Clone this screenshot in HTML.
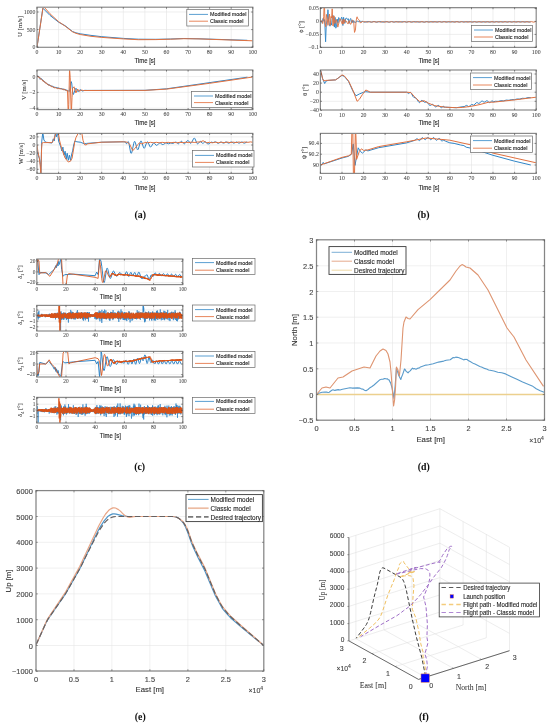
<!DOCTYPE html><html><head><meta charset="utf-8"><style>html,body{margin:0;padding:0;background:#fff;}svg{display:block;}</style></head><body><svg width="550" height="726" viewBox="0 0 550 726"><defs><clipPath id="c1"><rect x="37" y="7.2" width="215.8" height="40.1"/></clipPath><clipPath id="c2"><rect x="37" y="70" width="215.8" height="39.6"/></clipPath><clipPath id="c3"><rect x="37" y="133.4" width="215.8" height="40"/></clipPath><clipPath id="c4"><rect x="320.4" y="7.6" width="215.8" height="39.8"/></clipPath><clipPath id="c5"><rect x="320.4" y="70" width="215.8" height="40"/></clipPath><clipPath id="c6"><rect x="320.4" y="133.4" width="215.8" height="40"/></clipPath><clipPath id="c7"><rect x="36.8" y="259" width="146" height="25.6"/></clipPath><clipPath id="c8"><rect x="36.8" y="305.4" width="146" height="25.6"/></clipPath><clipPath id="c9"><rect x="36.8" y="351.4" width="146" height="25.6"/></clipPath><clipPath id="c10"><rect x="36.8" y="397.4" width="146" height="25.6"/></clipPath><clipPath id="c11"><rect x="316.5" y="239.8" width="228" height="180.4"/></clipPath><clipPath id="c12"><rect x="36" y="490.6" width="227.8" height="180.4"/></clipPath></defs><rect width="550" height="726" fill="#fff"/><line x1="58.6" y1="7.2" x2="58.6" y2="47.3" stroke="#e3e3e3" stroke-width="0.6"/>
<line x1="80.2" y1="7.2" x2="80.2" y2="47.3" stroke="#e3e3e3" stroke-width="0.6"/>
<line x1="101.7" y1="7.2" x2="101.7" y2="47.3" stroke="#e3e3e3" stroke-width="0.6"/>
<line x1="123.3" y1="7.2" x2="123.3" y2="47.3" stroke="#e3e3e3" stroke-width="0.6"/>
<line x1="144.9" y1="7.2" x2="144.9" y2="47.3" stroke="#e3e3e3" stroke-width="0.6"/>
<line x1="166.5" y1="7.2" x2="166.5" y2="47.3" stroke="#e3e3e3" stroke-width="0.6"/>
<line x1="188.1" y1="7.2" x2="188.1" y2="47.3" stroke="#e3e3e3" stroke-width="0.6"/>
<line x1="209.6" y1="7.2" x2="209.6" y2="47.3" stroke="#e3e3e3" stroke-width="0.6"/>
<line x1="231.2" y1="7.2" x2="231.2" y2="47.3" stroke="#e3e3e3" stroke-width="0.6"/>
<line x1="37" y1="29.6" x2="252.8" y2="29.6" stroke="#e3e3e3" stroke-width="0.6"/>
<line x1="37" y1="12" x2="252.8" y2="12" stroke="#e3e3e3" stroke-width="0.6"/>
<polyline points="37,47.2 42.8,8.6 43,8.3 50,15.4 58.6,22.2 65.1,25.7 72.5,31.5 75.9,32.8 80.2,33.8 91,35.4 101.8,36.7 123.4,38.4 138.3,39.2 155.8,39.3 170.7,39 183.9,38.5 199,38.8 247.3,40.3" fill="none" stroke="#2f84c6" stroke-width="1.0" stroke-linejoin="round" clip-path="url(#c1)"/>
<polyline points="37,47.2 43.2,6.5 44.2,7.2 50,13.8 58.6,21.7 65.1,26.1 72.5,31.8 75.9,33.3 80.2,34.5 91,36.3 101.8,37.4 123.4,38.9 138.3,39.7 155.8,39.6 170.7,39.2 183.9,38.7 199,38.9 252.8,40.8" fill="none" stroke="#e0703f" stroke-width="1.0" stroke-linejoin="round" clip-path="url(#c1)"/>
<rect x="37" y="7.2" width="215.8" height="40.1" fill="none" stroke="#8a8a8a" stroke-width="1.2"/>
<line x1="37" y1="47.3" x2="37" y2="45.7" stroke="#404040" stroke-width="0.6"/>
<line x1="37" y1="7.2" x2="37" y2="8.8" stroke="#404040" stroke-width="0.6"/>
<line x1="58.6" y1="47.3" x2="58.6" y2="45.7" stroke="#404040" stroke-width="0.6"/>
<line x1="58.6" y1="7.2" x2="58.6" y2="8.8" stroke="#404040" stroke-width="0.6"/>
<line x1="80.2" y1="47.3" x2="80.2" y2="45.7" stroke="#404040" stroke-width="0.6"/>
<line x1="80.2" y1="7.2" x2="80.2" y2="8.8" stroke="#404040" stroke-width="0.6"/>
<line x1="101.7" y1="47.3" x2="101.7" y2="45.7" stroke="#404040" stroke-width="0.6"/>
<line x1="101.7" y1="7.2" x2="101.7" y2="8.8" stroke="#404040" stroke-width="0.6"/>
<line x1="123.3" y1="47.3" x2="123.3" y2="45.7" stroke="#404040" stroke-width="0.6"/>
<line x1="123.3" y1="7.2" x2="123.3" y2="8.8" stroke="#404040" stroke-width="0.6"/>
<line x1="144.9" y1="47.3" x2="144.9" y2="45.7" stroke="#404040" stroke-width="0.6"/>
<line x1="144.9" y1="7.2" x2="144.9" y2="8.8" stroke="#404040" stroke-width="0.6"/>
<line x1="166.5" y1="47.3" x2="166.5" y2="45.7" stroke="#404040" stroke-width="0.6"/>
<line x1="166.5" y1="7.2" x2="166.5" y2="8.8" stroke="#404040" stroke-width="0.6"/>
<line x1="188.1" y1="47.3" x2="188.1" y2="45.7" stroke="#404040" stroke-width="0.6"/>
<line x1="188.1" y1="7.2" x2="188.1" y2="8.8" stroke="#404040" stroke-width="0.6"/>
<line x1="209.6" y1="47.3" x2="209.6" y2="45.7" stroke="#404040" stroke-width="0.6"/>
<line x1="209.6" y1="7.2" x2="209.6" y2="8.8" stroke="#404040" stroke-width="0.6"/>
<line x1="231.2" y1="47.3" x2="231.2" y2="45.7" stroke="#404040" stroke-width="0.6"/>
<line x1="231.2" y1="7.2" x2="231.2" y2="8.8" stroke="#404040" stroke-width="0.6"/>
<line x1="252.8" y1="47.3" x2="252.8" y2="45.7" stroke="#404040" stroke-width="0.6"/>
<line x1="252.8" y1="7.2" x2="252.8" y2="8.8" stroke="#404040" stroke-width="0.6"/>
<line x1="37" y1="47.2" x2="38.6" y2="47.2" stroke="#404040" stroke-width="0.6"/>
<line x1="252.8" y1="47.2" x2="251.2" y2="47.2" stroke="#404040" stroke-width="0.6"/>
<line x1="37" y1="29.6" x2="38.6" y2="29.6" stroke="#404040" stroke-width="0.6"/>
<line x1="252.8" y1="29.6" x2="251.2" y2="29.6" stroke="#404040" stroke-width="0.6"/>
<line x1="37" y1="12" x2="38.6" y2="12" stroke="#404040" stroke-width="0.6"/>
<line x1="252.8" y1="12" x2="251.2" y2="12" stroke="#404040" stroke-width="0.6"/>
<text x="37" y="54" font-family='"Liberation Serif", serif' font-size="5.8" text-anchor="middle" fill="#404040" stroke="#404040" stroke-width="0.04">0</text>
<text x="58.6" y="54" font-family='"Liberation Serif", serif' font-size="5.8" text-anchor="middle" fill="#404040" stroke="#404040" stroke-width="0.04">10</text>
<text x="80.2" y="54" font-family='"Liberation Serif", serif' font-size="5.8" text-anchor="middle" fill="#404040" stroke="#404040" stroke-width="0.04">20</text>
<text x="101.7" y="54" font-family='"Liberation Serif", serif' font-size="5.8" text-anchor="middle" fill="#404040" stroke="#404040" stroke-width="0.04">30</text>
<text x="123.3" y="54" font-family='"Liberation Serif", serif' font-size="5.8" text-anchor="middle" fill="#404040" stroke="#404040" stroke-width="0.04">40</text>
<text x="144.9" y="54" font-family='"Liberation Serif", serif' font-size="5.8" text-anchor="middle" fill="#404040" stroke="#404040" stroke-width="0.04">50</text>
<text x="166.5" y="54" font-family='"Liberation Serif", serif' font-size="5.8" text-anchor="middle" fill="#404040" stroke="#404040" stroke-width="0.04">60</text>
<text x="188.1" y="54" font-family='"Liberation Serif", serif' font-size="5.8" text-anchor="middle" fill="#404040" stroke="#404040" stroke-width="0.04">70</text>
<text x="209.6" y="54" font-family='"Liberation Serif", serif' font-size="5.8" text-anchor="middle" fill="#404040" stroke="#404040" stroke-width="0.04">80</text>
<text x="231.2" y="54" font-family='"Liberation Serif", serif' font-size="5.8" text-anchor="middle" fill="#404040" stroke="#404040" stroke-width="0.04">90</text>
<text x="252.8" y="54" font-family='"Liberation Serif", serif' font-size="5.8" text-anchor="middle" fill="#404040" stroke="#404040" stroke-width="0.04">100</text>
<text x="35.4" y="49.1" font-family='"Liberation Serif", serif' font-size="5.8" text-anchor="end" fill="#404040" stroke="#404040" stroke-width="0.04">0</text>
<text x="35.4" y="31.5" font-family='"Liberation Serif", serif' font-size="5.8" text-anchor="end" fill="#404040" stroke="#404040" stroke-width="0.04">500</text>
<text x="35.4" y="13.9" font-family='"Liberation Serif", serif' font-size="5.8" text-anchor="end" fill="#404040" stroke="#404040" stroke-width="0.04">1000</text>
<rect x="186.8" y="9.6" width="61.6" height="16.4" fill="#fff" stroke="#6a6a6a" stroke-width="0.7"/>
<line x1="189" y1="14.4" x2="208" y2="14.4" stroke="#5b9fd2" stroke-width="1.0"/>
<text x="210" y="16.3" font-family='"Liberation Sans", sans-serif' font-size="5.4" text-anchor="start" fill="#262626" stroke="#262626" stroke-width="0.12">Modified model</text>
<line x1="189" y1="21.2" x2="208" y2="21.2" stroke="#e8875d" stroke-width="1.0"/>
<text x="210" y="23.1" font-family='"Liberation Sans", sans-serif' font-size="5.4" text-anchor="start" fill="#262626" stroke="#262626" stroke-width="0.12">Classic model</text>
<text x="145" y="63.2" font-family='"Liberation Sans", sans-serif' font-size="6.3" text-anchor="middle" fill="#262626" stroke="#262626" stroke-width="0.12" textLength="21" lengthAdjust="spacingAndGlyphs">Time [s]</text>
<text x="0" y="0" font-family='"Liberation Serif", serif' font-size="7.0" text-anchor="middle" fill="#262626" stroke="#262626" stroke-width="0.04" textLength="21" lengthAdjust="spacingAndGlyphs" transform="translate(22.2,26.5) rotate(-90)">U [m/s]</text>
<line x1="58.6" y1="70" x2="58.6" y2="109.6" stroke="#e3e3e3" stroke-width="0.6"/>
<line x1="80.2" y1="70" x2="80.2" y2="109.6" stroke="#e3e3e3" stroke-width="0.6"/>
<line x1="101.7" y1="70" x2="101.7" y2="109.6" stroke="#e3e3e3" stroke-width="0.6"/>
<line x1="123.3" y1="70" x2="123.3" y2="109.6" stroke="#e3e3e3" stroke-width="0.6"/>
<line x1="144.9" y1="70" x2="144.9" y2="109.6" stroke="#e3e3e3" stroke-width="0.6"/>
<line x1="166.5" y1="70" x2="166.5" y2="109.6" stroke="#e3e3e3" stroke-width="0.6"/>
<line x1="188.1" y1="70" x2="188.1" y2="109.6" stroke="#e3e3e3" stroke-width="0.6"/>
<line x1="209.6" y1="70" x2="209.6" y2="109.6" stroke="#e3e3e3" stroke-width="0.6"/>
<line x1="231.2" y1="70" x2="231.2" y2="109.6" stroke="#e3e3e3" stroke-width="0.6"/>
<line x1="37" y1="108.2" x2="252.8" y2="108.2" stroke="#e3e3e3" stroke-width="0.6"/>
<line x1="37" y1="92.4" x2="252.8" y2="92.4" stroke="#e3e3e3" stroke-width="0.6"/>
<line x1="37" y1="76.6" x2="252.8" y2="76.6" stroke="#e3e3e3" stroke-width="0.6"/>
<polyline points="37,75.4 37.2,75.4 37.8,76.7 38.2,76.1 38.4,76.1 38.9,77.2 39,77.4 39.5,77.2 40.2,79.4 40.7,78.2 40.9,78.1 41,78.2 41.5,78.9 41.9,78.9 42.1,79.1 42.7,80.9 43.2,80.4 43.3,80.4 43.9,81.9 44.4,81.4 44.6,81.4 45.2,82.9 45.6,82.4 45.8,82.4 46.3,83.7 46.4,83.8 46.9,83.3 47,83.4 47.6,84.8 48.1,84.2 48.3,84.2 48.9,85.4 49.3,84.7 49.5,84.8 50.1,85.9 50.6,85.3 50.7,85.3 51.3,86.5 51.8,85.8 52,85.8 52.4,86.9 52.6,87 53,86.3 53.2,86.4 53.7,87.4 53.8,87.5 54.4,86.8 55,87.9 55.5,87.1 55.7,87.1 56.3,88.1 56.7,87.4 56.9,87.4 57.5,88.4 58,87.6 58.7,88.7 59.2,87.9 60,88.9 60.4,88.1 61.2,89.2 61.7,88.4 62.5,89.4 62.9,88.7 63.1,88.7 63.5,89.7 63.7,89.8 64.1,89.1 64.3,89.1 64.8,90.1 64.9,90.2 65.4,89.4 65.5,89.5 66,90.5 66.2,90.6 66.6,89.8 66.8,89.9 67.1,90.6 67.2,90.5 68.3,90.8 69.2,91.5 69.4,91.5 69.7,90.1 70.9,82.2 71.2,81.6 71.7,83.1 72.8,92.8 73.1,94.1 73.4,94.5 75.4,88.9 75.7,88.4 76,88.2 76.5,88.7 77.4,91.1 78,91.8 78.3,91.6 79.7,89.9 80.3,89.6 81.9,90.8 82.5,91 84.8,90.3 87.3,90.4 145,90.3 166.6,88.8 247.4,77.2" fill="none" stroke="#2f84c6" stroke-width="1.0" stroke-linejoin="round" clip-path="url(#c2)"/>
<polyline points="37,75.8 37.3,75.7 37.5,75.8 38.2,77.1 38.9,76.8 39.6,78.2 40.4,78.1 41.2,79.6 41.9,79.5 42.7,80.9 43.2,80.6 43.5,80.7 44.1,82 44.2,82.1 44.9,81.8 45.6,83.2 46.4,83 47.2,84.4 48,84.2 48.7,85.3 49.3,84.9 49.5,85 50.3,86.1 50.9,85.6 51.7,86.8 52.4,86.4 53.2,87.5 54,87.1 54.7,88.1 55.5,87.5 56.3,88.4 56.9,87.8 57.7,88.7 58.4,88 59.2,89 60,88.3 60.8,89.2 61.5,88.6 62.3,89.5 62.9,88.9 63.7,89.9 64.5,89.3 65.2,90.3 66,89.8 66.8,90.8 67.2,90.5 67.5,90.6 68.3,115.6 68.8,104.3 69.5,70.4 69.7,70.5 70.2,77.8 71.2,112.4 71.4,112.3 72,97.7 72.6,88.3 74,86.8 75.9,92.9 77.6,89 79.3,91.3 81.3,90.1 83.4,90.5 145,90.4 166.6,89.1 209.6,83.3 252.8,77" fill="none" stroke="#e0703f" stroke-width="1.0" stroke-linejoin="round" clip-path="url(#c2)"/>
<rect x="37" y="70" width="215.8" height="39.6" fill="none" stroke="#8a8a8a" stroke-width="1.2"/>
<line x1="37" y1="109.6" x2="37" y2="108" stroke="#404040" stroke-width="0.6"/>
<line x1="37" y1="70" x2="37" y2="71.6" stroke="#404040" stroke-width="0.6"/>
<line x1="58.6" y1="109.6" x2="58.6" y2="108" stroke="#404040" stroke-width="0.6"/>
<line x1="58.6" y1="70" x2="58.6" y2="71.6" stroke="#404040" stroke-width="0.6"/>
<line x1="80.2" y1="109.6" x2="80.2" y2="108" stroke="#404040" stroke-width="0.6"/>
<line x1="80.2" y1="70" x2="80.2" y2="71.6" stroke="#404040" stroke-width="0.6"/>
<line x1="101.7" y1="109.6" x2="101.7" y2="108" stroke="#404040" stroke-width="0.6"/>
<line x1="101.7" y1="70" x2="101.7" y2="71.6" stroke="#404040" stroke-width="0.6"/>
<line x1="123.3" y1="109.6" x2="123.3" y2="108" stroke="#404040" stroke-width="0.6"/>
<line x1="123.3" y1="70" x2="123.3" y2="71.6" stroke="#404040" stroke-width="0.6"/>
<line x1="144.9" y1="109.6" x2="144.9" y2="108" stroke="#404040" stroke-width="0.6"/>
<line x1="144.9" y1="70" x2="144.9" y2="71.6" stroke="#404040" stroke-width="0.6"/>
<line x1="166.5" y1="109.6" x2="166.5" y2="108" stroke="#404040" stroke-width="0.6"/>
<line x1="166.5" y1="70" x2="166.5" y2="71.6" stroke="#404040" stroke-width="0.6"/>
<line x1="188.1" y1="109.6" x2="188.1" y2="108" stroke="#404040" stroke-width="0.6"/>
<line x1="188.1" y1="70" x2="188.1" y2="71.6" stroke="#404040" stroke-width="0.6"/>
<line x1="209.6" y1="109.6" x2="209.6" y2="108" stroke="#404040" stroke-width="0.6"/>
<line x1="209.6" y1="70" x2="209.6" y2="71.6" stroke="#404040" stroke-width="0.6"/>
<line x1="231.2" y1="109.6" x2="231.2" y2="108" stroke="#404040" stroke-width="0.6"/>
<line x1="231.2" y1="70" x2="231.2" y2="71.6" stroke="#404040" stroke-width="0.6"/>
<line x1="252.8" y1="109.6" x2="252.8" y2="108" stroke="#404040" stroke-width="0.6"/>
<line x1="252.8" y1="70" x2="252.8" y2="71.6" stroke="#404040" stroke-width="0.6"/>
<line x1="37" y1="108.2" x2="38.6" y2="108.2" stroke="#404040" stroke-width="0.6"/>
<line x1="252.8" y1="108.2" x2="251.2" y2="108.2" stroke="#404040" stroke-width="0.6"/>
<line x1="37" y1="92.4" x2="38.6" y2="92.4" stroke="#404040" stroke-width="0.6"/>
<line x1="252.8" y1="92.4" x2="251.2" y2="92.4" stroke="#404040" stroke-width="0.6"/>
<line x1="37" y1="76.6" x2="38.6" y2="76.6" stroke="#404040" stroke-width="0.6"/>
<line x1="252.8" y1="76.6" x2="251.2" y2="76.6" stroke="#404040" stroke-width="0.6"/>
<text x="37" y="116.3" font-family='"Liberation Serif", serif' font-size="5.8" text-anchor="middle" fill="#404040" stroke="#404040" stroke-width="0.04">0</text>
<text x="58.6" y="116.3" font-family='"Liberation Serif", serif' font-size="5.8" text-anchor="middle" fill="#404040" stroke="#404040" stroke-width="0.04">10</text>
<text x="80.2" y="116.3" font-family='"Liberation Serif", serif' font-size="5.8" text-anchor="middle" fill="#404040" stroke="#404040" stroke-width="0.04">20</text>
<text x="101.7" y="116.3" font-family='"Liberation Serif", serif' font-size="5.8" text-anchor="middle" fill="#404040" stroke="#404040" stroke-width="0.04">30</text>
<text x="123.3" y="116.3" font-family='"Liberation Serif", serif' font-size="5.8" text-anchor="middle" fill="#404040" stroke="#404040" stroke-width="0.04">40</text>
<text x="144.9" y="116.3" font-family='"Liberation Serif", serif' font-size="5.8" text-anchor="middle" fill="#404040" stroke="#404040" stroke-width="0.04">50</text>
<text x="166.5" y="116.3" font-family='"Liberation Serif", serif' font-size="5.8" text-anchor="middle" fill="#404040" stroke="#404040" stroke-width="0.04">60</text>
<text x="188.1" y="116.3" font-family='"Liberation Serif", serif' font-size="5.8" text-anchor="middle" fill="#404040" stroke="#404040" stroke-width="0.04">70</text>
<text x="209.6" y="116.3" font-family='"Liberation Serif", serif' font-size="5.8" text-anchor="middle" fill="#404040" stroke="#404040" stroke-width="0.04">80</text>
<text x="231.2" y="116.3" font-family='"Liberation Serif", serif' font-size="5.8" text-anchor="middle" fill="#404040" stroke="#404040" stroke-width="0.04">90</text>
<text x="252.8" y="116.3" font-family='"Liberation Serif", serif' font-size="5.8" text-anchor="middle" fill="#404040" stroke="#404040" stroke-width="0.04">100</text>
<text x="35.4" y="110.1" font-family='"Liberation Serif", serif' font-size="5.8" text-anchor="end" fill="#404040" stroke="#404040" stroke-width="0.04">−4</text>
<text x="35.4" y="94.3" font-family='"Liberation Serif", serif' font-size="5.8" text-anchor="end" fill="#404040" stroke="#404040" stroke-width="0.04">−2</text>
<text x="35.4" y="78.5" font-family='"Liberation Serif", serif' font-size="5.8" text-anchor="end" fill="#404040" stroke="#404040" stroke-width="0.04">0</text>
<rect x="191.4" y="91.4" width="61.2" height="16" fill="#fff" stroke="#6a6a6a" stroke-width="0.7"/>
<line x1="194" y1="96" x2="213" y2="96" stroke="#5b9fd2" stroke-width="1.0"/>
<text x="215" y="97.9" font-family='"Liberation Sans", sans-serif' font-size="5.4" text-anchor="start" fill="#262626" stroke="#262626" stroke-width="0.12">Modified model</text>
<line x1="194" y1="102.6" x2="213" y2="102.6" stroke="#e8875d" stroke-width="1.0"/>
<text x="215" y="104.5" font-family='"Liberation Sans", sans-serif' font-size="5.4" text-anchor="start" fill="#262626" stroke="#262626" stroke-width="0.12">Classic model</text>
<text x="145" y="125.4" font-family='"Liberation Sans", sans-serif' font-size="6.3" text-anchor="middle" fill="#262626" stroke="#262626" stroke-width="0.12" textLength="21" lengthAdjust="spacingAndGlyphs">Time [s]</text>
<text x="0" y="0" font-family='"Liberation Serif", serif' font-size="7.0" text-anchor="middle" fill="#262626" stroke="#262626" stroke-width="0.04" textLength="20.4" lengthAdjust="spacingAndGlyphs" transform="translate(25.6,89.8) rotate(-90)">V [m/s]</text>
<line x1="58.6" y1="133.4" x2="58.6" y2="173.4" stroke="#e3e3e3" stroke-width="0.6"/>
<line x1="80.2" y1="133.4" x2="80.2" y2="173.4" stroke="#e3e3e3" stroke-width="0.6"/>
<line x1="101.7" y1="133.4" x2="101.7" y2="173.4" stroke="#e3e3e3" stroke-width="0.6"/>
<line x1="123.3" y1="133.4" x2="123.3" y2="173.4" stroke="#e3e3e3" stroke-width="0.6"/>
<line x1="144.9" y1="133.4" x2="144.9" y2="173.4" stroke="#e3e3e3" stroke-width="0.6"/>
<line x1="166.5" y1="133.4" x2="166.5" y2="173.4" stroke="#e3e3e3" stroke-width="0.6"/>
<line x1="188.1" y1="133.4" x2="188.1" y2="173.4" stroke="#e3e3e3" stroke-width="0.6"/>
<line x1="209.6" y1="133.4" x2="209.6" y2="173.4" stroke="#e3e3e3" stroke-width="0.6"/>
<line x1="231.2" y1="133.4" x2="231.2" y2="173.4" stroke="#e3e3e3" stroke-width="0.6"/>
<line x1="37" y1="169.3" x2="252.8" y2="169.3" stroke="#e3e3e3" stroke-width="0.6"/>
<line x1="37" y1="161.2" x2="252.8" y2="161.2" stroke="#e3e3e3" stroke-width="0.6"/>
<line x1="37" y1="153.1" x2="252.8" y2="153.1" stroke="#e3e3e3" stroke-width="0.6"/>
<line x1="37" y1="145" x2="252.8" y2="145" stroke="#e3e3e3" stroke-width="0.6"/>
<line x1="37" y1="136.9" x2="252.8" y2="136.9" stroke="#e3e3e3" stroke-width="0.6"/>
<polyline points="37,149.1 38.1,155.1 39.6,159.1 39.7,159.9 40.4,164.7 40.9,174.2 41.7,141.9 42.8,132.2 43.9,140 45.5,142 45.6,142.2 52,143 52.1,142.9 53.2,138.9 54.3,140.9 55.4,132.1 56.4,136.8 57.5,132.1 58.6,141 60.8,147.1 61.8,151 62.9,147.1 64,155.1 65.1,151.2 66.2,159.1 67.2,153.2 68.3,160.3 69.4,155.2 70.5,160.3 71.5,155 72.6,150.9 73.7,144.9 74.8,141 76.9,141.8 80.2,142.2 84.5,143.8 86.7,143.4 101.8,142.2 123.2,141.8 125.5,141.9 126.2,143.5 126.6,143.8 127.8,141.8 128.2,141.5 128.5,141.8 128.9,143.1 130.5,152 130.9,153.2 131.2,153.4 131.5,153.1 131.9,152.1 133.8,143.2 134.2,141.9 134.6,141.3 134.8,141.5 135.3,142.3 136.9,148.4 137.3,149.5 137.7,149.9 137.9,149.7 138.4,149 140.2,142.2 140.6,141.3 141.1,140.9 141.7,141.8 143.3,147 143.8,147.9 144.2,148.3 144.8,147.6 146.6,142.7 147,142 147.4,141.7 147.8,142 148.2,142.6 149.8,146.4 150.2,147 150.6,147.1 151.4,146.3 153.1,143.4 153.7,142.9 154.4,143.2 155.9,145 156.7,145.4 157.4,145.1 159,143.3 159.7,143 160.4,143.1 162,144.3 162.8,144.6 163.5,144.4 165.6,143 166.3,143 168.6,143.8 170.7,143 173,143.4 175.1,142.3 175.7,142.1 176.4,142.3 177.8,143.5 178.4,143.8 179.1,143.4 180.7,141.7 181.4,141.3 182.1,141.6 183.7,143.5 184.4,143.8 185.2,143.3 187.1,140.9 187.9,140.5 188.6,140.9 190.2,143.1 190.9,143.4 191.7,142.5 193.6,138.6 194.2,138 194.6,138.2 195,138.8 196.8,143 197.2,143.6 197.6,143.9 198.3,143.5 199.8,141.6 200.3,141.3 200.8,141.6 202.2,143.1 202.7,143.4 203.4,143.1 204.8,141.9 205.4,141.8 206,142.1 207.3,143.7 208.1,144 209.1,143.7 210.7,142.6 211,142 213.1,142.6 214.9,141.9 215.6,141.9 216.2,142.1 217.6,143.2 218.3,143.4 218.8,143.2 220.1,142.3 220.8,142.1 221.5,142.2 222.7,142.9 223.4,143.1 224.1,143 225.5,142 226.2,141.9 228.1,143 228.6,143.2 229.3,143 230.7,142.1 231.3,142 232,142.2 233.2,143 233.9,143.2 236.3,142 237,142.1 238.4,143 239,143.2 239.7,143 241.6,142 242.3,142.1 243.6,143 244.3,143.2 245,143 246.5,142.1 247.4,142.1" fill="none" stroke="#2f84c6" stroke-width="1.0" stroke-linejoin="round" clip-path="url(#c3)"/>
<polyline points="37,145 38.1,153.1 39.2,157.2 40.2,165.3 40.9,174.2 41.6,148.3 42,143 43.5,142.6 52.1,142.6 53.2,140.9 56.4,132 58.1,132 58.2,132.3 59.7,141 61.8,149.1 65.1,158 68.3,162 70.5,161.2 72.1,158.1 74.8,141.7 75.9,137.7 78.4,132.9 81.8,132.9 83,140.3 84.5,144.6 86,145 87.7,143.8 101.8,142.2 123.2,141.8 127.6,142.2 129.9,144.7 132.7,150.6 135.1,148.3 137.4,144.9 139.4,143 141.7,143.8 144.8,142.6 145,142.3 147.5,142.8 150.5,142.3 153.5,142.8 156.3,142.3 159.3,142.8 162.2,142.3 165.2,142.8 168.2,142.3 171,142.8 174,142.3 176.8,142.8 179.9,142.3 183,142.7 185.9,142.2 188.8,142.6 191.8,142.1 194.8,142.5 197.3,142 200.3,142 203.1,140.7 206.5,142.8 209.5,142.3 212.3,142.8 215.3,142.2 218.3,142.7 221.2,142.2 224.2,142.7 227.2,142.1 230,142.6 233,142.1 235.9,142.6 238.9,142 241.7,142.5 244.8,142 247.5,142.4 250.6,141.9 252.8,142.3" fill="none" stroke="#e0703f" stroke-width="1.0" stroke-linejoin="round" clip-path="url(#c3)"/>
<rect x="37" y="133.4" width="215.8" height="40" fill="none" stroke="#8a8a8a" stroke-width="1.2"/>
<line x1="37" y1="173.4" x2="37" y2="171.8" stroke="#404040" stroke-width="0.6"/>
<line x1="37" y1="133.4" x2="37" y2="135" stroke="#404040" stroke-width="0.6"/>
<line x1="58.6" y1="173.4" x2="58.6" y2="171.8" stroke="#404040" stroke-width="0.6"/>
<line x1="58.6" y1="133.4" x2="58.6" y2="135" stroke="#404040" stroke-width="0.6"/>
<line x1="80.2" y1="173.4" x2="80.2" y2="171.8" stroke="#404040" stroke-width="0.6"/>
<line x1="80.2" y1="133.4" x2="80.2" y2="135" stroke="#404040" stroke-width="0.6"/>
<line x1="101.7" y1="173.4" x2="101.7" y2="171.8" stroke="#404040" stroke-width="0.6"/>
<line x1="101.7" y1="133.4" x2="101.7" y2="135" stroke="#404040" stroke-width="0.6"/>
<line x1="123.3" y1="173.4" x2="123.3" y2="171.8" stroke="#404040" stroke-width="0.6"/>
<line x1="123.3" y1="133.4" x2="123.3" y2="135" stroke="#404040" stroke-width="0.6"/>
<line x1="144.9" y1="173.4" x2="144.9" y2="171.8" stroke="#404040" stroke-width="0.6"/>
<line x1="144.9" y1="133.4" x2="144.9" y2="135" stroke="#404040" stroke-width="0.6"/>
<line x1="166.5" y1="173.4" x2="166.5" y2="171.8" stroke="#404040" stroke-width="0.6"/>
<line x1="166.5" y1="133.4" x2="166.5" y2="135" stroke="#404040" stroke-width="0.6"/>
<line x1="188.1" y1="173.4" x2="188.1" y2="171.8" stroke="#404040" stroke-width="0.6"/>
<line x1="188.1" y1="133.4" x2="188.1" y2="135" stroke="#404040" stroke-width="0.6"/>
<line x1="209.6" y1="173.4" x2="209.6" y2="171.8" stroke="#404040" stroke-width="0.6"/>
<line x1="209.6" y1="133.4" x2="209.6" y2="135" stroke="#404040" stroke-width="0.6"/>
<line x1="231.2" y1="173.4" x2="231.2" y2="171.8" stroke="#404040" stroke-width="0.6"/>
<line x1="231.2" y1="133.4" x2="231.2" y2="135" stroke="#404040" stroke-width="0.6"/>
<line x1="252.8" y1="173.4" x2="252.8" y2="171.8" stroke="#404040" stroke-width="0.6"/>
<line x1="252.8" y1="133.4" x2="252.8" y2="135" stroke="#404040" stroke-width="0.6"/>
<line x1="37" y1="169.3" x2="38.6" y2="169.3" stroke="#404040" stroke-width="0.6"/>
<line x1="252.8" y1="169.3" x2="251.2" y2="169.3" stroke="#404040" stroke-width="0.6"/>
<line x1="37" y1="161.2" x2="38.6" y2="161.2" stroke="#404040" stroke-width="0.6"/>
<line x1="252.8" y1="161.2" x2="251.2" y2="161.2" stroke="#404040" stroke-width="0.6"/>
<line x1="37" y1="153.1" x2="38.6" y2="153.1" stroke="#404040" stroke-width="0.6"/>
<line x1="252.8" y1="153.1" x2="251.2" y2="153.1" stroke="#404040" stroke-width="0.6"/>
<line x1="37" y1="145" x2="38.6" y2="145" stroke="#404040" stroke-width="0.6"/>
<line x1="252.8" y1="145" x2="251.2" y2="145" stroke="#404040" stroke-width="0.6"/>
<line x1="37" y1="136.9" x2="38.6" y2="136.9" stroke="#404040" stroke-width="0.6"/>
<line x1="252.8" y1="136.9" x2="251.2" y2="136.9" stroke="#404040" stroke-width="0.6"/>
<text x="37" y="180.1" font-family='"Liberation Serif", serif' font-size="5.8" text-anchor="middle" fill="#404040" stroke="#404040" stroke-width="0.04">0</text>
<text x="58.6" y="180.1" font-family='"Liberation Serif", serif' font-size="5.8" text-anchor="middle" fill="#404040" stroke="#404040" stroke-width="0.04">10</text>
<text x="80.2" y="180.1" font-family='"Liberation Serif", serif' font-size="5.8" text-anchor="middle" fill="#404040" stroke="#404040" stroke-width="0.04">20</text>
<text x="101.7" y="180.1" font-family='"Liberation Serif", serif' font-size="5.8" text-anchor="middle" fill="#404040" stroke="#404040" stroke-width="0.04">30</text>
<text x="123.3" y="180.1" font-family='"Liberation Serif", serif' font-size="5.8" text-anchor="middle" fill="#404040" stroke="#404040" stroke-width="0.04">40</text>
<text x="144.9" y="180.1" font-family='"Liberation Serif", serif' font-size="5.8" text-anchor="middle" fill="#404040" stroke="#404040" stroke-width="0.04">50</text>
<text x="166.5" y="180.1" font-family='"Liberation Serif", serif' font-size="5.8" text-anchor="middle" fill="#404040" stroke="#404040" stroke-width="0.04">60</text>
<text x="188.1" y="180.1" font-family='"Liberation Serif", serif' font-size="5.8" text-anchor="middle" fill="#404040" stroke="#404040" stroke-width="0.04">70</text>
<text x="209.6" y="180.1" font-family='"Liberation Serif", serif' font-size="5.8" text-anchor="middle" fill="#404040" stroke="#404040" stroke-width="0.04">80</text>
<text x="231.2" y="180.1" font-family='"Liberation Serif", serif' font-size="5.8" text-anchor="middle" fill="#404040" stroke="#404040" stroke-width="0.04">90</text>
<text x="252.8" y="180.1" font-family='"Liberation Serif", serif' font-size="5.8" text-anchor="middle" fill="#404040" stroke="#404040" stroke-width="0.04">100</text>
<text x="35.4" y="171.2" font-family='"Liberation Serif", serif' font-size="5.8" text-anchor="end" fill="#404040" stroke="#404040" stroke-width="0.04">−60</text>
<text x="35.4" y="163.1" font-family='"Liberation Serif", serif' font-size="5.8" text-anchor="end" fill="#404040" stroke="#404040" stroke-width="0.04">−40</text>
<text x="35.4" y="155" font-family='"Liberation Serif", serif' font-size="5.8" text-anchor="end" fill="#404040" stroke="#404040" stroke-width="0.04">−20</text>
<text x="35.4" y="146.9" font-family='"Liberation Serif", serif' font-size="5.8" text-anchor="end" fill="#404040" stroke="#404040" stroke-width="0.04">0</text>
<text x="35.4" y="138.8" font-family='"Liberation Serif", serif' font-size="5.8" text-anchor="end" fill="#404040" stroke="#404040" stroke-width="0.04">20</text>
<rect x="192.4" y="150.6" width="61.6" height="16.4" fill="#fff" stroke="#6a6a6a" stroke-width="0.7"/>
<line x1="195" y1="155.4" x2="214" y2="155.4" stroke="#5b9fd2" stroke-width="1.0"/>
<text x="216" y="157.3" font-family='"Liberation Sans", sans-serif' font-size="5.4" text-anchor="start" fill="#262626" stroke="#262626" stroke-width="0.12">Modified model</text>
<line x1="195" y1="162.4" x2="214" y2="162.4" stroke="#e8875d" stroke-width="1.0"/>
<text x="216" y="164.3" font-family='"Liberation Sans", sans-serif' font-size="5.4" text-anchor="start" fill="#262626" stroke="#262626" stroke-width="0.12">Classic model</text>
<text x="145" y="190" font-family='"Liberation Sans", sans-serif' font-size="6.3" text-anchor="middle" fill="#262626" stroke="#262626" stroke-width="0.12" textLength="21" lengthAdjust="spacingAndGlyphs">Time [s]</text>
<text x="0" y="0" font-family='"Liberation Serif", serif' font-size="7.0" text-anchor="middle" fill="#262626" stroke="#262626" stroke-width="0.04" textLength="21" lengthAdjust="spacingAndGlyphs" transform="translate(23.2,153.5) rotate(-90)">W [m/s]</text>
<text x="140.2" y="218.1" font-family='"Liberation Serif", serif' font-size="9.8" text-anchor="middle" fill="#111" stroke="#111" stroke-width="0.04" font-weight="bold">(a)</text>
<line x1="342" y1="7.6" x2="342" y2="47.4" stroke="#e3e3e3" stroke-width="0.6"/>
<line x1="363.6" y1="7.6" x2="363.6" y2="47.4" stroke="#e3e3e3" stroke-width="0.6"/>
<line x1="385.1" y1="7.6" x2="385.1" y2="47.4" stroke="#e3e3e3" stroke-width="0.6"/>
<line x1="406.7" y1="7.6" x2="406.7" y2="47.4" stroke="#e3e3e3" stroke-width="0.6"/>
<line x1="428.3" y1="7.6" x2="428.3" y2="47.4" stroke="#e3e3e3" stroke-width="0.6"/>
<line x1="449.9" y1="7.6" x2="449.9" y2="47.4" stroke="#e3e3e3" stroke-width="0.6"/>
<line x1="471.5" y1="7.6" x2="471.5" y2="47.4" stroke="#e3e3e3" stroke-width="0.6"/>
<line x1="493" y1="7.6" x2="493" y2="47.4" stroke="#e3e3e3" stroke-width="0.6"/>
<line x1="514.6" y1="7.6" x2="514.6" y2="47.4" stroke="#e3e3e3" stroke-width="0.6"/>
<line x1="320.4" y1="34.4" x2="536.2" y2="34.4" stroke="#e3e3e3" stroke-width="0.6"/>
<line x1="320.4" y1="21.4" x2="536.2" y2="21.4" stroke="#e3e3e3" stroke-width="0.6"/>
<line x1="320.4" y1="8.4" x2="536.2" y2="8.4" stroke="#e3e3e3" stroke-width="0.6"/>
<polyline points="320.4,22.4 320.8,22.4 321.6,22.9 322.3,22.2 323,18.5 323.7,20.7 324.3,19.5 324.4,19.7 324.9,25.1 325.6,41.8 326.3,24.1 327.3,19.3 327.9,9.7 328,9.9 328.6,20.1 329.5,24.9 330,26.2 330.8,22.8 331.5,25.1 332.2,17.6 332.9,15.3 333.6,16.7 334.4,27.1 335.1,17.4 335.8,28.2 336.5,26.1 337.2,19 338,23.3 338.7,17.5 339.4,19.2 340.7,20.2 341.6,17.1 342.1,17.9 342.9,25.5 343.6,17.3 344.3,21.8 345,23.2 345.7,18.4 346.5,18 347.2,19.2 347.8,19.6 347.9,19 348.3,18.7 348.5,18.9 348.6,21 349,23.3 349.2,23.3 350.1,19.3 350.6,18.5 350.8,18.6 351.5,22.4 352.2,20.4 352.9,22.8 353.7,20.6 354.4,22 355.1,22.9 355.7,22.5 356.4,21.3 357.1,21.5 357.8,20.9 358.6,21.8 359.3,21.2 360,21.7 360.7,20.9 361.4,22.2 362.1,21.3 362.9,21.3 363.4,21.8 365.2,22.2 368.1,21.5 371.1,22.2 374,21.5 377,22.2 379.9,21.5 382.9,22.2 385.8,21.6 388.8,22.2 391.7,21.6 394.5,22.1 397.6,21.6 400.4,22.1 403.5,21.6 406.3,22.1 409.4,21.6 412.2,22.1 415.3,21.6 418.2,22.1 421.2,21.7 424.1,22.1 427.1,21.7 430,22 433,21.7 435.9,22 438.9,21.7 441.8,22 444.8,21.7 447.7,22 450.5,21.7 453.6,22 456.4,21.7 459.5,22 462.3,21.7 465.4,22 468.2,21.7 471.3,22 474.2,21.8 477.2,22 480.1,21.8 483.1,22 486,21.8 489,22 491.9,21.8 494.7,21.9 497.8,21.8 500.6,21.9 503.7,21.8 506.5,21.9 509.6,21.8 512.4,21.9 515.5,21.8 530.7,21.9" fill="none" stroke="#2f84c6" stroke-width="0.9" stroke-linejoin="round" clip-path="url(#c4)"/>
<polyline points="320.4,21.1 321.1,21.1 321.8,20.6 322.7,23.6 323.4,20.2 323.7,16.3 324.3,-0.6 324.9,20.1 325,23.1 325.6,26.7 325.7,26.7 326.4,14.4 327.2,18.5 327.9,25.4 328,25.3 328.7,18.5 329.5,14.1 330.2,25.3 330.9,17 331.1,16.4 331.6,18 332.2,8.8 332.9,25.8 333.2,26 333.9,15.9 334.1,15.9 334.8,23.5 335.5,22.1 336.2,19.5 337,21.9 337.8,27.1 340,18.9 340.1,18.8 340.8,20.4 342.3,24.2 343,19.3 343.9,23.8 344.6,19.6 345.3,21.4 346,21 346.2,21.1 347.6,23.6 348.3,23.7 349,20.7 349.2,20.7 349.9,23 350.6,24.4 351.4,23 352.2,19.8 352.9,20.8 353.5,21.1 353.7,21.5 354.5,32.4 355.1,30.8 355.4,30.5 356.1,21.3 356.7,17.9 357.1,16.8 357.4,18.1 358.4,19.4 359,19.8 360.4,23.1 361.1,22.1 362,22.1 362.7,21.2 363.6,22.1 365.3,21.6 367.5,22.2 369.6,21.6 371.8,22.2 374,21.6 376.1,22.2 378.4,21.6 380.6,22.2 382.7,21.6 384.9,22.2 387.1,21.6 389.2,22.2 391.7,21.6 393.7,22.2 395.8,21.6 398,22.2 400.2,21.6 402.5,22.2 404.6,21.6 406.8,22.2 408.9,21.6 411.1,22.2 413.4,21.6 415.6,22.2 417.7,21.6 419.9,22.2 422,21.6 424.3,22.2 426.5,21.6 428.7,22.2 430.8,21.6 433,22.2 435.1,21.6 437.4,22.2 439.6,21.6 441.8,22.2 443.9,21.6 446.1,22.2 448.4,21.6 450.5,22.2 452.7,21.6 454.9,22.2 457,21.6 459.3,22.2 461.5,21.6 463.6,22.2 465.8,21.6 468,22.2 470.3,21.6 472.4,22.2 474.6,21.6 476.7,22.2 478.9,21.6 481.2,22.2 483.4,21.6 485.5,22.2 487.7,21.6 489.8,22.2 492,21.6 494.3,22.2 496.5,21.6 498.6,22.2 500.8,21.6 502.9,22.2 505.1,21.6 507.4,22.2 509.6,21.6 511.7,22.2 513.9,21.6 516.2,22.2 518.2,21.6 520.5,22.2 522.7,21.6 524.8,22.2 527,21.6 529.3,22.2 531.3,21.6 533.6,22.2 535.5,21.6 536.2,21.6" fill="none" stroke="#e0703f" stroke-width="0.9" stroke-linejoin="round" clip-path="url(#c4)"/>
<rect x="320.4" y="7.6" width="215.8" height="39.8" fill="none" stroke="#8a8a8a" stroke-width="1.2"/>
<line x1="320.4" y1="47.4" x2="320.4" y2="45.8" stroke="#404040" stroke-width="0.6"/>
<line x1="320.4" y1="7.6" x2="320.4" y2="9.2" stroke="#404040" stroke-width="0.6"/>
<line x1="342" y1="47.4" x2="342" y2="45.8" stroke="#404040" stroke-width="0.6"/>
<line x1="342" y1="7.6" x2="342" y2="9.2" stroke="#404040" stroke-width="0.6"/>
<line x1="363.6" y1="47.4" x2="363.6" y2="45.8" stroke="#404040" stroke-width="0.6"/>
<line x1="363.6" y1="7.6" x2="363.6" y2="9.2" stroke="#404040" stroke-width="0.6"/>
<line x1="385.1" y1="47.4" x2="385.1" y2="45.8" stroke="#404040" stroke-width="0.6"/>
<line x1="385.1" y1="7.6" x2="385.1" y2="9.2" stroke="#404040" stroke-width="0.6"/>
<line x1="406.7" y1="47.4" x2="406.7" y2="45.8" stroke="#404040" stroke-width="0.6"/>
<line x1="406.7" y1="7.6" x2="406.7" y2="9.2" stroke="#404040" stroke-width="0.6"/>
<line x1="428.3" y1="47.4" x2="428.3" y2="45.8" stroke="#404040" stroke-width="0.6"/>
<line x1="428.3" y1="7.6" x2="428.3" y2="9.2" stroke="#404040" stroke-width="0.6"/>
<line x1="449.9" y1="47.4" x2="449.9" y2="45.8" stroke="#404040" stroke-width="0.6"/>
<line x1="449.9" y1="7.6" x2="449.9" y2="9.2" stroke="#404040" stroke-width="0.6"/>
<line x1="471.5" y1="47.4" x2="471.5" y2="45.8" stroke="#404040" stroke-width="0.6"/>
<line x1="471.5" y1="7.6" x2="471.5" y2="9.2" stroke="#404040" stroke-width="0.6"/>
<line x1="493" y1="47.4" x2="493" y2="45.8" stroke="#404040" stroke-width="0.6"/>
<line x1="493" y1="7.6" x2="493" y2="9.2" stroke="#404040" stroke-width="0.6"/>
<line x1="514.6" y1="47.4" x2="514.6" y2="45.8" stroke="#404040" stroke-width="0.6"/>
<line x1="514.6" y1="7.6" x2="514.6" y2="9.2" stroke="#404040" stroke-width="0.6"/>
<line x1="536.2" y1="47.4" x2="536.2" y2="45.8" stroke="#404040" stroke-width="0.6"/>
<line x1="536.2" y1="7.6" x2="536.2" y2="9.2" stroke="#404040" stroke-width="0.6"/>
<line x1="320.4" y1="47.4" x2="322" y2="47.4" stroke="#404040" stroke-width="0.6"/>
<line x1="536.2" y1="47.4" x2="534.6" y2="47.4" stroke="#404040" stroke-width="0.6"/>
<line x1="320.4" y1="34.4" x2="322" y2="34.4" stroke="#404040" stroke-width="0.6"/>
<line x1="536.2" y1="34.4" x2="534.6" y2="34.4" stroke="#404040" stroke-width="0.6"/>
<line x1="320.4" y1="21.4" x2="322" y2="21.4" stroke="#404040" stroke-width="0.6"/>
<line x1="536.2" y1="21.4" x2="534.6" y2="21.4" stroke="#404040" stroke-width="0.6"/>
<line x1="320.4" y1="8.4" x2="322" y2="8.4" stroke="#404040" stroke-width="0.6"/>
<line x1="536.2" y1="8.4" x2="534.6" y2="8.4" stroke="#404040" stroke-width="0.6"/>
<text x="320.4" y="54.1" font-family='"Liberation Serif", serif' font-size="5.8" text-anchor="middle" fill="#404040" stroke="#404040" stroke-width="0.04">0</text>
<text x="342" y="54.1" font-family='"Liberation Serif", serif' font-size="5.8" text-anchor="middle" fill="#404040" stroke="#404040" stroke-width="0.04">10</text>
<text x="363.6" y="54.1" font-family='"Liberation Serif", serif' font-size="5.8" text-anchor="middle" fill="#404040" stroke="#404040" stroke-width="0.04">20</text>
<text x="385.1" y="54.1" font-family='"Liberation Serif", serif' font-size="5.8" text-anchor="middle" fill="#404040" stroke="#404040" stroke-width="0.04">30</text>
<text x="406.7" y="54.1" font-family='"Liberation Serif", serif' font-size="5.8" text-anchor="middle" fill="#404040" stroke="#404040" stroke-width="0.04">40</text>
<text x="428.3" y="54.1" font-family='"Liberation Serif", serif' font-size="5.8" text-anchor="middle" fill="#404040" stroke="#404040" stroke-width="0.04">50</text>
<text x="449.9" y="54.1" font-family='"Liberation Serif", serif' font-size="5.8" text-anchor="middle" fill="#404040" stroke="#404040" stroke-width="0.04">60</text>
<text x="471.5" y="54.1" font-family='"Liberation Serif", serif' font-size="5.8" text-anchor="middle" fill="#404040" stroke="#404040" stroke-width="0.04">70</text>
<text x="493" y="54.1" font-family='"Liberation Serif", serif' font-size="5.8" text-anchor="middle" fill="#404040" stroke="#404040" stroke-width="0.04">80</text>
<text x="514.6" y="54.1" font-family='"Liberation Serif", serif' font-size="5.8" text-anchor="middle" fill="#404040" stroke="#404040" stroke-width="0.04">90</text>
<text x="536.2" y="54.1" font-family='"Liberation Serif", serif' font-size="5.8" text-anchor="middle" fill="#404040" stroke="#404040" stroke-width="0.04">100</text>
<text x="318.8" y="49.3" font-family='"Liberation Serif", serif' font-size="5.8" text-anchor="end" fill="#404040" stroke="#404040" stroke-width="0.04">−0.1</text>
<text x="318.8" y="36.3" font-family='"Liberation Serif", serif' font-size="5.8" text-anchor="end" fill="#404040" stroke="#404040" stroke-width="0.04">−0.05</text>
<text x="318.8" y="23.3" font-family='"Liberation Serif", serif' font-size="5.8" text-anchor="end" fill="#404040" stroke="#404040" stroke-width="0.04">0</text>
<text x="318.8" y="10.3" font-family='"Liberation Serif", serif' font-size="5.8" text-anchor="end" fill="#404040" stroke="#404040" stroke-width="0.04">0.05</text>
<rect x="471.4" y="25.4" width="61.2" height="16" fill="#fff" stroke="#6a6a6a" stroke-width="0.7"/>
<line x1="474" y1="30" x2="493" y2="30" stroke="#5b9fd2" stroke-width="1.0"/>
<text x="495" y="31.9" font-family='"Liberation Sans", sans-serif' font-size="5.4" text-anchor="start" fill="#262626" stroke="#262626" stroke-width="0.12">Modified model</text>
<line x1="474" y1="37" x2="493" y2="37" stroke="#e8875d" stroke-width="1.0"/>
<text x="495" y="38.9" font-family='"Liberation Sans", sans-serif' font-size="5.4" text-anchor="start" fill="#262626" stroke="#262626" stroke-width="0.12">Classic model</text>
<text x="429" y="63.2" font-family='"Liberation Sans", sans-serif' font-size="6.3" text-anchor="middle" fill="#262626" stroke="#262626" stroke-width="0.12" textLength="21" lengthAdjust="spacingAndGlyphs">Time [s]</text>
<text x="0" y="0" font-family='"Liberation Serif", serif' font-size="6.3" text-anchor="middle" fill="#262626" stroke="#262626" stroke-width="0.04" transform="translate(302.6,27) rotate(-90)">ϕ [°]</text>
<line x1="342" y1="70" x2="342" y2="110" stroke="#e3e3e3" stroke-width="0.6"/>
<line x1="363.6" y1="70" x2="363.6" y2="110" stroke="#e3e3e3" stroke-width="0.6"/>
<line x1="385.1" y1="70" x2="385.1" y2="110" stroke="#e3e3e3" stroke-width="0.6"/>
<line x1="406.7" y1="70" x2="406.7" y2="110" stroke="#e3e3e3" stroke-width="0.6"/>
<line x1="428.3" y1="70" x2="428.3" y2="110" stroke="#e3e3e3" stroke-width="0.6"/>
<line x1="449.9" y1="70" x2="449.9" y2="110" stroke="#e3e3e3" stroke-width="0.6"/>
<line x1="471.5" y1="70" x2="471.5" y2="110" stroke="#e3e3e3" stroke-width="0.6"/>
<line x1="493" y1="70" x2="493" y2="110" stroke="#e3e3e3" stroke-width="0.6"/>
<line x1="514.6" y1="70" x2="514.6" y2="110" stroke="#e3e3e3" stroke-width="0.6"/>
<line x1="320.4" y1="101.3" x2="536.2" y2="101.3" stroke="#e3e3e3" stroke-width="0.6"/>
<line x1="320.4" y1="92.2" x2="536.2" y2="92.2" stroke="#e3e3e3" stroke-width="0.6"/>
<line x1="320.4" y1="83.1" x2="536.2" y2="83.1" stroke="#e3e3e3" stroke-width="0.6"/>
<line x1="320.4" y1="74" x2="536.2" y2="74" stroke="#e3e3e3" stroke-width="0.6"/>
<polyline points="320.4,69.4 322.6,78.6 324.7,83.5 325.8,81.3 328,80.4 335.5,79.9 342,75.4 344.2,76.3 348.5,81.3 352.8,90.9 356,95.8 359.3,94 363.4,92.3 365.8,91.7 370.1,92.2 406.6,92.2 408.8,93.5 409.8,92.6 410.5,92.4 411.1,92.9 413.1,96.7 413.7,97.3 416.1,98.1 417,99.2 418.3,101.6 419.1,102.5 419.6,102.7 419.8,102.5 421.1,100.7 421.9,100.4 424.7,102.3 426.5,101.9 427.1,102.2 429.1,104.8 429.9,105.5 430.6,105.4 432.1,104.3 432.9,104.4 434.9,106.6 435.5,106.9 436.2,106.8 437.5,105.6 438.1,105.3 439,105.6 440.5,107.3 441.2,107.7 441.8,107.5 443.3,106.2 443.5,107 445.5,107.2 456.3,107.7 464.9,106.4 465.8,105.6 466.4,105.4 467.1,105.6 468.2,106.4 468.8,106.6 469.5,106.3 470.7,105 471.4,104.6 472,104.5 473.6,105.2 474.2,105 475.9,103 476.6,102.6 477.2,102.6 478.5,103.4 479.2,103.4 479.8,102.9 481.3,101.3 482,101 482.6,101.2 483.9,102.1 484.6,102.1 485.2,101.8 486.5,100.8 487.2,100.8 488.9,102.3 489.5,102.6 490.2,102.4 491.5,101.2 492.1,100.9 493,101.3 493.2,101.9 495.4,101.3 498.2,101.4 500.8,100.7 503.6,100.9 506.2,100.1 509,100.3 511.6,99.6 514.4,99.7 517,99 519.8,99.1 522.2,98.3 525.2,98.4 528,97.6 530.8,97.7" fill="none" stroke="#2f84c6" stroke-width="1.0" stroke-linejoin="round" clip-path="url(#c5)"/>
<polyline points="320.4,69.4 322.6,78.6 323.6,80.8 325.8,80.4 335.5,79.9 337.7,78.5 342,74.9 344.2,75.8 348.5,80.9 352.8,90 357.1,101.3 359.3,99.4 362.5,94.4 365.8,90 367.9,90.9 370.1,92.2 406.6,92.2 410.9,92.6 415.4,97.8 419.8,101.7 424.1,100.7 428.4,103.2 434.9,105.7 445.5,107.2 456.3,107.7 462.8,107.4 471.4,106.3 480,104.5 488.7,102.2 493.2,102.2 514.6,99.9 536.2,97.2" fill="none" stroke="#e0703f" stroke-width="1.0" stroke-linejoin="round" clip-path="url(#c5)"/>
<rect x="320.4" y="70" width="215.8" height="40" fill="none" stroke="#8a8a8a" stroke-width="1.2"/>
<line x1="320.4" y1="110" x2="320.4" y2="108.4" stroke="#404040" stroke-width="0.6"/>
<line x1="320.4" y1="70" x2="320.4" y2="71.6" stroke="#404040" stroke-width="0.6"/>
<line x1="342" y1="110" x2="342" y2="108.4" stroke="#404040" stroke-width="0.6"/>
<line x1="342" y1="70" x2="342" y2="71.6" stroke="#404040" stroke-width="0.6"/>
<line x1="363.6" y1="110" x2="363.6" y2="108.4" stroke="#404040" stroke-width="0.6"/>
<line x1="363.6" y1="70" x2="363.6" y2="71.6" stroke="#404040" stroke-width="0.6"/>
<line x1="385.1" y1="110" x2="385.1" y2="108.4" stroke="#404040" stroke-width="0.6"/>
<line x1="385.1" y1="70" x2="385.1" y2="71.6" stroke="#404040" stroke-width="0.6"/>
<line x1="406.7" y1="110" x2="406.7" y2="108.4" stroke="#404040" stroke-width="0.6"/>
<line x1="406.7" y1="70" x2="406.7" y2="71.6" stroke="#404040" stroke-width="0.6"/>
<line x1="428.3" y1="110" x2="428.3" y2="108.4" stroke="#404040" stroke-width="0.6"/>
<line x1="428.3" y1="70" x2="428.3" y2="71.6" stroke="#404040" stroke-width="0.6"/>
<line x1="449.9" y1="110" x2="449.9" y2="108.4" stroke="#404040" stroke-width="0.6"/>
<line x1="449.9" y1="70" x2="449.9" y2="71.6" stroke="#404040" stroke-width="0.6"/>
<line x1="471.5" y1="110" x2="471.5" y2="108.4" stroke="#404040" stroke-width="0.6"/>
<line x1="471.5" y1="70" x2="471.5" y2="71.6" stroke="#404040" stroke-width="0.6"/>
<line x1="493" y1="110" x2="493" y2="108.4" stroke="#404040" stroke-width="0.6"/>
<line x1="493" y1="70" x2="493" y2="71.6" stroke="#404040" stroke-width="0.6"/>
<line x1="514.6" y1="110" x2="514.6" y2="108.4" stroke="#404040" stroke-width="0.6"/>
<line x1="514.6" y1="70" x2="514.6" y2="71.6" stroke="#404040" stroke-width="0.6"/>
<line x1="536.2" y1="110" x2="536.2" y2="108.4" stroke="#404040" stroke-width="0.6"/>
<line x1="536.2" y1="70" x2="536.2" y2="71.6" stroke="#404040" stroke-width="0.6"/>
<line x1="320.4" y1="110.4" x2="322" y2="110.4" stroke="#404040" stroke-width="0.6"/>
<line x1="536.2" y1="110.4" x2="534.6" y2="110.4" stroke="#404040" stroke-width="0.6"/>
<line x1="320.4" y1="101.3" x2="322" y2="101.3" stroke="#404040" stroke-width="0.6"/>
<line x1="536.2" y1="101.3" x2="534.6" y2="101.3" stroke="#404040" stroke-width="0.6"/>
<line x1="320.4" y1="92.2" x2="322" y2="92.2" stroke="#404040" stroke-width="0.6"/>
<line x1="536.2" y1="92.2" x2="534.6" y2="92.2" stroke="#404040" stroke-width="0.6"/>
<line x1="320.4" y1="83.1" x2="322" y2="83.1" stroke="#404040" stroke-width="0.6"/>
<line x1="536.2" y1="83.1" x2="534.6" y2="83.1" stroke="#404040" stroke-width="0.6"/>
<line x1="320.4" y1="74" x2="322" y2="74" stroke="#404040" stroke-width="0.6"/>
<line x1="536.2" y1="74" x2="534.6" y2="74" stroke="#404040" stroke-width="0.6"/>
<text x="320.4" y="116.7" font-family='"Liberation Serif", serif' font-size="5.8" text-anchor="middle" fill="#404040" stroke="#404040" stroke-width="0.04">0</text>
<text x="342" y="116.7" font-family='"Liberation Serif", serif' font-size="5.8" text-anchor="middle" fill="#404040" stroke="#404040" stroke-width="0.04">10</text>
<text x="363.6" y="116.7" font-family='"Liberation Serif", serif' font-size="5.8" text-anchor="middle" fill="#404040" stroke="#404040" stroke-width="0.04">20</text>
<text x="385.1" y="116.7" font-family='"Liberation Serif", serif' font-size="5.8" text-anchor="middle" fill="#404040" stroke="#404040" stroke-width="0.04">30</text>
<text x="406.7" y="116.7" font-family='"Liberation Serif", serif' font-size="5.8" text-anchor="middle" fill="#404040" stroke="#404040" stroke-width="0.04">40</text>
<text x="428.3" y="116.7" font-family='"Liberation Serif", serif' font-size="5.8" text-anchor="middle" fill="#404040" stroke="#404040" stroke-width="0.04">50</text>
<text x="449.9" y="116.7" font-family='"Liberation Serif", serif' font-size="5.8" text-anchor="middle" fill="#404040" stroke="#404040" stroke-width="0.04">60</text>
<text x="471.5" y="116.7" font-family='"Liberation Serif", serif' font-size="5.8" text-anchor="middle" fill="#404040" stroke="#404040" stroke-width="0.04">70</text>
<text x="493" y="116.7" font-family='"Liberation Serif", serif' font-size="5.8" text-anchor="middle" fill="#404040" stroke="#404040" stroke-width="0.04">80</text>
<text x="514.6" y="116.7" font-family='"Liberation Serif", serif' font-size="5.8" text-anchor="middle" fill="#404040" stroke="#404040" stroke-width="0.04">90</text>
<text x="536.2" y="116.7" font-family='"Liberation Serif", serif' font-size="5.8" text-anchor="middle" fill="#404040" stroke="#404040" stroke-width="0.04">100</text>
<text x="318.8" y="112.3" font-family='"Liberation Serif", serif' font-size="5.8" text-anchor="end" fill="#404040" stroke="#404040" stroke-width="0.04">−40</text>
<text x="318.8" y="103.2" font-family='"Liberation Serif", serif' font-size="5.8" text-anchor="end" fill="#404040" stroke="#404040" stroke-width="0.04">−20</text>
<text x="318.8" y="94.1" font-family='"Liberation Serif", serif' font-size="5.8" text-anchor="end" fill="#404040" stroke="#404040" stroke-width="0.04">0</text>
<text x="318.8" y="85" font-family='"Liberation Serif", serif' font-size="5.8" text-anchor="end" fill="#404040" stroke="#404040" stroke-width="0.04">20</text>
<text x="318.8" y="75.9" font-family='"Liberation Serif", serif' font-size="5.8" text-anchor="end" fill="#404040" stroke="#404040" stroke-width="0.04">40</text>
<rect x="470.4" y="73" width="61" height="16.4" fill="#fff" stroke="#6a6a6a" stroke-width="0.7"/>
<line x1="473" y1="77.6" x2="492" y2="77.6" stroke="#5b9fd2" stroke-width="1.0"/>
<text x="494" y="79.5" font-family='"Liberation Sans", sans-serif' font-size="5.4" text-anchor="start" fill="#262626" stroke="#262626" stroke-width="0.12">Modified model</text>
<line x1="473" y1="85" x2="492" y2="85" stroke="#e8875d" stroke-width="1.0"/>
<text x="494" y="86.9" font-family='"Liberation Sans", sans-serif' font-size="5.4" text-anchor="start" fill="#262626" stroke="#262626" stroke-width="0.12">Classic model</text>
<text x="429" y="125.4" font-family='"Liberation Sans", sans-serif' font-size="6.3" text-anchor="middle" fill="#262626" stroke="#262626" stroke-width="0.12" textLength="21" lengthAdjust="spacingAndGlyphs">Time [s]</text>
<text x="0" y="0" font-family='"Liberation Serif", serif' font-size="6.3" text-anchor="middle" fill="#262626" stroke="#262626" stroke-width="0.04" transform="translate(306.8,90) rotate(-90)">θ [°]</text>
<line x1="342" y1="133.4" x2="342" y2="173.4" stroke="#e3e3e3" stroke-width="0.6"/>
<line x1="363.6" y1="133.4" x2="363.6" y2="173.4" stroke="#e3e3e3" stroke-width="0.6"/>
<line x1="385.1" y1="133.4" x2="385.1" y2="173.4" stroke="#e3e3e3" stroke-width="0.6"/>
<line x1="406.7" y1="133.4" x2="406.7" y2="173.4" stroke="#e3e3e3" stroke-width="0.6"/>
<line x1="428.3" y1="133.4" x2="428.3" y2="173.4" stroke="#e3e3e3" stroke-width="0.6"/>
<line x1="449.9" y1="133.4" x2="449.9" y2="173.4" stroke="#e3e3e3" stroke-width="0.6"/>
<line x1="471.5" y1="133.4" x2="471.5" y2="173.4" stroke="#e3e3e3" stroke-width="0.6"/>
<line x1="493" y1="133.4" x2="493" y2="173.4" stroke="#e3e3e3" stroke-width="0.6"/>
<line x1="514.6" y1="133.4" x2="514.6" y2="173.4" stroke="#e3e3e3" stroke-width="0.6"/>
<line x1="320.4" y1="165" x2="536.2" y2="165" stroke="#e3e3e3" stroke-width="0.6"/>
<line x1="320.4" y1="154.2" x2="536.2" y2="154.2" stroke="#e3e3e3" stroke-width="0.6"/>
<line x1="320.4" y1="143.4" x2="536.2" y2="143.4" stroke="#e3e3e3" stroke-width="0.6"/>
<polyline points="320.4,165 322.6,163.9 323.2,162.4 324.1,163.9 342,158 348.5,156.3 351.7,154 353.1,144.1 353.3,144.1 355,165.4 358.2,147.8 360.4,151.5 362.5,153.1 365.8,149.9 367.9,150.9 378.7,147.7 406.6,142.9 415.3,140.2 416.2,139 416.8,138.7 417.4,138.9 419,140.4 419.6,140.6 420.4,140 421.7,138 422.4,137.7 423,137.8 424.5,139.4 425.3,139.7 425.9,139.3 427.3,137.7 427.9,137.4 428.5,137.6 430.1,139.4 430.7,139.7 431.5,139.4 433,137.7 433.8,137.6 434.4,138.1 435.8,139.9 436.4,140.3 437.2,140 438.6,138.5 439.3,138.4 439.9,138.8 441.3,140.7 442,141.1 442.6,141 443.8,139.8 444,140.4 445.5,141.2 449.8,142.8 454.1,143.4 460.6,145 463.9,145.6 466.2,147.2 471.6,148.3 493,155.3 514.6,161.2 530.8,165" fill="none" stroke="#2f84c6" stroke-width="1.0" stroke-linejoin="round" clip-path="url(#c6)"/>
<polyline points="320.4,165 342,157.4 348.5,155.8 351.3,154.2 352,127.2 352.6,127.2 352.8,128.9 353.4,175.3 353.6,175.8 354.5,175.8 355.3,132.6 355.7,132.6 355.9,135.3 356.6,159.4 359.3,151.5 361.4,148.8 363.6,150.4 367.9,149.9 378.7,146.6 406.6,141.8 426.2,138 449.8,140.2 471.4,145 493,153.1 536.2,162.8" fill="none" stroke="#e0703f" stroke-width="1.0" stroke-linejoin="round" clip-path="url(#c6)"/>
<rect x="320.4" y="133.4" width="215.8" height="40" fill="none" stroke="#8a8a8a" stroke-width="1.2"/>
<line x1="320.4" y1="173.4" x2="320.4" y2="171.8" stroke="#404040" stroke-width="0.6"/>
<line x1="320.4" y1="133.4" x2="320.4" y2="135" stroke="#404040" stroke-width="0.6"/>
<line x1="342" y1="173.4" x2="342" y2="171.8" stroke="#404040" stroke-width="0.6"/>
<line x1="342" y1="133.4" x2="342" y2="135" stroke="#404040" stroke-width="0.6"/>
<line x1="363.6" y1="173.4" x2="363.6" y2="171.8" stroke="#404040" stroke-width="0.6"/>
<line x1="363.6" y1="133.4" x2="363.6" y2="135" stroke="#404040" stroke-width="0.6"/>
<line x1="385.1" y1="173.4" x2="385.1" y2="171.8" stroke="#404040" stroke-width="0.6"/>
<line x1="385.1" y1="133.4" x2="385.1" y2="135" stroke="#404040" stroke-width="0.6"/>
<line x1="406.7" y1="173.4" x2="406.7" y2="171.8" stroke="#404040" stroke-width="0.6"/>
<line x1="406.7" y1="133.4" x2="406.7" y2="135" stroke="#404040" stroke-width="0.6"/>
<line x1="428.3" y1="173.4" x2="428.3" y2="171.8" stroke="#404040" stroke-width="0.6"/>
<line x1="428.3" y1="133.4" x2="428.3" y2="135" stroke="#404040" stroke-width="0.6"/>
<line x1="449.9" y1="173.4" x2="449.9" y2="171.8" stroke="#404040" stroke-width="0.6"/>
<line x1="449.9" y1="133.4" x2="449.9" y2="135" stroke="#404040" stroke-width="0.6"/>
<line x1="471.5" y1="173.4" x2="471.5" y2="171.8" stroke="#404040" stroke-width="0.6"/>
<line x1="471.5" y1="133.4" x2="471.5" y2="135" stroke="#404040" stroke-width="0.6"/>
<line x1="493" y1="173.4" x2="493" y2="171.8" stroke="#404040" stroke-width="0.6"/>
<line x1="493" y1="133.4" x2="493" y2="135" stroke="#404040" stroke-width="0.6"/>
<line x1="514.6" y1="173.4" x2="514.6" y2="171.8" stroke="#404040" stroke-width="0.6"/>
<line x1="514.6" y1="133.4" x2="514.6" y2="135" stroke="#404040" stroke-width="0.6"/>
<line x1="536.2" y1="173.4" x2="536.2" y2="171.8" stroke="#404040" stroke-width="0.6"/>
<line x1="536.2" y1="133.4" x2="536.2" y2="135" stroke="#404040" stroke-width="0.6"/>
<line x1="320.4" y1="165" x2="322" y2="165" stroke="#404040" stroke-width="0.6"/>
<line x1="536.2" y1="165" x2="534.6" y2="165" stroke="#404040" stroke-width="0.6"/>
<line x1="320.4" y1="154.2" x2="322" y2="154.2" stroke="#404040" stroke-width="0.6"/>
<line x1="536.2" y1="154.2" x2="534.6" y2="154.2" stroke="#404040" stroke-width="0.6"/>
<line x1="320.4" y1="143.4" x2="322" y2="143.4" stroke="#404040" stroke-width="0.6"/>
<line x1="536.2" y1="143.4" x2="534.6" y2="143.4" stroke="#404040" stroke-width="0.6"/>
<text x="320.4" y="180.1" font-family='"Liberation Serif", serif' font-size="5.8" text-anchor="middle" fill="#404040" stroke="#404040" stroke-width="0.04">0</text>
<text x="342" y="180.1" font-family='"Liberation Serif", serif' font-size="5.8" text-anchor="middle" fill="#404040" stroke="#404040" stroke-width="0.04">10</text>
<text x="363.6" y="180.1" font-family='"Liberation Serif", serif' font-size="5.8" text-anchor="middle" fill="#404040" stroke="#404040" stroke-width="0.04">20</text>
<text x="385.1" y="180.1" font-family='"Liberation Serif", serif' font-size="5.8" text-anchor="middle" fill="#404040" stroke="#404040" stroke-width="0.04">30</text>
<text x="406.7" y="180.1" font-family='"Liberation Serif", serif' font-size="5.8" text-anchor="middle" fill="#404040" stroke="#404040" stroke-width="0.04">40</text>
<text x="428.3" y="180.1" font-family='"Liberation Serif", serif' font-size="5.8" text-anchor="middle" fill="#404040" stroke="#404040" stroke-width="0.04">50</text>
<text x="449.9" y="180.1" font-family='"Liberation Serif", serif' font-size="5.8" text-anchor="middle" fill="#404040" stroke="#404040" stroke-width="0.04">60</text>
<text x="471.5" y="180.1" font-family='"Liberation Serif", serif' font-size="5.8" text-anchor="middle" fill="#404040" stroke="#404040" stroke-width="0.04">70</text>
<text x="493" y="180.1" font-family='"Liberation Serif", serif' font-size="5.8" text-anchor="middle" fill="#404040" stroke="#404040" stroke-width="0.04">80</text>
<text x="514.6" y="180.1" font-family='"Liberation Serif", serif' font-size="5.8" text-anchor="middle" fill="#404040" stroke="#404040" stroke-width="0.04">90</text>
<text x="536.2" y="180.1" font-family='"Liberation Serif", serif' font-size="5.8" text-anchor="middle" fill="#404040" stroke="#404040" stroke-width="0.04">100</text>
<text x="318.8" y="166.9" font-family='"Liberation Serif", serif' font-size="5.8" text-anchor="end" fill="#404040" stroke="#404040" stroke-width="0.04">90</text>
<text x="318.8" y="156.1" font-family='"Liberation Serif", serif' font-size="5.8" text-anchor="end" fill="#404040" stroke="#404040" stroke-width="0.04">90.2</text>
<text x="318.8" y="145.3" font-family='"Liberation Serif", serif' font-size="5.8" text-anchor="end" fill="#404040" stroke="#404040" stroke-width="0.04">90.4</text>
<rect x="470.4" y="136" width="62" height="16.4" fill="#fff" stroke="#6a6a6a" stroke-width="0.7"/>
<line x1="473" y1="140.6" x2="492" y2="140.6" stroke="#5b9fd2" stroke-width="1.0"/>
<text x="494" y="142.5" font-family='"Liberation Sans", sans-serif' font-size="5.4" text-anchor="start" fill="#262626" stroke="#262626" stroke-width="0.12">Modified model</text>
<line x1="473" y1="148.2" x2="492" y2="148.2" stroke="#e8875d" stroke-width="1.0"/>
<text x="494" y="150.1" font-family='"Liberation Sans", sans-serif' font-size="5.4" text-anchor="start" fill="#262626" stroke="#262626" stroke-width="0.12">Classic model</text>
<text x="429" y="189.6" font-family='"Liberation Sans", sans-serif' font-size="6.3" text-anchor="middle" fill="#262626" stroke="#262626" stroke-width="0.12" textLength="21" lengthAdjust="spacingAndGlyphs">Time [s]</text>
<text x="0" y="0" font-family='"Liberation Serif", serif' font-size="6.3" text-anchor="middle" fill="#262626" stroke="#262626" stroke-width="0.04" transform="translate(305.6,153) rotate(-90)">ψ [°]</text>
<text x="423.6" y="217.5" font-family='"Liberation Serif", serif' font-size="9.8" text-anchor="middle" fill="#111" stroke="#111" stroke-width="0.04" font-weight="bold">(b)</text>
<line x1="66" y1="259" x2="66" y2="284.6" stroke="#e3e3e3" stroke-width="0.6"/>
<line x1="95.2" y1="259" x2="95.2" y2="284.6" stroke="#e3e3e3" stroke-width="0.6"/>
<line x1="124.4" y1="259" x2="124.4" y2="284.6" stroke="#e3e3e3" stroke-width="0.6"/>
<line x1="153.6" y1="259" x2="153.6" y2="284.6" stroke="#e3e3e3" stroke-width="0.6"/>
<line x1="36.8" y1="282.7" x2="182.8" y2="282.7" stroke="#e3e3e3" stroke-width="0.6"/>
<line x1="36.8" y1="272" x2="182.8" y2="272" stroke="#e3e3e3" stroke-width="0.6"/>
<line x1="36.8" y1="261.3" x2="182.8" y2="261.3" stroke="#e3e3e3" stroke-width="0.6"/>
<polyline points="36.8,258.1 37.5,258.1 39,274.7 40.5,272.5 47,273.1 48.5,274.7 54.3,269.3 55.8,265.6 56.5,267.6 57.3,263.5 58,266 58.7,261.4 59.4,264.4 60.9,258.3 61.6,269.4 63.1,276.3 64.6,274.7 73.3,274.1 95.1,275.7 96.7,272.1 98.1,274.6 98.2,274.2 99.6,258.2 101,261.2 101.8,266.4 103.3,279.9 103.7,282.1 104.1,282.6 104.5,282 104.8,280.5 106.5,269.8 106.8,268.5 107.2,268 107.6,268.4 107.9,269.5 109.6,277.2 109.9,278.1 110.3,278.5 110.7,278.3 111,277.6 112.8,271.8 113.1,271.2 113.5,271 113.9,271.2 114.2,271.8 115.9,275.7 116.6,276.4 117.2,276 118.9,273.2 119.7,272.5 120.4,272.9 121.5,274.2 122.7,274.5 124,275.5 124.5,275.5 125,274.8 126.1,272.1 126.6,271.7 127,272.2 128.1,275.7 128.7,276.5 129.1,276.1 130.2,273.1 130.8,272.3 131.2,272.7 132.2,275 132.8,275.6 133.2,275.2 134.3,272.8 134.6,272.5 134.9,272.5 135.3,273.2 136.3,275.7 136.8,276.1 137.3,275.4 138.4,272.4 138.9,272.1 139.5,273 141.2,278.1 141.5,278.5 142.3,278.6 142.6,278.9 143.4,276.9 144.4,276.5 144.8,275.9 145.2,276.2 145.5,276.1 146.7,274.6 147.3,275.1 148.6,278.7 148.9,279.2 149.2,279.2 149.7,278.5 151.1,274.9 151.6,274.9 152.6,276.4 153,276.6 153.4,276.1 154.6,273.3 155.1,272.8 155.6,273.2 156.7,275 157.2,275.4 157.7,275.2 158.8,273.7 159.2,273.4 159.7,273.6 160.8,275.3 161.3,275.7 161.8,275.4 162.8,274 163.4,273.6 163.8,273.8 164.9,275.5 165.4,275.9 165.9,275.6 166.9,274.2 167.5,273.8 167.9,274.1 169,275.8 169.5,276.1 169.9,275.9 171,274.4 171.6,274.1 172,274.3 173,275.9 173.5,276.3 174,276.1 175.1,274.6 175.7,274.3 176.1,274.6 177.1,276.1 177.6,276.5 178.1,276.3 179.1,274.9 179.7,274.5 180.2,274.8 181.3,276.5" fill="none" stroke="#2f84c6" stroke-width="1.0" stroke-linejoin="round" clip-path="url(#c7)"/>
<polyline points="36.8,272 37.5,258.1 39,261.3 39.7,273.1 45.6,272.5 49.9,276.3 54.3,269.3 57.2,264.1 58.7,258.1 61.5,258.1 63.1,285.9 65.9,285.9 66,285.8 67.5,274.7 68.9,273.6 95.1,277.3 98.1,278.4 99.6,260.3 100.3,264.5 101.7,278.7 102.3,281.7 102.7,282.5 103.1,282 103.5,280.8 105.2,272.1 105.6,270.9 106.1,270.6 106.5,270.8 106.8,271.5 108.7,276.2 109.2,276.8 109.8,276.8 110,277.2 110.1,276.1 110.4,276.5 110.5,275.5 110.6,275.9 110.7,275.3 110.9,275.7 110.9,274.9 111,275.3 111.1,274.9 111.2,275 111.5,273.9 111.7,274.5 111.9,273.5 112,274.1 112.1,273.3 112.2,274.3 112.6,273 112.8,273.9 112.9,273.5 113,274.2 113.1,273 113.2,273.2 113.3,273 113.5,274.1 113.7,274 113.8,274.6 114,274.5 114.1,274.8 114.3,274.1 114.5,275.2 114.6,274.3 114.8,275.3 115,274.2 115.1,275.2 115.2,275.3 115.3,274.7 115.4,275.5 115.6,274.7 115.8,274.8 116.1,275.9 116.2,274.8 116.5,275.2 116.7,275 116.8,275.6 116.9,274.9 117,275.7 117.1,275.4 117.2,275.6 117.3,274.7 117.4,275 117.5,274.8 117.6,274.9 117.7,275.4 117.8,274.6 117.9,275.1 118.1,274.1 118.2,275.1 118.3,274.1 118.5,275 118.7,273.8 118.8,274.8 119,274 119.1,274.8 119.2,273.9 119.3,274.9 119.4,273.8 119.6,274.8 119.8,274 120.1,275 120.3,273.9 120.6,274.5 120.7,275.2 120.8,274 121,275.2 121.3,274.1 121.6,275 121.8,274.2 122.1,275.1 122.2,274.3 122.4,275.3 122.4,274.3 122.6,275.1 122.8,274.6 123.1,275.2 123.2,274.2 123.3,274.5 123.4,274.2 123.5,275.2 123.5,274.3 123.8,275.3 124.2,274.3 124.5,275.3 124.7,274.1 125,274.4 125.2,275.3 125.3,274.9 125.4,275.3 125.5,274.6 125.6,274.9 125.8,274.5 126.1,275.4 126.3,274.5 126.6,275.1 126.8,274.3 127.1,275.3 127.2,274.8 127.4,275.5 127.5,274.8 127.6,275.6 127.7,274.6 127.9,274.6 128,275.7 128.2,274.8 128.3,275.7 128.4,274.7 128.5,275.1 128.7,274.8 128.9,275.7 129.1,275 129.2,275.9 129.4,276 129.5,275.1 129.6,275.8 129.7,274.9 129.9,275.8 130,275 130.1,275.3 130.3,275.2 130.6,274.8 130.7,275.8 130.8,275.2 130.9,275.9 131,275.1 131.3,276 131.4,275.4 131.5,275.9 131.6,274.9 131.8,276 131.9,275.1 132,276.1 132.1,274.8 132.2,275.8 132.3,275.6 132.4,275.9 132.7,275 132.8,275.9 132.9,275.7 133,276.1 133.2,274.9 133.3,275.9 133.5,275.5 133.6,276 133.8,275.3 133.9,275.6 134,275.4 134.1,276.2 134.2,275.5 134.4,275.6 134.5,275.1 134.6,275.4 134.7,275.2 134.8,275.5 134.9,275.4 135,276.5 135.3,275.5 135.5,275.8 135.6,275.5 135.7,276.6 135.8,275.5 135.9,276.5 136.1,275.3 136.3,276.5 136.4,275.8 136.6,276.4 136.7,275.6 136.8,275.9 137,275.8 137.1,276.5 137.3,275.8 137.4,276.7 137.8,275.6 138,275.8 138.1,275.7 138.2,276.8 138.3,275.7 138.5,275.7 138.6,276.8 138.9,275.6 139,276.7 139.1,275.8 139.2,277 139.7,275.9 140.1,277.2 140.2,276.2 140.3,277.3 140.3,276.2 140.4,276.8 140.6,276.1 140.7,277.3 140.9,277.4 141,276.6 141.2,277.3 141.3,276.5 141.6,277.7 141.7,276.5 141.9,277.8 142.1,276.5 142.2,277.5 142.5,277.4 142.6,276.9 142.7,277.5 143,276.8 143.2,278 143.4,277 143.5,278.2 143.8,277.2 143.9,278.4 144.3,277.2 144.4,278.6 144.5,277.6 144.5,278.3 144.7,278 144.8,278.6 144.9,277.9 145,278.4 145.1,277.6 145.2,278.5 145.3,277.7 145.4,278.7 145.5,278.3 145.5,278.8 145.6,278 145.9,279.1 146,278.5 146.2,278.2 146.3,278.5 146.5,277.9 146.6,279.1 146.7,278.6 146.9,278.9 147.1,278.5 147.2,278.9 147.5,278.6 147.6,279.1 147.6,278.3 147.7,279.2 147.8,279 147.9,279.3 148,278.9 148.1,279.8 148.4,278.8 148.5,280 148.7,279 148.7,279.3 148.8,279.1 148.9,280.2 149,279.1 149.2,279.5 149.3,279.3 149.6,280.5 149.9,279.8 150.1,280.4 150.6,278.3 150.7,278.4 150.8,278.2 150.8,278.3 150.9,278.9 151.1,278.5 151.2,277.1 151.4,277 151.5,277.5 151.8,276.7 151.9,275.7 152.1,276.6 152.5,275.1 152.6,275.9 152.9,274 153,274.6 153.1,274.3 153.4,274.9 153.6,274.2 153.7,275.3 153.8,274.5 153.9,275.3 153.9,274.2 154,274.9 154.2,274.2 154.3,274.7 154.6,274.5 154.7,275.1 154.8,274.5 154.9,274.8 155.1,275 155.2,274.6 155.3,274.9 155.4,274.4 155.5,275.3 155.7,274.3 155.8,274.8 156,274.2 156.2,275.4 156.4,274.3 156.7,275.3 156.9,274.9 157,275.5 157.2,274.4 157.4,275.5 157.7,274.3 157.8,275.3 157.9,274.9 158,275.6 158.1,274.5 158.2,275.5 158.3,275.1 158.4,275.7 158.6,274.9 158.7,275.3 158.8,274.4 158.9,275.5 159.2,274.5 159.3,275.7 159.5,274.5 159.8,275.6 160,274.8 160.1,275.7 160.2,275.1 160.3,275 160.5,275.3 160.6,274.9 160.7,275.4 160.9,275.5 161,275.2 161.1,275.7 161.3,275.5 161.3,275.7 161.4,274.7 161.5,275 162,275.2 162.3,274.6 162.3,275.5 162.5,275.7 162.6,275.2 162.7,275.9 162.9,274.7 163,276 163.2,275.2 163.3,276 163.4,276.1 163.6,275.1 163.9,275.9 164.1,275.6 164.2,275.7 164.3,275.2 164.4,276.2 164.5,276.1 164.7,275.1 164.8,276 164.9,275.2 165.1,276 165.3,275.2 165.5,275.6 165.5,274.9 165.7,275.9 165.8,275 165.9,276.2 166,275.2 166.1,276.2 166.3,275.2 166.4,275.6 166.5,275 166.5,276.1 166.6,275.1 166.8,276.1 166.9,275.1 167.4,276.2 167.5,275.6 167.6,275.9 167.7,275.2 168,276.4 168.2,275.3 168.3,275.8 168.4,275.4 168.6,276.3 168.7,275.3 168.8,276.5 169,275.8 169.2,276.5 169.4,275.6 169.6,275.9 169.7,275.7 169.9,276.1 170,276 170.1,276.2 170.3,275.6 170.4,276.4 170.6,275.5 170.7,275.8 170.7,275.7 170.8,276.7 170.9,276.1 171,276.5 171.1,275.6 171.5,275.5 171.7,276.6 171.8,275.8 172,276.6 172.3,275.7 172.4,276.6 172.7,275.8 172.8,276.8 172.9,276.1 173,276.9 173.2,275.8 173.5,276.5 173.7,275.6 173.9,276.8 174,275.8 174.2,276 174.3,276.9 174.5,275.9 174.9,277.1 174.9,276.2 175.1,276.2 175.3,275.9 175.6,276.9 175.8,276 175.9,276.7 176,276 176.1,277.2 176.2,275.9 176.4,277.2 176.5,276.6 176.7,276.9 176.9,276.1 177,277.2 177.3,276 177.5,276.9 177.7,276.4 177.8,277.2 177.9,276.2 178.1,276.4 178.1,277.3 178.3,276 178.4,277.1 178.6,276.7 178.7,277.1 179,276.1 179.2,276.9 179.4,277.1 179.5,276.7 179.6,277.2 179.8,276.3 180,277.1 180.1,276.3 180.2,277.4 180.5,276.3 180.6,277.6 180.9,276.6 181,277.6 181.2,276.3 181.2,277.1 181.3,276.7 181.4,277.1 181.5,276.5 181.7,277.4 181.8,277 182,277.1 182.1,276.4 182.3,277.4 182.3,276.6 182.6,277.5 182.8,277.2" fill="none" stroke="#d9541a" stroke-width="0.85" stroke-linejoin="round" clip-path="url(#c7)"/>
<rect x="36.8" y="259" width="146" height="25.6" fill="none" stroke="#8a8a8a" stroke-width="1.2"/>
<line x1="36.8" y1="284.6" x2="36.8" y2="283" stroke="#404040" stroke-width="0.6"/>
<line x1="36.8" y1="259" x2="36.8" y2="260.6" stroke="#404040" stroke-width="0.6"/>
<line x1="66" y1="284.6" x2="66" y2="283" stroke="#404040" stroke-width="0.6"/>
<line x1="66" y1="259" x2="66" y2="260.6" stroke="#404040" stroke-width="0.6"/>
<line x1="95.2" y1="284.6" x2="95.2" y2="283" stroke="#404040" stroke-width="0.6"/>
<line x1="95.2" y1="259" x2="95.2" y2="260.6" stroke="#404040" stroke-width="0.6"/>
<line x1="124.4" y1="284.6" x2="124.4" y2="283" stroke="#404040" stroke-width="0.6"/>
<line x1="124.4" y1="259" x2="124.4" y2="260.6" stroke="#404040" stroke-width="0.6"/>
<line x1="153.6" y1="284.6" x2="153.6" y2="283" stroke="#404040" stroke-width="0.6"/>
<line x1="153.6" y1="259" x2="153.6" y2="260.6" stroke="#404040" stroke-width="0.6"/>
<line x1="182.8" y1="284.6" x2="182.8" y2="283" stroke="#404040" stroke-width="0.6"/>
<line x1="182.8" y1="259" x2="182.8" y2="260.6" stroke="#404040" stroke-width="0.6"/>
<line x1="36.8" y1="282.7" x2="38.4" y2="282.7" stroke="#404040" stroke-width="0.6"/>
<line x1="182.8" y1="282.7" x2="181.2" y2="282.7" stroke="#404040" stroke-width="0.6"/>
<line x1="36.8" y1="272" x2="38.4" y2="272" stroke="#404040" stroke-width="0.6"/>
<line x1="182.8" y1="272" x2="181.2" y2="272" stroke="#404040" stroke-width="0.6"/>
<line x1="36.8" y1="261.3" x2="38.4" y2="261.3" stroke="#404040" stroke-width="0.6"/>
<line x1="182.8" y1="261.3" x2="181.2" y2="261.3" stroke="#404040" stroke-width="0.6"/>
<text x="36.8" y="290.5" font-family='"Liberation Serif", serif' font-size="5.3" text-anchor="middle" fill="#404040" stroke="#404040" stroke-width="0.04">0</text>
<text x="66" y="290.5" font-family='"Liberation Serif", serif' font-size="5.3" text-anchor="middle" fill="#404040" stroke="#404040" stroke-width="0.04">20</text>
<text x="95.2" y="290.5" font-family='"Liberation Serif", serif' font-size="5.3" text-anchor="middle" fill="#404040" stroke="#404040" stroke-width="0.04">40</text>
<text x="124.4" y="290.5" font-family='"Liberation Serif", serif' font-size="5.3" text-anchor="middle" fill="#404040" stroke="#404040" stroke-width="0.04">60</text>
<text x="153.6" y="290.5" font-family='"Liberation Serif", serif' font-size="5.3" text-anchor="middle" fill="#404040" stroke="#404040" stroke-width="0.04">80</text>
<text x="182.8" y="290.5" font-family='"Liberation Serif", serif' font-size="5.3" text-anchor="middle" fill="#404040" stroke="#404040" stroke-width="0.04">100</text>
<text x="35.4" y="284.4" font-family='"Liberation Serif", serif' font-size="5.3" text-anchor="end" fill="#404040" stroke="#404040" stroke-width="0.04">−20</text>
<text x="35.4" y="273.7" font-family='"Liberation Serif", serif' font-size="5.3" text-anchor="end" fill="#404040" stroke="#404040" stroke-width="0.04">0</text>
<text x="35.4" y="263" font-family='"Liberation Serif", serif' font-size="5.3" text-anchor="end" fill="#404040" stroke="#404040" stroke-width="0.04">20</text>
<rect x="192.4" y="258.6" width="62.6" height="15.8" fill="#fff" stroke="#6a6a6a" stroke-width="0.7"/>
<line x1="195" y1="262.6" x2="214" y2="262.6" stroke="#5b9fd2" stroke-width="1.0"/>
<text x="216" y="264.5" font-family='"Liberation Sans", sans-serif' font-size="5.4" text-anchor="start" fill="#262626" stroke="#262626" stroke-width="0.12">Modified model</text>
<line x1="195" y1="270.2" x2="214" y2="270.2" stroke="#e8875d" stroke-width="1.0"/>
<text x="216" y="272.1" font-family='"Liberation Sans", sans-serif' font-size="5.4" text-anchor="start" fill="#262626" stroke="#262626" stroke-width="0.12">Classic model</text>
<text x="110.3" y="299.2" font-family='"Liberation Sans", sans-serif' font-size="6.3" text-anchor="middle" fill="#262626" stroke="#262626" stroke-width="0.12" textLength="21" lengthAdjust="spacingAndGlyphs">Time [s]</text>
<text x="0" y="0" font-family='"Liberation Serif", serif' font-size="6.4" text-anchor="middle" fill="#262626" stroke="#262626" stroke-width="0.04" transform="translate(22,272) rotate(-90)">δ<tspan font-size="4" dy="1.5">1</tspan><tspan dy="-1.5"> [°]</tspan></text>
<line x1="66" y1="305.4" x2="66" y2="331" stroke="#e3e3e3" stroke-width="0.6"/>
<line x1="95.2" y1="305.4" x2="95.2" y2="331" stroke="#e3e3e3" stroke-width="0.6"/>
<line x1="124.4" y1="305.4" x2="124.4" y2="331" stroke="#e3e3e3" stroke-width="0.6"/>
<line x1="153.6" y1="305.4" x2="153.6" y2="331" stroke="#e3e3e3" stroke-width="0.6"/>
<line x1="36.8" y1="326.8" x2="182.8" y2="326.8" stroke="#e3e3e3" stroke-width="0.6"/>
<line x1="36.8" y1="321.2" x2="182.8" y2="321.2" stroke="#e3e3e3" stroke-width="0.6"/>
<line x1="36.8" y1="315.6" x2="182.8" y2="315.6" stroke="#e3e3e3" stroke-width="0.6"/>
<line x1="36.8" y1="310" x2="182.8" y2="310" stroke="#e3e3e3" stroke-width="0.6"/>
<polyline points="36.8,316.3 36.9,315.4 37,315.7 37.1,315.7 37.3,314.6 37.4,315.3 37.5,315.3 37.6,317.6 37.7,314.5 37.8,316.3 37.9,313.5 38.1,312.6 38.2,319.5 38.3,312.3 38.4,317.2 38.5,317.9 38.8,313.7 38.9,310.7 39,317.9 39.2,315.1 39.4,317.4 39.5,315.8 39.7,315.3 39.8,315.9 39.9,314.7 40,315.5 40.1,315.1 40.3,317.3 40.5,315.1 40.6,315.4 40.7,315.1 40.9,315.8 41,315.8 41.1,314.9 41.2,316.1 41.5,315.4 41.6,314.1 41.7,316 41.8,313.8 41.9,315.5 42,315.6 42.1,315.9 42.3,314.4 42.4,316.2 42.5,315.7 42.9,316.3 43,315.3 43.1,315 43.3,315.9 43.5,314.9 43.6,315.2 43.7,314.8 43.8,315.7 43.9,315 44,315.1 44.1,316 44.2,315.7 44.3,316.1 44.4,315.5 44.5,315.7 44.6,315.5 44.7,315.6 44.8,316 44.9,315.2 45,316.4 45.1,315.6 45.3,317.3 45.5,315.1 45.6,315.8 45.7,315.4 45.9,316.7 46.1,315.6 46.2,315.9 46.3,314.3 46.4,314.2 46.6,316.2 46.7,315.5 46.8,315.9 46.9,316 47.1,315.6 47.2,315.8 47.3,315.6 47.4,317 47.7,315.1 47.8,315.2 47.9,316.6 48,315.4 48.1,315.6 48.2,316.6 48.3,315.5 48.4,315.2 48.5,315.6 48.6,314.2 48.7,316.1 48.8,315.4 48.9,315.2 49,315.2 49.1,316 49.2,315.2 49.3,315.4 49.4,313.7 49.6,315.6 49.7,314.5 49.8,316.4 50.1,314.3 50.2,317.1 50.3,314.7 50.5,316.1 50.6,314.9 50.7,316.6 50.8,314.8 50.9,315.6 51,314.8 51.1,316.6 51.2,315.1 51.3,314.9 51.4,316.4 51.5,314.2 51.6,316.6 51.7,313.7 51.8,313.8 51.9,316.3 52,314.1 52.1,315.3 52.3,315.2 52.5,317.3 52.6,315.6 52.7,315.9 52.8,315 52.9,317.9 53.1,314.5 53.2,316.3 53.3,315 53.4,315 53.5,315.9 53.7,314.6 53.8,317.4 53.9,314.8 54,316 54.1,315.6 54.2,316.2 54.3,316.3 54.4,314.7 54.6,316 54.7,317.8 54.9,315.1 55,314.9 55.1,312.9 55.2,316.5 55.3,315.3 55.4,316 55.5,319.4 55.7,315 55.8,316.6 55.9,313.1 56.1,316.1 56.2,314 56.3,316.1 56.4,314 56.5,315.1 56.6,314.8 56.7,316.6 56.8,315.5 56.9,315 57,315.2 57.2,314.5 57.3,312.6 57.4,315.9 57.5,316.8 57.6,314.4 57.7,316.4 57.8,313 57.9,316.3 58,317 58.1,315 58.2,317.5 58.4,314.3 58.5,318.8 58.6,315.1 58.7,316.5 58.9,313.9 59,315 59.1,314.5 59.2,316.5 59.3,313.1 59.6,319.1 59.7,313.2 59.8,318 59.9,313.4 60,317.4 60.1,314.7 60.2,314.1 60.3,320.2 60.5,325.8 60.6,334 60.7,323 60.8,322.7 61.1,311.4 61.3,316.6 61.4,313 61.5,319.8 61.6,313.8 61.7,319.1 61.8,313.3 62.2,316.5 62.3,315.6 62.4,317.3 62.5,314.3 62.6,314.6 62.7,313.6 62.8,317.5 62.9,316.9 63,316.7 63.1,319.8 63.4,312.9 63.5,316.6 63.6,317.3 63.7,312.5 63.8,319.5 63.9,313.6 64,319.3 64.1,314.6 64.2,315.7 64.4,314.3 64.6,316.5 64.7,316.1 64.8,316.7 64.9,313.4 65,317.8 65.1,313.4 65.3,318.2 65.4,312.8 65.5,318.1 65.6,318.1 65.9,313.3 66,313.3 66.1,316.8 66.2,315.9 66.3,316.4 66.4,319.5 66.5,316.2 66.6,319.7 66.8,316 66.9,317.9 67,317.2 67.1,314.7 67.2,314.9 67.3,313.2 67.4,319 67.6,313.2 67.7,318.4 67.8,318.1 67.9,317 68,315.1 68.1,318.2 68.2,314.2 68.4,322.6 68.5,315.2 68.6,315.9 68.7,315.5 68.8,312.5 68.9,316.5 69,316.8 69.2,315.4 69.3,317.9 69.4,316.5 69.5,317 69.6,315.2 69.7,317 69.8,317 69.9,318.5 70,312.3 70.1,315 70.3,313.1 70.5,315.9 70.6,315.8 70.7,309.9 70.8,317.7 70.9,316.7 71,313.7 71.1,314.8 71.2,313.4 71.3,319.2 71.6,315.6 71.7,318.3 71.8,311.5 71.9,316.6 72,317.4 72.3,312 72.5,316.3 72.6,314.4 72.7,314.1 72.8,315.8 72.9,312 73.1,318.2 73.2,314 73.3,313.9 73.4,319.3 73.5,315.2 73.6,318.5 73.7,316.5 73.8,316.1 74,317 74.1,315.1 74.3,316.7 74.4,316.2 74.5,314.5 74.6,316.6 74.9,313.7 75,319.8 75.1,314.3 75.2,319 75.3,314.1 75.4,313.6 75.5,313.5 75.7,317.9 75.8,315.4 75.9,317.1 76,313 76.1,314.2 76.2,313.6 76.5,318.1 76.6,314.9 76.7,314.9 76.8,311.7 76.9,314.2 77,314.3 77.1,318 77.2,316.3 77.3,318.5 77.4,310.3 77.5,310 77.6,313.7 77.7,313.1 77.8,314.8 77.9,315 78,318.3 78.1,314.3 78.2,316.4 78.3,312.6 78.4,314.9 78.5,314.9 78.6,313.9 78.9,316.2 79,315.9 79.1,317.9 79.2,315.2 79.3,316.7 79.4,315.2 79.5,316 79.6,314.6 79.7,314.7 79.8,315.2 79.9,314.6 80,317.5 80.1,313.9 80.2,318.9 80.3,314.4 80.5,313.1 80.6,314.7 80.7,313.8 80.8,317.9 80.9,314.5 81,317 81.3,312.2 81.4,317.8 81.5,317.3 81.6,313.1 81.7,315.3 81.8,312.7 81.9,316.8 82,317.3 82.1,313.4 82.2,312.5 82.3,318 82.5,313.5 82.7,319.6 83,313 83.2,317 83.3,316 83.4,320.7 83.6,317.1 83.7,318.8 83.9,313.7 84,318.9 84.1,314.8 84.3,315.8 84.4,317.2 84.7,312.5 84.8,317.6 84.9,314.6 85,317.3 85.1,314.1 85.2,314.8 85.3,320.3 85.4,317.1 85.5,318.4 85.6,316.9 85.7,316.3 85.8,316.1 86,314.7 86.1,315.3 86.3,313.6 86.4,317.5 86.5,316.5 86.6,318.9 86.8,314 86.9,314.7 87,314.4 87.1,312 87.2,314.7 87.3,315 87.4,314.4 87.5,312 87.6,317.5 87.7,319.1 87.8,314.1 87.9,318.3 88,314.3 88.1,317.2 88.2,317.3 88.4,315.7 88.5,321.6 88.8,312.6 88.9,312.4 89,313.4 89.1,316.9 89.2,316.2 89.3,312.1 89.4,314.1 89.6,315.4 89.7,315.5 89.9,317 90.1,314.6 90.2,315.6 90.4,315.1 90.5,315.2 90.6,317.4 90.8,315.2 90.9,315.5 91.1,314.5 91.2,315.4 91.3,315.1 91.4,315.6 91.5,315.2 91.6,315.3 91.7,316.1 91.8,314.5 91.9,314.9 92,314.1 92.1,315.8 92.2,315.3 92.3,316.9 92.5,315.2 92.6,315.9 92.7,315.7 92.8,315.7 92.9,316.3 93.1,314.9 93.2,314.8 93.3,314.2 93.4,316.1 93.5,315.7 93.6,316.1 93.7,316.1 93.9,314.2 94,315.8 94.1,315.6 94.3,316.3 94.4,316.3 94.5,315 94.6,314.9 94.8,315.9 94.9,319 95.1,315.6 95.2,317.9 95.5,313.1 95.6,316.3 95.7,315.4 95.8,316.9 95.9,314.8 96,315 96.1,319.4 96.2,317.2 96.3,318.9 96.4,314.1 96.5,313.1 96.7,319.1 96.8,316.6 96.9,319.3 97,312.8 97.1,316.8 97.2,315.5 97.3,316.8 97.4,312.8 97.5,318.2 97.6,312.4 97.9,316.9 98,317.4 98.1,313 98.2,316.1 98.3,314.7 98.4,316 98.5,313.1 98.6,315.5 98.7,314.7 98.8,314.7 98.9,311.8 99.1,319.3 99.2,310.5 99.4,316.5 99.5,316.6 99.6,312.8 99.7,315.4 99.8,315.7 99.9,321.3 100,314.9 100.1,315.9 100.3,311.2 100.4,315.6 100.5,316.8 100.7,313.8 100.9,315 101,313.7 101.1,318.3 101.2,318.2 101.3,314 101.4,314 101.5,315.6 101.6,320.2 101.7,318 101.8,322.9 101.9,309.8 102,314.2 102.1,313.5 102.3,317.9 102.4,313.9 102.5,317.3 102.7,315.7 102.8,318.9 102.9,318.5 103,312.9 103.1,313.7 103.2,318.6 103.3,314.2 103.4,316.3 103.6,311.1 103.7,315.7 103.8,315.4 103.9,314.2 104,316.4 104.1,312.8 104.2,317.8 104.3,317.4 104.4,317.3 104.6,309.6 104.7,316.8 104.8,316.5 104.9,313.6 105.1,316.9 105.3,315.5 105.4,318.9 105.5,315.8 105.6,314.7 105.7,314.7 105.8,317.8 105.9,310.4 106,319.1 106.1,318.2 106.3,319.4 106.4,316.9 106.5,319 106.6,314.2 106.7,316.4 106.8,313.6 106.9,316.5 107,316.3 107.2,314.2 107.3,316.7 107.6,314.2 107.7,318.1 107.9,315.1 108,315.3 108.1,315.4 108.2,314.4 108.3,315.6 108.4,312.4 108.6,316.1 108.8,313.4 108.9,315.8 109.1,317.2 109.2,319.8 109.3,315 109.4,313.4 109.6,320.5 109.7,315 109.9,315.4 110,320.6 110.1,317.2 110.2,317.6 110.3,314.7 110.4,314.5 110.5,312.5 110.6,314.9 110.7,311.8 110.8,316.9 110.9,315.5 111,315.6 111.1,315.2 111.2,317.8 111.4,313.7 111.6,318 111.7,317.8 111.8,312 112,317.5 112.1,313.7 112.3,316.2 112.4,312.6 112.5,317 112.6,316.2 112.7,316.6 112.8,315 112.9,320.1 113.1,310.1 113.2,315.2 113.3,314.9 113.4,318.6 113.5,313.5 113.6,318.8 113.8,313.7 113.9,317.5 114,318.5 114.1,315 114.2,314.8 114.3,315.6 114.4,313.8 114.5,313.4 114.7,316.2 114.8,315.6 114.9,312.1 115,315 115.2,316.4 115.3,316.3 115.4,316.8 115.5,315.8 115.6,315.9 115.7,313.4 115.8,317.3 116,317.1 116.1,314.5 116.3,316.9 116.4,316.4 116.5,316.6 116.6,314.9 116.7,317.3 116.8,313.1 117.2,316.7 117.3,312.7 117.4,314.1 117.5,318.5 117.6,318.6 117.7,313.2 117.8,316.4 117.9,312.5 118,311.5 118.2,318.6 118.3,310.8 118.4,319.2 118.6,314.5 118.8,321.9 118.9,317 119.1,313.8 119.2,313.9 119.5,317.9 119.6,318.7 119.7,311.6 119.8,315.3 119.9,313.3 120,317.2 120.1,317.5 120.2,312.8 120.3,317.4 120.4,317.9 120.5,314.7 120.6,319.5 120.7,318.8 120.9,314.4 121,309.4 121.1,315.8 121.2,315.5 121.3,316.9 121.4,316.5 121.5,318.3 121.7,313.2 121.9,316.4 122,311.2 122.1,315 122.2,316.4 122.3,316.2 122.4,318.4 122.5,314.7 122.6,317.7 122.7,316.7 122.8,313.3 122.9,313.6 123,314.5 123.1,319.9 123.2,316.1 123.3,315.8 123.4,313.7 123.5,316.5 123.6,314.9 123.7,320 123.8,319.9 124,312.4 124.3,318.2 124.4,314.3 124.5,319.8 124.6,312.9 124.7,312.1 125,320.2 125.1,312.7 125.2,315.1 125.3,314.4 125.5,317.2 125.6,315.9 125.7,316.9 125.8,316.9 125.9,319.3 126.1,312.6 126.2,318.8 126.3,320.1 126.4,315.8 126.5,316.1 126.7,314.5 126.8,321.1 126.9,317.7 127,318.4 127.1,314.1 127.2,317.9 127.3,314.6 127.5,317 127.6,315.2 127.8,317.6 127.9,316.7 128,316.6 128.1,313.9 128.2,317.5 128.4,315.7 128.5,315.8 128.6,312.8 128.7,319.7 128.8,311 129,311.4 129.1,319 129.5,311.9 129.6,316.8 129.7,317.7 129.8,313.6 130.1,322.4 130.2,319.4 130.3,319.2 130.5,314.7 130.6,317.9 130.7,318 130.8,313.6 130.9,313.3 131,316.4 131.1,312.9 131.2,312.7 131.4,313.8 131.5,313.5 131.7,318.5 131.9,316.5 132,320.8 132.1,316 132.2,316.5 132.3,316 132.5,317.1 132.6,316.1 132.7,320 132.9,315.4 133,315.8 133.1,313.9 133.3,315.4 133.4,314.9 133.5,315.4 133.6,315.4 133.8,318.2 133.9,315.8 134,316.7 134.1,314.7 134.2,317.3 134.3,317.2 134.4,314.2 134.5,318 134.6,315.9 134.7,318.1 134.8,315.4 134.9,315.4 135,316.8 135.1,316.7 135.2,315.2 135.4,319 135.5,313.5 135.7,318.4 135.9,316.4 136,318.8 136.2,313.4 136.3,316.7 136.4,317.2 136.5,314.2 136.6,319.4 136.7,319.2 136.8,315 136.9,315.2 137,317.8 137.1,316.8 137.2,310.2 137.4,315.1 137.5,312.4 137.6,318.2 137.7,313.6 137.8,317.2 138,313.6 138.1,317.5 138.2,313.8 138.3,315.6 138.4,312.3 138.7,315.4 138.8,314.9 138.9,311.3 139,315.3 139.1,314.9 139.2,315.5 139.3,313.7 139.4,313.7 139.5,315.8 139.6,315.4 139.7,317.4 139.8,316.5 139.9,316.6 140,316.4 140.2,317.3 140.3,319.9 140.4,312.3 140.6,316.4 140.7,314.9 140.8,315.6 141,315.3 141.1,313.4 141.2,316.9 141.3,314.1 141.4,316.6 141.5,316.5 141.6,314.8 141.7,316.5 141.8,312.5 141.9,312.5 142,312.4 142.2,316.7 142.3,313.8 142.4,313.1 142.5,318.3 142.6,315.5 142.7,315.3 142.8,316.8 142.9,310.4 143.1,305 143.4,311.9 143.5,305.1 143.6,310.7 143.7,307.6 143.9,310.9 144,318.7 144.1,315.6 144.2,316.5 144.3,319.7 144.4,314 144.5,319.1 144.6,318.9 144.7,322.3 144.8,317.8 144.9,321.8 145,320.6 145.1,315.4 145.2,320.7 145.3,316 145.4,315.4 145.5,311.8 145.6,317 145.8,313.8 145.9,313.9 146,312.3 146.2,318.7 146.3,316.7 146.4,318.1 146.5,315.1 146.6,315.7 146.7,314.4 146.8,318.6 146.9,312 147,315.8 147.1,314 147.3,318.7 147.4,313.2 147.5,316.8 147.6,317.7 147.7,314.2 147.8,313.5 147.9,317.3 148,316.5 148.2,317.9 148.3,314.6 148.4,316.8 148.6,311.3 148.7,314.4 148.8,313.5 148.9,313.4 149,316.3 149.1,317 149.3,315.2 149.4,312.6 149.5,320.4 149.6,314.7 149.7,316.1 149.8,315.1 149.9,318.8 150.1,315.8 150.2,315.6 150.3,314.7 150.4,312.2 150.6,319 150.7,315.5 150.8,317.2 150.9,314.1 151,317.2 151.1,317.5 151.3,315.3 151.4,319.1 151.5,320.1 151.7,315.4 151.8,320.6 151.9,314.1 152,316 152.1,314.1 152.3,318.8 152.4,314.9 152.5,314.5 152.6,311.4 152.7,313.2 152.8,312.3 153,313.3 153.1,316.1 153.2,313.6 153.3,313.1 153.6,315.9 153.7,315.8 153.8,316.2 153.9,317.2 154,320.3 154.1,312.6 154.2,315.9 154.3,316.6 154.4,314 154.5,320.3 154.6,314.4 154.8,313.3 154.9,318.1 155,317.9 155.1,313.3 155.4,318.3 155.5,313.6 155.6,320.6 155.7,318.9 155.8,312.8 155.9,315.4 156,316.1 156.1,315 156.2,316.2 156.4,316.9 156.5,310.9 156.6,310.9 156.7,319.1 156.8,314.4 156.9,312.9 157,316.3 157.1,312.1 157.2,315.9 157.3,314 157.4,314.1 157.5,310.5 157.8,320 157.9,314.4 158,317.7 158.1,314.7 158.2,316.3 158.4,312.7 158.5,313.9 158.6,313.4 158.7,317.4 158.8,313.2 159,316.9 159.1,315.2 159.2,315.3 159.3,317.8 159.4,312.7 159.5,315.4 159.6,315.1 159.8,319.2 159.9,316.1 160,317.3 160.2,316.4 160.3,309.4 160.4,317 160.5,315.6 160.7,317.3 160.8,315 160.9,317.4 161,315.1 161.3,320.3 161.4,312.2 161.5,318.1 161.6,318.6 161.7,312.8 161.8,313.4 161.9,316.5 162,317.3 162.1,316.7 162.2,314.5 162.3,314 162.4,317.4 162.6,313.9 162.8,320 162.9,319.1 163.1,313.2 163.2,317.2 163.3,315.5 163.4,317.2 163.8,313.7 163.9,310.7 164,317.3 164.1,319.4 164.2,316 164.3,319 164.4,313.6 164.6,320.2 164.9,311 165,316.1 165.1,312.4 165.3,318.6 165.4,312.7 165.5,317.6 165.6,315.6 165.8,316.4 165.9,313.4 166,313.7 166.2,319.2 166.3,316.6 166.5,315.3 166.7,312.1 166.8,316 167,316.8 167.1,315.2 167.3,315.2 167.4,317.6 167.5,315.4 167.6,316.4 167.7,309.9 167.8,319.6 167.9,313.7 168,316.1 168.1,313.7 168.3,317.1 168.4,315.9 168.5,315.6 168.6,317.6 168.8,314.5 168.9,314.7 169.1,320.4 169.2,315.6 169.3,317.8 169.4,313.7 169.7,313.4 169.9,317.1 170,321.1 170.1,313.4 170.2,313.5 170.3,312.8 170.4,314.1 170.5,313.6 170.6,317 170.7,313.9 170.9,313.2 171,317.2 171.1,312.2 171.3,316.9 171.4,313.9 171.5,313.7 171.6,315.6 171.7,312.2 171.8,311.6 171.9,316.5 172.2,312.2 172.3,315.2 172.4,316.3 172.5,316.5 172.6,313.3 173,317.3 173.1,313.8 173.3,320.2 173.4,314.3 173.5,315.6 173.8,311.9 173.9,319.4 174,315.9 174.1,315.6 174.2,313 174.3,314.5 174.5,313.8 174.7,317.7 174.8,313.9 174.9,315.2 175.1,310.2 175.2,316.5 175.3,316 175.4,311.8 175.5,319 175.6,319.9 175.7,313.4 175.8,316.7 175.9,315.7 176.2,316.1 176.3,312.9 176.4,314.3 176.5,320.9 176.6,313.8 176.7,318 177,313 177.1,313.6 177.2,317.3 177.3,315.1 177.4,321.3 177.6,317.6 177.7,313.2 177.9,316.3 178,314.7 178.1,316.6 178.2,315.3 178.3,319.4 178.4,315.9 178.5,316.3 178.6,314.1 178.7,318.3 178.8,318.3 179,317 179.1,313.4 179.3,315.8 179.4,315.9 179.5,316.6 179.6,311.8 179.7,315.9 179.8,314.8 179.9,315.1 180,312.7 180.1,312.1 180.2,316 180.3,313.9 180.4,316 180.5,316.4 180.7,312.9 180.8,316.1 180.9,315.9 181,316.2 181.1,315.2 181.2,318.2 181.3,315" fill="none" stroke="#2f84c6" stroke-width="0.7" stroke-linejoin="round" clip-path="url(#c8)"/>
<polyline points="36.8,314.9 36.9,315.9 37.1,316.1 37.2,315.1 37.3,316.1 37.4,315.1 37.5,315.2 37.6,315.7 37.7,315.6 37.8,314.9 37.9,315.1 38.1,316.2 38.2,315.2 38.3,315.8 38.4,314.7 38.5,316.1 38.7,314.8 38.8,315.5 38.9,315.2 39,315.4 39.2,316.4 39.3,316.4 39.4,315.9 39.5,316.4 39.6,316.2 39.7,315.6 39.8,315.9 39.9,315.5 40,315.9 40.3,314.9 40.5,316.5 40.6,315.1 40.7,315.9 40.9,316.4 41.2,314.6 41.3,316 41.4,314.6 41.5,315.5 41.6,314.8 41.7,316.5 41.8,316.5 41.9,315.7 42,316.6 42.1,316 42.2,316.6 42.3,314.9 42.4,316.5 42.6,314.6 42.7,315.7 42.9,316 43,314.8 43.1,315.1 43.2,316.4 43.3,315.8 43.4,315.9 43.5,314.9 43.6,315.6 43.7,315.8 43.8,315.8 44,314.5 44.2,315.8 44.4,314.4 44.5,314.7 44.6,316.6 44.8,315.5 45.1,316 45.3,314.8 45.5,316.7 45.7,314.4 45.8,315.9 45.9,315.9 46,314.7 46.1,315.4 46.2,315.5 46.3,316.4 46.4,315.5 46.5,316.4 46.7,314.9 46.8,316.7 46.9,314.9 47,314.8 47.1,316.7 47.2,314.8 47.3,316.7 47.4,314.5 47.5,316 47.8,315.9 48,316.7 48.1,315.4 48.2,316.7 48.3,315.9 48.4,316.6 48.5,315.3 48.6,316.3 48.8,316.9 48.9,314.7 49,316.1 49.1,314.7 49.2,314.5 49.3,316.8 49.4,316.5 49.5,316.7 49.7,316.3 49.9,316.5 50.1,314.5 50.2,314.2 50.3,314.4 50.4,314.1 50.6,317.3 50.7,317.4 50.8,316.3 50.9,317.9 51,316.2 51.2,316.6 51.3,316.2 51.4,313.4 51.5,317.9 51.6,315.2 51.7,314 51.8,313.8 51.9,316.9 52,316.2 52.1,314.1 52.2,313.9 52.3,316.7 52.5,315.5 52.6,317.6 52.7,313.5 52.8,314.5 52.9,314 53.1,318.1 53.3,315.3 53.5,317.4 53.6,316.1 53.7,315.6 53.8,317.8 53.9,313.7 54.1,314.3 54.2,317.2 54.3,313.3 54.4,317.5 54.5,315.9 54.6,315.5 54.7,317 54.9,316.4 55,313.4 55.2,317.7 55.3,313.6 55.4,316.7 55.6,315.1 55.7,317.9 55.8,317.9 55.9,317.2 56,315 56.1,315.9 56.2,314.9 56.3,316.9 56.4,315.8 56.5,317.8 56.6,313.6 56.7,316 56.8,316.2 56.9,313.8 57,317.7 57.3,314.3 57.4,316.4 57.5,313.2 57.6,313.2 57.7,315.7 57.8,314 58,316.2 58.1,315.3 58.2,318 58.3,316 58.4,316.2 58.5,318 59,304.8 59.2,320.4 59.3,322.5 59.6,305.3 59.9,331 60.2,311.7 60.5,322.9 60.6,318.1 60.7,318.2 60.8,318.8 60.9,318.1 61,314 61.2,316.6 61.3,316.8 61.4,315.3 61.5,317.8 61.6,314.7 61.8,317.1 62,316.7 62.1,318 62.2,313.4 62.3,313.9 62.4,317.6 62.5,315.3 62.6,318.2 62.7,316.2 62.8,318.2 62.9,317.5 63,318.5 63.1,315.1 63.2,315.5 63.3,314.1 63.4,317.3 63.6,314.9 63.7,314.9 63.8,317.2 63.9,315.1 64,316.4 64.2,312.8 64.4,314.7 64.5,313.3 64.8,316.4 65,312.9 65.2,317.6 65.3,314.1 65.5,317.9 65.6,316.1 65.7,317.4 65.8,317.1 65.9,313.8 66,316.9 66.1,316.8 66.2,314.2 66.3,316.7 66.4,314.3 66.5,317.8 66.6,317.5 66.8,315.2 66.9,314.5 67,315.2 67.1,318.6 67.2,314.5 67.3,316 67.4,315.4 67.5,316.1 67.6,313.3 67.7,314.2 67.8,318.4 67.9,313.4 68,313.9 68.1,316.1 68.2,315.9 68.3,313.5 68.5,318.6 68.8,313.1 69,318.4 69.2,312.7 69.3,315.1 69.4,312.9 69.5,318.2 69.6,313.5 69.7,315.9 69.8,316.2 69.9,313.4 70.1,318.6 70.2,313.3 70.3,315.9 70.4,314.1 70.5,316.8 70.6,312.7 70.9,316.3 71,313.6 71.1,316.4 71.3,318.2 71.4,316.1 71.7,318.3 71.8,315 71.9,314.2 72,318.1 72.1,313.9 72.2,318.5 72.3,313.8 72.4,313.9 72.6,312.8 72.7,315.1 72.9,313.2 73,314.1 73.1,317.3 73.2,314.2 73.3,314.7 73.4,312.7 73.5,318.1 73.7,314 73.8,316.4 74,314.2 74.1,318.4 74.2,318 74.3,315 74.5,313.5 74.6,318.2 74.8,316.9 74.9,313.8 75,318.2 75.1,313.8 75.2,312.8 75.3,312.9 75.4,314.7 75.5,313.1 75.6,316 75.8,314.4 75.9,315.7 76,313.2 76.1,315.2 76.2,313.8 76.4,317.5 76.5,316.7 76.6,312.9 76.7,313.3 76.9,318.2 77,315.5 77.1,314.6 77.2,316.3 77.3,314.7 77.4,318.2 77.5,318.6 77.6,312.9 77.7,314 77.8,317.7 77.9,317.7 78.1,314.4 78.2,317.8 78.3,318.5 78.4,313 78.5,312.9 78.6,316.6 78.9,315.3 79,312.6 79.1,313 79.4,317.9 79.5,317.4 79.6,317.3 79.7,314 79.8,313.9 79.9,313 80,315.2 80.1,312.6 80.3,318.6 80.4,314.7 80.5,317.5 80.6,313.5 80.7,316.9 80.8,313.1 81,314.6 81.2,317.5 81.4,312.6 81.6,315 81.7,318.1 81.8,312.7 81.9,315.3 82,314.9 82.2,318.4 82.4,313.4 82.5,318.3 82.6,318.2 82.7,314 82.8,315.5 82.9,313.7 83.1,316.3 83.2,314.1 83.3,316.6 83.6,314.6 83.7,312.6 83.8,314.5 83.9,313.4 84.1,316.8 84.2,317 84.3,314.4 84.4,315 84.5,317.1 84.6,313.2 84.7,318.2 84.9,316.5 85,312.6 85.1,316.9 85.2,312.8 85.3,312.5 85.4,313.5 85.5,316.5 85.6,315.7 85.7,317.3 85.8,316.4 86,316.7 86.1,315.2 86.2,318.2 86.3,313.1 86.4,317.9 86.7,313.2 86.8,316.3 86.9,312.8 87,316.4 87.1,313.6 87.2,313.9 87.3,313.5 87.5,318.5 87.6,313.6 87.7,313.1 87.8,317.7 87.9,313.3 88,316.2 88.1,314.7 88.2,314.8 88.4,313.5 88.5,313.6 88.6,315.7 88.7,316 88.8,317 89,313.1 89.2,315.7 89.3,316.2 89.5,314.9 89.6,317.3 89.7,316.9 89.8,316.8 89.9,316.9 90,314.4 90.1,314 90.3,317.1 90.4,316.6 90.5,314.3 90.6,316.7 90.8,314.6 90.9,316.1 91.1,315.9 91.2,315 91.4,314.6 91.5,316 91.6,316.2 91.7,315.7 91.8,316.7 91.9,315.1 92,315.8 92.2,314.8 92.3,315.2 92.4,316.6 92.6,315.8 92.7,314.8 92.8,316.1 92.9,314.6 93.1,316.5 93.3,315.1 93.4,315.1 93.5,315.4 93.6,315.9 93.8,315.1 93.9,316.9 94,316.4 94.1,314.1 94.2,316.6 94.5,314.5 94.7,316.9 94.9,313 95,315.8 95.1,315.5 95.2,312.8 95.3,315.2 95.5,315 95.6,312.6 95.7,315.6 95.8,312.8 95.9,317.2 96,312.8 96.1,315.4 96.3,312.8 96.4,317.6 96.5,312.5 96.7,318.2 96.9,316.4 97,313.2 97.1,317 97.2,316.7 97.3,317 97.4,312.6 97.6,317.9 97.7,318.5 98.1,313.1 98.3,317.5 98.4,313.4 98.6,314.8 98.8,317.4 98.9,316.7 99,313.3 99.1,317 99.2,314.4 99.3,315.1 99.4,314.8 99.5,318 99.6,312.8 99.7,318.2 99.8,312.7 99.9,312.6 100,312.9 100.1,316.5 100.3,312.9 100.4,314.5 100.6,315.1 100.7,317.5 100.8,317.3 100.9,318.4 101,317 101.1,318.7 101.2,318.4 101.3,314.7 101.4,315.9 101.6,316.6 101.7,312.8 101.8,317.2 102,313.3 102.1,314 102.2,317.9 102.5,317.5 102.8,312.7 102.9,313 103,315.2 103.1,314 103.2,317.5 103.3,318.3 103.4,314.5 103.5,317.5 103.6,318.2 103.7,313.4 103.9,316.5 104,316.4 104.1,313.7 104.2,316.5 104.4,312.9 104.5,318.6 104.6,314.6 104.7,317.7 104.8,318.6 104.9,315.6 105.1,316.9 105.2,314.3 105.3,317.3 105.4,314.6 105.5,316.4 105.6,315.9 105.7,317.7 105.9,315 106,315.5 106.1,313.4 106.2,318 106.3,318 106.4,313.7 106.5,318.6 106.6,318 106.8,318.2 106.9,315.9 107,318.3 107.2,316 107.3,315.8 107.6,312.6 107.7,317.4 107.8,314 107.9,312.8 108,318.4 108.2,314.4 108.3,315.9 108.5,317.1 108.6,313.8 108.7,313.5 108.8,317.2 108.9,313.8 109,318 109.2,314.2 109.3,318.5 109.4,313.9 109.5,315.4 109.6,315 109.7,318.2 109.9,313.1 110,313.8 110.1,313.2 110.2,317.7 110.3,313.8 110.4,315.7 110.5,315 110.6,318.4 110.8,314.6 110.9,315.3 111,318.2 111.1,315.3 111.2,316.4 111.4,312.8 111.5,317.1 111.9,312.7 112,314.2 112.1,318.7 112.4,313.7 112.5,317.7 112.6,315.5 112.8,313.8 113,318.5 113.1,318.2 113.3,316 113.4,315.9 113.5,312.9 113.6,317.1 113.7,313 113.8,317.9 113.9,314.1 114,316.3 114.1,316.9 114.2,317 114.3,315 114.4,318 114.7,317.1 114.8,315.2 114.9,318 115,313 115.1,316.6 115.2,316.4 115.3,317.6 115.5,313.3 115.6,313.7 115.7,317.6 115.8,318.4 115.9,313.5 116.2,318 116.4,314.8 116.5,317.8 116.6,314.7 116.8,317.4 116.9,314.2 117.1,316 117.2,314.5 117.3,315.8 117.5,312.5 117.6,316.3 117.7,317 117.8,312.7 118,317.4 118.1,314.9 118.2,318.7 118.3,312.8 118.4,314.9 118.5,312.9 118.7,317.3 118.9,314 119.1,317.7 119.2,316.5 119.3,312.8 119.7,316.8 119.8,316.6 119.9,317.7 120,315 120.1,316.9 120.2,315.7 120.3,318.5 120.5,316.4 120.6,318.4 120.7,316.3 120.8,318.5 120.9,315.4 121.1,312.9 121.2,317.5 121.4,312.8 121.5,317.2 121.6,313.6 121.9,315.1 122,313 122.1,315.6 122.2,313.4 122.3,315.3 122.4,315.7 122.6,312.5 122.9,317.9 123,317.6 123.1,313.9 123.2,314.2 123.3,317.8 123.4,317.6 123.5,314.2 123.6,316.1 123.7,316.3 123.8,317.7 123.9,314.2 124,317.6 124.1,313.4 124.3,314.5 124.4,314.4 124.5,317.6 124.6,313.8 124.7,314.8 124.8,318.6 124.9,314.8 125,318.5 125.1,317.3 125.2,313.3 125.3,316.2 125.4,317 125.5,313.1 125.7,316.6 125.8,313.9 125.9,316.2 126,315.4 126.1,312.8 126.2,316.7 126.3,317.9 126.4,312.9 126.5,313.1 126.7,317.5 126.8,317.6 126.9,313.4 127,312.8 127.1,313.8 127.2,318.5 127.4,316.5 127.5,316.4 127.7,313.8 127.8,314.2 127.9,313.2 128,316.6 128.1,316.5 128.2,315.7 128.3,312.7 128.4,317.5 128.5,315.2 128.6,315.4 128.7,316.1 128.8,317.7 129,312.7 129.2,316.6 129.3,316.5 129.4,317.5 129.5,315.4 129.6,318.4 129.7,317.9 129.8,318.4 129.9,314 130,315.4 130.1,314.9 130.2,318.6 130.3,314 130.4,314 130.5,318.6 131,313.6 131.1,315.3 131.2,312.8 131.5,315.7 131.7,316.9 131.8,318.5 131.9,316.2 132,316.5 132.1,318.3 132.3,316.2 132.4,316.2 132.5,317.9 132.6,318 132.7,313.8 132.8,315.8 132.9,315.7 133,316.9 133.1,312.7 133.2,316.5 133.3,317.6 133.4,314 133.5,313.3 133.6,317.7 133.8,313.2 133.9,318.4 134,316 134.1,318.2 134.2,314.5 134.3,317.5 134.4,314.3 134.5,318.2 134.6,317.1 134.7,317.6 134.8,315.1 134.9,314.9 135,318.7 135.1,316.5 135.2,316.4 135.3,316.8 135.4,316.7 135.5,314.9 135.6,315 135.7,317.9 135.8,316.8 135.9,312.8 136,316 136.2,316.7 136.3,314.1 136.4,316.2 136.5,314.9 136.6,315.5 136.7,312.9 136.8,318 136.9,316.3 137,318 137.1,313.8 137.2,317.8 137.3,318.4 137.4,314.6 137.6,318.3 137.7,317.4 137.8,317.1 137.9,312.6 138,317.6 138.1,315.4 138.2,316.4 138.3,314.4 138.4,316.7 138.6,315.2 138.7,318.3 138.9,312.8 139,315.4 139.1,315 139.2,318.5 139.3,314.5 139.4,318.4 139.5,318 139.6,313.8 139.7,312.8 139.8,316.5 139.9,313.3 140,314.6 140.2,313.8 140.3,317.6 140.4,314.6 140.5,318.1 140.6,317.6 140.7,314.1 140.8,317.9 141,312.6 141.1,317.3 141.3,315.5 141.4,317.5 141.6,316.6 141.7,317.7 141.8,317.5 141.9,312.9 142,314.6 142.1,313.4 142.2,316.8 142.3,313.7 142.4,313.2 142.5,316.4 142.6,315.9 142.7,315.9 142.8,313.5 142.9,312.7 143,317.4 143.1,317.1 143.2,313.9 143.6,318 143.7,317.3 143.8,317.3 143.9,313.3 144,315.5 144.2,313.1 144.3,314.2 144.4,314 144.5,315.1 144.6,318.4 144.7,315.1 144.8,317.2 144.9,314.7 145.1,312.6 145.2,317.9 145.3,313.7 145.4,318.3 145.5,313.9 145.6,316 145.8,313.1 146,318.3 146.1,317.7 146.2,312.6 146.3,314.7 146.4,313.9 146.5,317.5 146.6,316.8 146.7,313.2 146.8,313.9 147,318.1 147.1,316.2 147.2,318.4 147.4,313.9 147.5,313.9 147.6,315.8 147.8,316.9 147.9,312.7 148,314.7 148.2,314.6 148.3,314.8 148.4,314.2 148.5,316.5 148.6,312.7 148.7,316.2 148.8,316.1 148.9,316.3 149,318.1 149.1,316.5 149.2,318.3 149.5,317.3 149.6,316.4 149.7,318 149.8,313.4 149.9,317.4 150,314.7 150.1,314.7 150.2,316.2 150.3,314.2 150.6,317.9 150.7,313.2 150.8,318.6 150.9,318.5 151.1,313.5 151.2,316.6 151.3,314.4 151.4,315.2 151.5,318.4 151.6,312.6 151.7,316.5 151.8,315.8 152,317.6 152.1,313.8 152.2,313.1 152.3,316.9 152.4,312.9 152.5,317 152.6,318.3 152.7,318.3 152.8,313.6 153.1,312.8 153.2,318.3 153.3,313.8 153.4,313.4 153.6,316.9 153.7,317.5 153.9,316.3 154,318.2 154.2,314.1 154.3,314.4 154.4,313.2 154.5,317.2 154.7,318.4 154.8,312.7 154.9,315.9 155,313.9 155.1,314.2 155.2,313.1 155.4,316.1 155.5,313 155.7,315.8 155.8,312.9 156,315.6 156.1,312.9 156.2,316 156.3,316.7 156.4,313.2 156.5,318.5 156.6,314.9 156.7,314.6 156.9,317.5 157,313.4 157.1,317.2 157.2,318.4 157.3,313.1 157.4,316.9 157.5,314.9 157.6,317.9 158,312.8 158.1,314.9 158.2,314.9 158.3,315.5 158.4,315.2 158.5,316.6 158.6,316.9 158.7,316.6 158.8,318.4 159,314.8 159.1,316.5 159.2,313.2 159.3,318.5 159.4,317.8 159.5,314.7 159.6,314.4 159.8,317 159.9,313.4 160.2,314.5 160.3,313.3 160.4,318.3 160.6,312.7 160.8,318.2 160.9,314.9 161.1,316.5 161.2,315 161.3,317.1 161.4,313.8 161.5,314.8 161.6,313.3 161.7,317.9 161.8,314 161.9,312.8 162.1,317.4 162.2,315.4 162.3,316.6 162.4,314.2 162.6,314.4 162.7,312.9 162.8,314 162.9,312.9 163,312.9 163.1,316.5 163.3,312.6 163.4,317.6 163.5,318.2 163.6,313.9 163.7,315.5 163.8,314.5 163.9,317.3 164,317 164.1,318.4 164.2,313.7 164.3,316.1 164.4,314.2 164.5,318.1 164.6,313.1 164.7,316.3 164.9,314.8 165,315.2 165.1,313.1 165.2,315.8 165.3,315.6 165.4,317.5 165.5,316.3 165.6,316.6 165.8,315.6 165.9,312.7 166.1,316.9 166.2,316.6 166.3,318.1 166.4,317.5 166.5,312.8 166.6,315.1 166.9,318.5 167.1,313.9 167.3,315.6 167.4,315.4 167.5,318.2 167.7,315.2 167.8,316.7 167.9,316.8 168,314 168.2,317.8 168.4,313.4 168.5,314.9 168.7,315.2 168.8,317.4 169,313.6 169.1,313.6 169.2,314 169.3,315.7 169.4,313.8 169.5,313.2 169.7,318 169.8,312.8 169.9,317.4 170,315 170.1,315.7 170.2,315.2 170.3,315.6 170.6,317.9 170.7,317.5 170.8,314.1 171,317.7 171.1,314 171.2,317.3 171.3,317.2 171.4,318.3 171.5,312.8 171.6,317.5 171.7,318.6 171.8,316.7 172.1,318.6 172.2,318.1 172.3,316.4 172.5,314.6 172.6,315 172.7,312.9 172.8,317.2 172.9,318.1 173.1,313.7 173.2,315.6 173.3,316.2 173.5,315.5 173.7,312.8 173.9,316.3 174,315 174.1,315.5 174.2,315.5 174.3,316.9 174.6,314.6 174.8,318.4 174.9,317.5 175,313.3 175.1,317.1 175.2,315.7 175.3,317.1 175.4,316.2 175.5,312.7 175.6,317.9 175.7,316.3 175.8,318 175.9,314.1 176,317.4 176.1,313.5 176.2,318 176.4,313.3 176.5,318 176.6,315.7 176.7,316.2 176.9,314.2 177,317.6 177.1,313.9 177.2,318.5 177.3,315.6 177.4,314.7 177.5,317.8 177.7,313.9 177.8,314.4 177.9,312.7 178,315.3 178.1,312.8 178.2,313.8 178.3,313.4 178.4,313.9 178.5,315.3 178.6,314.1 178.7,316.1 178.8,313.9 179.3,318.6 179.4,318.4 179.5,312.6 179.6,318.3 179.8,314.6 179.9,316.9 180,316.9 180.1,317.9 180.2,314.2 180.4,312.9 180.5,315 180.6,315.1 180.7,317.4 180.8,316.6 180.9,318.6 181.1,314.5 181.2,317.9 181.3,314.5 181.4,318.2 181.5,314.6 181.7,317.6 181.8,315.3 182,318.6 182.1,314.4 182.2,318.6 182.3,314.8 182.4,314.1 182.5,317.9 182.6,318.5 182.7,316.5 182.8,318.3" fill="none" stroke="#d9541a" stroke-width="0.9" stroke-linejoin="round" clip-path="url(#c8)"/>
<rect x="36.8" y="305.4" width="146" height="25.6" fill="none" stroke="#8a8a8a" stroke-width="1.2"/>
<line x1="36.8" y1="331" x2="36.8" y2="329.4" stroke="#404040" stroke-width="0.6"/>
<line x1="36.8" y1="305.4" x2="36.8" y2="307" stroke="#404040" stroke-width="0.6"/>
<line x1="66" y1="331" x2="66" y2="329.4" stroke="#404040" stroke-width="0.6"/>
<line x1="66" y1="305.4" x2="66" y2="307" stroke="#404040" stroke-width="0.6"/>
<line x1="95.2" y1="331" x2="95.2" y2="329.4" stroke="#404040" stroke-width="0.6"/>
<line x1="95.2" y1="305.4" x2="95.2" y2="307" stroke="#404040" stroke-width="0.6"/>
<line x1="124.4" y1="331" x2="124.4" y2="329.4" stroke="#404040" stroke-width="0.6"/>
<line x1="124.4" y1="305.4" x2="124.4" y2="307" stroke="#404040" stroke-width="0.6"/>
<line x1="153.6" y1="331" x2="153.6" y2="329.4" stroke="#404040" stroke-width="0.6"/>
<line x1="153.6" y1="305.4" x2="153.6" y2="307" stroke="#404040" stroke-width="0.6"/>
<line x1="182.8" y1="331" x2="182.8" y2="329.4" stroke="#404040" stroke-width="0.6"/>
<line x1="182.8" y1="305.4" x2="182.8" y2="307" stroke="#404040" stroke-width="0.6"/>
<line x1="36.8" y1="326.8" x2="38.4" y2="326.8" stroke="#404040" stroke-width="0.6"/>
<line x1="182.8" y1="326.8" x2="181.2" y2="326.8" stroke="#404040" stroke-width="0.6"/>
<line x1="36.8" y1="321.2" x2="38.4" y2="321.2" stroke="#404040" stroke-width="0.6"/>
<line x1="182.8" y1="321.2" x2="181.2" y2="321.2" stroke="#404040" stroke-width="0.6"/>
<line x1="36.8" y1="315.6" x2="38.4" y2="315.6" stroke="#404040" stroke-width="0.6"/>
<line x1="182.8" y1="315.6" x2="181.2" y2="315.6" stroke="#404040" stroke-width="0.6"/>
<line x1="36.8" y1="310" x2="38.4" y2="310" stroke="#404040" stroke-width="0.6"/>
<line x1="182.8" y1="310" x2="181.2" y2="310" stroke="#404040" stroke-width="0.6"/>
<text x="36.8" y="336.9" font-family='"Liberation Serif", serif' font-size="5.3" text-anchor="middle" fill="#404040" stroke="#404040" stroke-width="0.04">0</text>
<text x="66" y="336.9" font-family='"Liberation Serif", serif' font-size="5.3" text-anchor="middle" fill="#404040" stroke="#404040" stroke-width="0.04">20</text>
<text x="95.2" y="336.9" font-family='"Liberation Serif", serif' font-size="5.3" text-anchor="middle" fill="#404040" stroke="#404040" stroke-width="0.04">40</text>
<text x="124.4" y="336.9" font-family='"Liberation Serif", serif' font-size="5.3" text-anchor="middle" fill="#404040" stroke="#404040" stroke-width="0.04">60</text>
<text x="153.6" y="336.9" font-family='"Liberation Serif", serif' font-size="5.3" text-anchor="middle" fill="#404040" stroke="#404040" stroke-width="0.04">80</text>
<text x="182.8" y="336.9" font-family='"Liberation Serif", serif' font-size="5.3" text-anchor="middle" fill="#404040" stroke="#404040" stroke-width="0.04">100</text>
<text x="35.4" y="328.5" font-family='"Liberation Serif", serif' font-size="5.3" text-anchor="end" fill="#404040" stroke="#404040" stroke-width="0.04">−2</text>
<text x="35.4" y="322.9" font-family='"Liberation Serif", serif' font-size="5.3" text-anchor="end" fill="#404040" stroke="#404040" stroke-width="0.04">−1</text>
<text x="35.4" y="317.3" font-family='"Liberation Serif", serif' font-size="5.3" text-anchor="end" fill="#404040" stroke="#404040" stroke-width="0.04">0</text>
<text x="35.4" y="311.7" font-family='"Liberation Serif", serif' font-size="5.3" text-anchor="end" fill="#404040" stroke="#404040" stroke-width="0.04">1</text>
<rect x="192.4" y="305" width="62.6" height="16" fill="#fff" stroke="#6a6a6a" stroke-width="0.7"/>
<line x1="195" y1="309.6" x2="214" y2="309.6" stroke="#5b9fd2" stroke-width="1.0"/>
<text x="216" y="311.5" font-family='"Liberation Sans", sans-serif' font-size="5.4" text-anchor="start" fill="#262626" stroke="#262626" stroke-width="0.12">Modified model</text>
<line x1="195" y1="316.6" x2="214" y2="316.6" stroke="#e8875d" stroke-width="1.0"/>
<text x="216" y="318.5" font-family='"Liberation Sans", sans-serif' font-size="5.4" text-anchor="start" fill="#262626" stroke="#262626" stroke-width="0.12">Classic model</text>
<text x="110.3" y="345.4" font-family='"Liberation Sans", sans-serif' font-size="6.3" text-anchor="middle" fill="#262626" stroke="#262626" stroke-width="0.12" textLength="21" lengthAdjust="spacingAndGlyphs">Time [s]</text>
<text x="0" y="0" font-family='"Liberation Serif", serif' font-size="6.4" text-anchor="middle" fill="#262626" stroke="#262626" stroke-width="0.04" transform="translate(22,318) rotate(-90)">δ<tspan font-size="4" dy="1.5">2</tspan><tspan dy="-1.5"> [°]</tspan></text>
<line x1="66" y1="351.4" x2="66" y2="377" stroke="#e3e3e3" stroke-width="0.6"/>
<line x1="95.2" y1="351.4" x2="95.2" y2="377" stroke="#e3e3e3" stroke-width="0.6"/>
<line x1="124.4" y1="351.4" x2="124.4" y2="377" stroke="#e3e3e3" stroke-width="0.6"/>
<line x1="153.6" y1="351.4" x2="153.6" y2="377" stroke="#e3e3e3" stroke-width="0.6"/>
<line x1="36.8" y1="374.6" x2="182.8" y2="374.6" stroke="#e3e3e3" stroke-width="0.6"/>
<line x1="36.8" y1="364" x2="182.8" y2="364" stroke="#e3e3e3" stroke-width="0.6"/>
<line x1="36.8" y1="353.4" x2="182.8" y2="353.4" stroke="#e3e3e3" stroke-width="0.6"/>
<polyline points="36.8,375.7 38.3,375.7 39.7,362.4 45.6,364 48.5,361.4 49.9,362.4 52.9,366.7 54.3,369.3 55.1,367.2 55.8,371.4 56.5,368.8 57.3,373 58,370.4 58.7,373.6 60.8,376.6 62.4,363.9 63.1,361.4 64.6,362.9 73.3,361.9 95.1,360.3 96.7,363.9 98.1,361.4 98.2,361.8 99.6,377.2 101,356.8 101.1,350.8 101.7,354.1 103.2,367.7 103.6,370.1 104,370.7 104.4,370.1 104.7,368.5 106.3,358.5 106.6,357.1 107,356.6 107.4,356.9 107.7,357.9 109.4,365.3 109.8,366.2 110.1,366.5 110.5,366.3 110.9,365.5 112.4,360.5 112.8,359.8 113.1,359.5 113.8,360 115.3,363.5 116.1,364.4 116.9,364.1 118.3,361.7 119.1,361 119.9,361.2 121.4,362.9 122.7,362.6 124.1,363.2 124.6,362.8 125.7,360.6 126.2,360.3 126.6,360.8 127.7,363.8 128.2,364.3 128.7,363.7 129.7,360.6 130.1,360 130.6,360.5 131.6,363.6 131.9,364 132.1,363.9 133.4,359.8 133.9,359.2 134.3,360.1 135.2,363.6 135.7,364.3 136.2,363.1 137.2,358.7 137.7,358.1 138.2,359 139.1,362.9 139.5,363.6 140,362.8 141.3,357.7 141.4,357.5 141.6,357.7 142.7,360.4 143,360.8 143.2,360.7 143.6,359.5 144.2,356.5 144.6,355.2 145,354.8 145.5,356.2 146.6,362.3 147.1,363.5 147.6,362.7 148.6,358.1 149,357.4 149.4,358 150.3,361.6 150.8,362.6 150.9,362.8 151.2,362.6 152.2,360.3 152.7,360 153.1,360.6 154.1,363.4 154.7,364 155.1,363.6 156.1,361.2 156.6,360.8 157.1,361.2 158,363.4 158.4,364 158.9,363.7 159.9,361.4 160.4,360.8 160.9,361.3 161.7,363.3 162.2,364 162.4,363.9 162.7,363.6 163.7,361.3 164.2,360.8 164.6,361.2 165.7,363.7 166.2,364 166.6,363.4 167.6,361.2 168,360.8 168.4,361.1 169.4,363.5 169.8,364 170.3,363.6 171.3,361.3 171.8,360.8 172.2,361.2 173.3,363.7 173.8,364 174.2,363.4 175.1,361.2 175.6,360.8 176,361.3 177.3,364 177.6,364 177.9,363.7 178.9,361.3 179.3,360.8 179.9,361.4 180.9,363.7 181.3,364" fill="none" stroke="#2f84c6" stroke-width="1.0" stroke-linejoin="round" clip-path="url(#c9)"/>
<polyline points="36.8,364 37.5,374.6 39,371.9 39.7,364 45.6,364 47,362.9 49.2,359.8 51.4,364 54.3,366.7 60.2,377.8 61.5,377.8 63.1,353.4 64.6,350.2 67.4,350.2 67.5,350.4 68.9,364 70.4,362.9 95.1,357.7 98.1,358.7 99.6,361.6 101.5,375.5 102.1,372.1 103.5,357.8 104,355.2 104.5,354.3 104.8,354.7 105.2,355.9 106.8,364.4 107.3,365.6 107.7,366 108,365.8 108.5,365 110,360.2 110.1,360.7 110.2,359.6 110.3,360.6 110.5,359.4 110.7,360.3 110.9,359.1 110.9,360.1 111,360.1 111.2,359.6 111.4,360.1 111.5,359.7 111.6,360.6 111.7,359.9 112,361.3 112.1,360.7 112.2,361.6 112.4,360.7 112.9,362.6 113,362 113,362.5 113.1,362.1 113.3,363.2 113.6,362.5 113.7,363.4 113.9,362.4 114,363.6 114.3,362.8 114.4,363.4 114.7,362.8 114.8,363.5 115,362.1 115.1,363.1 115.2,361.8 115.4,363 115.6,361.5 115.7,361.9 115.9,361.4 116,362.3 116.4,361 116.5,361.4 116.8,360.9 116.9,361.7 117.1,360.7 117.3,361.7 117.4,361 117.5,361.6 117.8,360.7 118.2,362.1 118.3,361.3 118.6,362.2 118.8,361.5 118.9,362.3 119,361.3 119.3,362.4 119.3,361.3 119.5,362.1 119.6,361.8 119.8,362.1 120,362 120.1,361.6 120.2,362.2 120.3,362.2 120.4,362.6 120.5,361.6 120.7,362.5 120.8,361.8 120.9,362.4 121.1,361.5 121.2,362.6 121.4,361.3 121.4,362.3 121.5,361.3 121.8,362.1 121.9,361.5 122,362.2 122.2,361.5 122.4,361.7 122.4,361.1 122.5,362 122.7,361.1 122.8,362.2 123.1,361.4 123.3,361.8 123.5,360.7 123.6,362 123.7,361.4 123.9,362 124,361.1 124.5,361.9 124.7,360.8 124.8,361.2 124.9,360.8 125,361.3 125.1,360.9 125.2,361.6 125.4,360.8 125.5,362 125.7,360.8 126,361.9 126.1,361 126.4,361.9 126.6,361.3 126.7,361.4 126.8,361 127,361.6 127.1,360.9 127.3,362 127.5,361.2 127.6,362.1 127.7,361 127.8,361.5 128,361.2 128.1,361.6 128.3,360.7 128.4,361.6 128.6,361.2 128.7,361.9 128.7,361 128.9,361.6 129.2,360.6 129.4,361.2 129.5,360.9 129.6,361.5 129.8,361 129.8,361.3 129.9,360.8 130.1,361.5 130.2,360.5 130.3,361.7 130.5,360.7 130.6,361.7 130.7,361.1 130.8,361.7 130.9,360.7 131.2,361.5 131.4,360.8 131.5,361.4 131.7,360.5 131.8,361.4 131.9,360.6 132,361.6 132.3,360.5 132.4,360.9 132.5,360.5 132.7,361.3 132.9,361.4 133,360.2 133.1,361.4 133.3,360.2 133.5,361.3 133.7,360.5 133.8,360.9 133.9,359.9 134.2,360.5 134.3,359.9 134.4,361 134.6,360.1 134.7,360.7 134.9,359.6 135,360.3 135.2,359.6 135.3,360.5 135.4,360.2 135.5,360.7 135.6,360.3 135.7,360.6 135.9,359.5 136.1,360.4 136.2,360.3 136.3,360.6 136.4,359.3 136.6,359.8 136.7,359.4 136.8,360 136.9,359.8 137,360 137.1,359.6 137.1,360.3 137.3,359.1 137.5,359.7 137.6,359.1 137.7,359.7 137.8,359 137.9,360 138,359 138.1,359.8 138.2,358.8 138.3,359.3 138.4,358.9 138.5,359.4 138.6,359.3 138.8,359.6 139,358.7 139.2,359.6 139.2,358.7 139.3,359.5 139.4,358.5 139.5,359.1 139.7,358.7 139.9,359.5 140,358.5 140.3,359.5 140.5,358.2 140.6,359.4 140.8,358.5 141,359 141.1,358.4 141.2,359.1 141.3,358.9 141.4,358 141.6,358.1 141.7,358.5 141.9,358.3 142,358.6 142.1,357.8 142.2,359.1 142.3,358.4 142.4,358.4 142.5,358.6 142.6,357.9 142.7,358.9 142.8,357.6 143.1,358.7 143.3,358 143.4,358.6 143.4,358.3 143.5,358.6 143.6,358.1 143.7,358.6 144,357.4 144.2,358.6 144.3,357.4 144.5,358.5 144.7,357.4 144.8,357.6 145,357.2 145.3,358.3 145.5,358 145.5,358.2 145.6,357.7 145.7,358.3 145.9,356.9 146,358.1 146.2,357.1 146.4,357.6 146.6,356.8 146.7,357.5 146.8,357.1 147,357.5 147.1,357.2 147.2,357.7 147.5,357.1 147.9,357.5 148.1,356.9 148.3,357.2 148.4,356.7 148.7,357.5 148.7,356.7 148.9,357.5 149,357 149.1,357.4 149.3,357.3 149.5,356.6 149.6,357.1 149.7,357 149.8,357.3 150,356.5 150.1,357.3 150.2,357.6 150.3,357.4 150.6,358.5 150.8,357.9 150.8,359.2 150.9,358.7 151,359.8 151.1,359.3 151.4,360.7 151.5,359.8 151.7,361.2 151.8,361.3 151.8,360.7 151.9,361.9 152.1,361.8 152.2,362.4 152.3,361.6 152.4,362.1 152.5,361.6 152.8,361.7 152.9,362.4 153,362.3 153.1,361.8 153.2,362.4 153.3,361.5 153.5,362.3 153.6,361.3 153.7,362 153.9,361.1 154,361.5 154.1,361.1 154.3,361.9 154.4,361 154.6,361.7 154.8,361.2 155,362.2 155,362 155.2,362.1 155.3,361.2 155.4,362 155.6,360.8 155.9,361.8 156,361.1 156.1,361.6 156.3,361 156.4,361.8 156.6,361.9 156.7,360.8 157,362 157.1,361 157.1,361.8 157.3,360.9 157.4,361.9 157.5,361.2 157.6,361.8 157.7,361.3 157.8,361.8 158,360.6 158.1,361.7 158.2,361 158.5,361.8 158.7,360.5 159,361.5 159.1,360.9 159.2,361.7 159.4,360.4 159.5,361 159.7,360.3 159.8,360.8 160.1,360.4 160.4,361.2 160.5,360.2 161,361.3 161.2,360.4 161.3,361.3 161.7,360.5 161.8,361.3 161.9,360.7 162.1,361.4 162.2,360.3 162.3,361.4 162.3,361.1 162.5,361.1 162.6,360.1 162.7,361.2 162.9,360.2 163,360.8 163.2,360.3 163.3,361 163.4,360.4 163.5,361.1 163.6,360.2 163.8,361.3 164,360.1 164.2,360.2 164.3,360 164.6,360.7 164.7,360.2 164.8,361.2 165.1,360.2 165.3,360.9 165.6,361.1 165.9,360.1 166.1,361.1 166.4,360.5 166.5,360.7 166.5,360.1 166.6,361 166.8,360.4 167,361.2 167.4,360.1 167.5,361.2 167.7,360 167.8,360.3 167.9,360 168,360.8 168.1,360 168.2,360.5 168.4,360.5 168.5,360.2 168.7,360.9 168.9,360.3 169,361 169.2,360.1 169.3,360.6 169.4,360.1 169.5,360.4 169.6,360 169.7,360.7 169.7,360.5 169.8,360.6 170,359.9 170.2,361 170.5,359.8 170.6,360.8 170.7,360.1 170.8,360.3 171.2,359.9 171.3,360.4 171.4,359.7 171.6,360.5 171.7,360.1 171.8,360.4 171.9,359.6 172.1,360.8 172.2,359.8 172.4,360.7 172.6,359.8 172.7,360.5 172.8,359.7 172.9,359.9 173,359.7 173.2,360.8 173.3,359.6 173.6,360.6 173.7,359.8 173.8,360.7 173.9,360 173.9,360.8 174,360.2 174.1,360.5 174.2,360.2 174.3,360.5 174.5,360.4 174.6,360.8 174.7,359.5 174.8,360.4 175.2,359.5 175.4,360.5 175.6,359.9 175.8,360.7 175.9,359.9 176,360.5 176.1,359.6 176.2,360.4 176.4,359.7 176.6,360.7 176.8,359.7 177,360.5 177,359.4 177.1,360.4 177.2,359.6 177.4,359.6 177.5,360.7 177.6,359.7 177.7,360.6 177.8,359.8 178,360.7 178.1,359.7 178.1,360.5 178.4,359.6 178.5,360.6 178.6,359.9 178.7,360.2 178.8,359.6 179,360 179.1,359.6 179.1,360.6 179.4,359.4 179.5,360.3 179.6,359.4 179.7,360.5 179.8,359.9 179.9,359.7 180,360.3 180.1,359.3 180.2,359.7 180.2,359.3 180.3,359.5 180.4,359.4 180.5,360.5 180.7,359.5 180.9,360.4 181,359.5 181.1,360 181.2,359.4 181.3,360 181.4,359.6 181.5,360.2 181.6,360 181.8,360.5 181.9,360 182,360.4 182.1,359.8 182.3,359.6 182.3,360 182.4,359.6 182.8,359.2" fill="none" stroke="#d9541a" stroke-width="0.85" stroke-linejoin="round" clip-path="url(#c9)"/>
<rect x="36.8" y="351.4" width="146" height="25.6" fill="none" stroke="#8a8a8a" stroke-width="1.2"/>
<line x1="36.8" y1="377" x2="36.8" y2="375.4" stroke="#404040" stroke-width="0.6"/>
<line x1="36.8" y1="351.4" x2="36.8" y2="353" stroke="#404040" stroke-width="0.6"/>
<line x1="66" y1="377" x2="66" y2="375.4" stroke="#404040" stroke-width="0.6"/>
<line x1="66" y1="351.4" x2="66" y2="353" stroke="#404040" stroke-width="0.6"/>
<line x1="95.2" y1="377" x2="95.2" y2="375.4" stroke="#404040" stroke-width="0.6"/>
<line x1="95.2" y1="351.4" x2="95.2" y2="353" stroke="#404040" stroke-width="0.6"/>
<line x1="124.4" y1="377" x2="124.4" y2="375.4" stroke="#404040" stroke-width="0.6"/>
<line x1="124.4" y1="351.4" x2="124.4" y2="353" stroke="#404040" stroke-width="0.6"/>
<line x1="153.6" y1="377" x2="153.6" y2="375.4" stroke="#404040" stroke-width="0.6"/>
<line x1="153.6" y1="351.4" x2="153.6" y2="353" stroke="#404040" stroke-width="0.6"/>
<line x1="182.8" y1="377" x2="182.8" y2="375.4" stroke="#404040" stroke-width="0.6"/>
<line x1="182.8" y1="351.4" x2="182.8" y2="353" stroke="#404040" stroke-width="0.6"/>
<line x1="36.8" y1="374.6" x2="38.4" y2="374.6" stroke="#404040" stroke-width="0.6"/>
<line x1="182.8" y1="374.6" x2="181.2" y2="374.6" stroke="#404040" stroke-width="0.6"/>
<line x1="36.8" y1="364" x2="38.4" y2="364" stroke="#404040" stroke-width="0.6"/>
<line x1="182.8" y1="364" x2="181.2" y2="364" stroke="#404040" stroke-width="0.6"/>
<line x1="36.8" y1="353.4" x2="38.4" y2="353.4" stroke="#404040" stroke-width="0.6"/>
<line x1="182.8" y1="353.4" x2="181.2" y2="353.4" stroke="#404040" stroke-width="0.6"/>
<text x="36.8" y="382.9" font-family='"Liberation Serif", serif' font-size="5.3" text-anchor="middle" fill="#404040" stroke="#404040" stroke-width="0.04">0</text>
<text x="66" y="382.9" font-family='"Liberation Serif", serif' font-size="5.3" text-anchor="middle" fill="#404040" stroke="#404040" stroke-width="0.04">20</text>
<text x="95.2" y="382.9" font-family='"Liberation Serif", serif' font-size="5.3" text-anchor="middle" fill="#404040" stroke="#404040" stroke-width="0.04">40</text>
<text x="124.4" y="382.9" font-family='"Liberation Serif", serif' font-size="5.3" text-anchor="middle" fill="#404040" stroke="#404040" stroke-width="0.04">60</text>
<text x="153.6" y="382.9" font-family='"Liberation Serif", serif' font-size="5.3" text-anchor="middle" fill="#404040" stroke="#404040" stroke-width="0.04">80</text>
<text x="182.8" y="382.9" font-family='"Liberation Serif", serif' font-size="5.3" text-anchor="middle" fill="#404040" stroke="#404040" stroke-width="0.04">100</text>
<text x="35.4" y="376.3" font-family='"Liberation Serif", serif' font-size="5.3" text-anchor="end" fill="#404040" stroke="#404040" stroke-width="0.04">−20</text>
<text x="35.4" y="365.7" font-family='"Liberation Serif", serif' font-size="5.3" text-anchor="end" fill="#404040" stroke="#404040" stroke-width="0.04">0</text>
<text x="35.4" y="355.1" font-family='"Liberation Serif", serif' font-size="5.3" text-anchor="end" fill="#404040" stroke="#404040" stroke-width="0.04">20</text>
<rect x="192.4" y="351.6" width="62.6" height="15.8" fill="#fff" stroke="#6a6a6a" stroke-width="0.7"/>
<line x1="195" y1="356" x2="214" y2="356" stroke="#5b9fd2" stroke-width="1.0"/>
<text x="216" y="357.9" font-family='"Liberation Sans", sans-serif' font-size="5.4" text-anchor="start" fill="#262626" stroke="#262626" stroke-width="0.12">Modified model</text>
<line x1="195" y1="363.4" x2="214" y2="363.4" stroke="#e8875d" stroke-width="1.0"/>
<text x="216" y="365.3" font-family='"Liberation Sans", sans-serif' font-size="5.4" text-anchor="start" fill="#262626" stroke="#262626" stroke-width="0.12">Classic model</text>
<text x="110.3" y="391" font-family='"Liberation Sans", sans-serif' font-size="6.3" text-anchor="middle" fill="#262626" stroke="#262626" stroke-width="0.12" textLength="21" lengthAdjust="spacingAndGlyphs">Time [s]</text>
<text x="0" y="0" font-family='"Liberation Serif", serif' font-size="6.4" text-anchor="middle" fill="#262626" stroke="#262626" stroke-width="0.04" transform="translate(22,364) rotate(-90)">δ<tspan font-size="4" dy="1.5">3</tspan><tspan dy="-1.5"> [°]</tspan></text>
<line x1="66" y1="397.4" x2="66" y2="423" stroke="#e3e3e3" stroke-width="0.6"/>
<line x1="95.2" y1="397.4" x2="95.2" y2="423" stroke="#e3e3e3" stroke-width="0.6"/>
<line x1="124.4" y1="397.4" x2="124.4" y2="423" stroke="#e3e3e3" stroke-width="0.6"/>
<line x1="153.6" y1="397.4" x2="153.6" y2="423" stroke="#e3e3e3" stroke-width="0.6"/>
<line x1="36.8" y1="416.6" x2="182.8" y2="416.6" stroke="#e3e3e3" stroke-width="0.6"/>
<line x1="36.8" y1="410.4" x2="182.8" y2="410.4" stroke="#e3e3e3" stroke-width="0.6"/>
<line x1="36.8" y1="404.2" x2="182.8" y2="404.2" stroke="#e3e3e3" stroke-width="0.6"/>
<line x1="36.8" y1="398" x2="182.8" y2="398" stroke="#e3e3e3" stroke-width="0.6"/>
<polyline points="36.8,411.3 37,409.4 37.1,414 37.2,413.9 37.3,413.2 37.4,407.1 37.5,406.3 37.6,409.3 37.7,409.1 37.9,419.5 38.2,422.8 38.5,410.2 38.6,410.3 38.7,411 38.9,409.3 39.2,410.8 39.3,410 39.4,411.4 39.5,409.8 39.6,409.8 39.7,410.3 39.8,409.6 39.9,410.8 40,409.8 40.2,410.5 40.3,409.8 40.5,410.9 40.6,410.7 40.7,411.6 40.8,410.4 40.9,409.9 41,409.9 41.1,410.1 41.3,409.7 41.4,411.6 41.5,410.7 41.6,411.1 41.9,409.6 42.2,412.1 42.3,409.4 42.4,410.9 42.5,409.3 42.9,411.7 43,410.9 43.2,410.4 43.3,409.8 43.4,411.4 43.5,410.8 43.6,410.7 43.7,409.5 44,410.5 44.1,411.4 44.2,410.4 44.3,412.4 44.6,410.2 44.8,410.1 44.9,409.9 45,411 45.1,410.7 45.3,411.3 45.4,410.2 45.5,411.4 45.7,408.3 45.9,410.7 46,411.1 46.1,410.1 46.2,410.8 46.3,410.8 46.4,408.7 46.5,411.2 46.6,410.2 46.7,410.6 46.8,409.1 47,411 47.1,409.4 47.3,411.2 47.4,411.1 47.5,412 47.8,410.4 48,411.2 48.1,410.5 48.2,410.8 48.4,410 48.6,411.1 48.7,411.2 48.8,410.2 48.9,412 49,410.3 49.1,410.3 49.2,413.6 49.4,410.7 49.5,411.9 49.6,410 49.7,409.8 49.8,410.4 49.9,410.5 50.2,409.9 50.4,410.3 50.5,409.8 50.6,409.8 50.7,411 50.8,408.9 50.9,411.7 51,409.9 51.1,411.1 51.2,410 51.3,410 51.4,409.7 51.5,409.9 51.6,409.6 51.7,408.2 51.9,413.1 52,408.8 52.1,409.3 52.2,410.8 52.3,410.8 52.5,411.3 52.6,410.7 52.7,411.5 52.8,409.5 52.9,409.9 53,409.9 53.1,410.9 53.3,407.7 53.4,410.2 53.5,411 53.6,410.6 53.7,411.7 53.8,410.6 53.9,410.9 54,409.6 54.1,410 54.2,409.1 54.4,413.2 54.5,408.2 54.6,408 54.7,410.6 54.9,410.3 55,406.4 55.3,412.4 55.4,410.1 55.5,410 55.6,409.3 55.7,409.4 55.8,406.4 56,412.4 56.1,410.8 56.2,410.8 56.3,411.1 56.5,409.4 56.6,411 56.7,409.3 56.8,410.5 56.9,414.6 57,410.8 57.3,409 57.4,411.5 57.5,407.6 57.6,413.3 57.8,411.3 57.9,407.3 58.1,409.9 58.2,407.4 58.3,412.8 58.5,409.6 58.7,413.7 58.8,410.4 59,407.5 59.1,408.5 59.2,412.4 59.3,409.9 59.4,410.5 59.6,408.4 59.7,411.5 59.8,408.7 59.9,410.1 60,409.6 60.1,416.3 60.2,411.3 60.3,411.1 60.4,414.7 60.5,414.7 60.6,420.3 60.8,410.2 60.9,407.4 61,407.3 61.1,405.3 61.2,408.3 61.3,406.3 61.4,410.3 61.5,411.2 61.6,409.4 61.7,412 61.8,408.4 62.1,412.7 62.2,410 62.4,408.9 62.5,412.1 62.6,413.2 62.7,410.9 62.8,411.1 63,414.2 63.1,412.7 63.2,408.3 63.5,415.3 63.9,406.1 64,413.7 64.1,411.5 64.2,412.3 64.5,413 64.6,407.7 64.7,411.6 64.8,410.7 64.9,404.5 65.2,413.7 65.3,409.6 65.4,409.8 65.5,411.8 65.6,406.3 65.7,410.7 65.8,411.3 66,407.9 66.1,409.4 66.2,409.8 66.3,411.8 66.4,409.9 66.5,414.5 66.6,409.1 66.9,411.9 67,409.5 67.1,410.3 67.2,413.5 67.3,411.5 67.4,412.7 67.5,409.2 67.7,412 67.8,410.3 67.9,411.5 68,411.8 68.1,411 68.2,411.2 68.3,406.9 68.4,410.1 68.5,404.2 68.7,411.1 68.8,410.7 68.9,408.9 69.2,413.4 69.4,407.1 69.6,412.7 69.7,409.4 69.9,406.7 70.1,409.8 70.2,413.2 70.3,408.9 70.4,409.8 70.5,408.6 70.7,411 70.8,408.5 70.9,408.9 71.1,413.1 71.2,410 71.3,413.5 71.6,409.3 71.8,411.4 71.9,408.4 72,412.1 72.1,411.8 72.2,408.9 72.3,410.3 72.5,410.1 72.6,410.4 72.7,411.4 72.8,409.3 72.9,408.6 73.1,413.1 73.2,412.8 73.3,405.3 73.4,405.3 73.5,413.8 73.6,413.7 73.8,408.4 74,409.1 74.1,411.3 74.2,411.6 74.3,413 74.5,408.6 74.7,413.9 74.9,409.7 75,409.9 75.1,411.6 75.2,411.7 75.3,407.1 75.4,412.7 75.5,410 75.6,411.2 75.7,411.3 75.8,412.7 75.9,410.9 76,410.3 76.1,414.9 76.2,409.6 76.4,411.1 76.5,411.3 76.6,414.2 76.7,409 76.8,407.2 76.9,413.6 77.2,409.4 77.3,409.4 77.4,411.6 77.5,411.4 77.6,412.5 77.8,411.2 77.9,409.2 78,411.5 78.1,411.1 78.2,417 78.5,407.8 78.8,410.3 79,410.4 79.1,409.8 79.2,413.8 79.3,408.5 79.5,412.7 79.6,412.9 79.7,409.1 79.8,409.2 79.9,406.7 80,413.8 80.1,412.6 80.2,408.9 80.3,414.2 80.4,409.5 80.5,409.9 80.7,408.6 80.8,410.4 81,409 81.2,409.4 81.3,411.6 81.4,412.1 81.5,409.4 81.6,408.7 81.8,411.2 81.9,414.9 82,409 82.1,414.1 82.3,409.2 82.4,414.3 82.5,414 82.6,407.2 82.7,412.9 82.8,411.1 82.9,404.4 83.1,414.2 83.3,409.1 83.4,408.6 83.6,408.5 83.7,412.3 83.9,408.2 84,413.5 84.1,409.7 84.2,410.5 84.4,409.3 84.5,410.1 84.6,409.8 84.7,410.7 84.9,407.8 85,409.4 85.1,415.7 85.2,406.6 85.3,411 85.4,410.3 85.5,413.4 85.7,410.9 85.8,414.3 86,408.2 86.1,410.5 86.2,403.8 86.3,407.3 86.4,407.9 86.5,406.1 86.7,411.9 86.8,410.5 86.9,412.5 87,412.9 87.1,410.3 87.2,410.5 87.3,411 87.4,413.9 87.6,408.8 87.7,409.8 88,410.5 88.1,407.9 88.2,411 88.4,409.9 88.5,411.1 88.7,408.5 88.9,413.6 89,409.4 89.1,410.8 89.2,409 89.4,413.5 89.5,409.9 89.6,412.8 89.7,409.9 89.9,412.9 90,408.3 90.2,411.3 90.3,409.4 90.4,410.7 90.5,409.4 90.6,411.1 90.9,410.1 91,410.7 91.1,409.7 91.2,410.1 91.3,411.7 91.4,409.8 91.5,411 91.7,411.6 92,410.4 92.1,410.5 92.2,410.4 92.3,410.9 92.4,410.4 92.5,411.2 92.7,410.2 92.9,409.7 93.2,412.2 93.4,409.7 93.5,411.8 93.6,410.2 93.7,410.4 93.8,409.9 93.9,411.3 94,410.2 94.1,410.6 94.2,410 94.3,410 94.4,410.2 94.5,412.4 94.7,408.7 94.9,410.1 95,407.9 95.1,411.2 95.2,409.1 95.3,408.9 95.5,411.1 95.6,409.9 95.7,410 95.8,412.5 95.9,409.8 96,414.2 96.1,408.4 96.2,410.4 96.3,406.8 96.4,411.1 96.5,411.8 96.6,409 96.7,412.5 96.9,405.1 97,413.4 97.1,413.9 97.3,407.4 97.5,409.5 97.6,411.7 97.9,407.7 98,408.1 98.1,407.7 98.2,410.2 98.3,409.6 98.4,413.7 98.5,407.7 98.6,407.6 98.8,412.5 98.9,412.4 99,409.3 99.1,411.7 99.3,407.2 99.4,410.6 99.5,411.4 99.7,410.4 99.8,405.2 99.9,410.6 100,409.6 100.1,410.6 100.3,409.9 100.4,412.5 100.5,406.4 100.7,415.3 100.8,411.1 100.9,412.8 101,411.7 101.1,405.5 101.2,411.1 101.3,411.1 101.4,410.9 101.5,407.4 101.6,407.3 101.7,407.7 101.8,412.8 101.9,412.2 102.1,409.1 102.2,412.4 102.3,408.6 102.5,406.5 102.8,411 102.9,408.8 103,413.8 103.1,413 103.3,407.2 103.5,411 103.6,411.5 103.8,408.1 103.9,409 104,407 104.1,416.1 104.2,410.3 104.3,411 104.5,408.8 104.6,413.8 104.8,409.2 104.9,413.6 105.1,406.2 105.3,412.6 105.4,410.9 105.5,411.2 105.6,409.8 105.7,409.7 105.9,414.6 106,415.3 106.2,414 106.3,417 106.4,407.7 106.5,409 106.6,408.9 106.7,411.5 107,406.5 107.1,410.7 107.2,408.5 107.3,413 107.5,407.9 107.7,413 107.8,410.3 107.9,411.2 108.1,409.7 108.2,414.1 108.4,407.2 108.5,408.5 108.6,407.2 108.8,409.5 108.9,408.9 109.1,412.3 109.2,410.4 109.3,410.3 109.4,413.8 109.6,409.6 109.9,411 110,409.2 110.1,412.8 110.2,406.8 110.3,410.7 110.4,411.6 110.5,410.9 110.7,410.3 110.8,413.2 110.9,409.3 111,413.1 111.1,410.4 111.2,412.4 111.3,410 111.4,410.9 111.5,410.4 111.7,407 111.9,411.9 112,406.8 112.3,409.2 112.4,411.5 112.5,412.1 112.6,411.2 112.7,411.9 112.8,407.1 112.9,412.8 113,407.8 113.2,411.7 113.3,410.6 113.4,407.2 113.5,408 113.6,412.6 113.7,409 113.8,411.5 113.9,409.9 114,416.9 114.1,406 114.2,410.1 114.3,408.7 114.4,409.3 114.5,412.5 114.7,407.3 114.8,409.7 114.9,407.8 115,407.1 115.1,415.8 115.3,409.7 115.4,410.1 115.5,410.2 115.6,414.6 115.7,411.4 115.8,412 115.9,408.3 116,411.6 116.1,408.9 116.3,412.6 116.4,410.7 116.5,412.7 116.6,410.2 116.7,409.6 116.8,405.7 116.9,410.9 117.1,408.4 117.2,408.2 117.3,406.3 117.5,416.6 117.6,409.9 117.7,408.3 117.8,403.5 117.9,414.3 118,411.3 118.1,412.4 118.2,412 118.3,408.7 118.4,409.3 118.5,409.1 118.7,413.7 118.8,408.5 118.9,413.6 119.1,408.6 119.2,411.2 119.3,411.2 119.5,407 119.6,407.2 119.8,410 120,414.3 120.1,403.4 120.4,414.1 120.5,410 120.7,411.9 120.8,409 120.9,411.1 121,411.2 121.1,409 121.2,413.6 121.3,407.5 121.4,408.4 121.5,413 121.6,409 121.7,412.1 121.9,410.1 122,410 122.1,409.1 122.2,410.7 122.3,405.8 122.4,411.7 122.5,407.6 122.6,411 122.7,410.8 122.8,412.3 122.9,412.7 123,407.6 123.1,409.9 123.2,409.3 123.3,410.6 123.5,406.4 123.6,409.2 124,414.4 124.1,411.8 124.3,413.7 124.4,411.9 124.6,410.4 124.7,414.7 124.9,408 125,412.7 125.1,408.7 125.3,412 125.4,405.6 125.6,412.8 125.7,408 125.9,412.8 126,406 126.1,412.1 126.2,412.6 126.3,411.5 126.4,417 126.5,407.3 126.7,415.8 126.9,411 127,411.1 127.1,411.9 127.3,407.2 127.4,413.4 127.5,414.2 127.6,412.4 127.7,405.9 127.8,410.3 127.9,409.2 128,410.5 128.1,410.8 128.3,413.8 128.4,406.2 128.5,410.8 128.6,410.8 128.7,408.9 128.8,410.3 129,416.1 129.1,405.1 129.3,411.2 129.4,408.5 129.6,412.6 129.9,405.6 130,412.9 130.1,411.8 130.2,412.6 130.5,408.3 130.7,412.7 130.8,409 131,410.6 131.1,413 131.2,412.9 131.5,418.6 131.6,407.6 131.7,412.1 132,407.8 132.1,412.6 132.2,412.7 132.3,411.4 132.4,411.7 132.7,408.8 132.8,409.3 132.9,409.4 133,416.3 133.1,411.5 133.2,410.8 133.3,410.7 133.4,405.7 133.6,414.5 133.8,408.2 134,403.7 134.1,408.7 134.2,407.8 134.3,408.8 134.4,406.1 134.5,415.5 134.6,407.4 134.7,414.9 134.9,404.7 135,410.3 135.1,406.3 135.2,411.4 135.3,408.5 135.4,412.5 135.5,411.9 135.6,414.1 135.7,408.2 135.8,408.3 135.9,412.1 136.2,408 136.4,415.1 136.5,407.3 136.6,413.4 136.7,409.6 136.8,413.9 136.9,413.9 137,411.4 137.1,413.8 137.3,408.3 137.4,411.8 137.5,411.4 137.6,412 137.8,408.6 137.9,411.1 138,408.4 138.1,410.3 138.2,409.2 138.3,411.1 138.4,408.5 138.6,415.2 138.7,408.4 138.8,410.4 138.9,409.8 139,403.6 139.1,410.5 139.3,412.5 139.4,410.9 139.5,413.1 139.6,409.8 139.7,413.2 139.8,412.4 139.9,414.1 140.2,408.7 140.3,410.5 140.4,409.7 140.6,404.7 140.8,413.8 141,412.6 141.1,412.7 141.2,408.3 141.3,409.5 141.4,408.1 141.6,411.1 141.7,407.6 141.8,409.8 141.9,410.3 142,408.9 142.1,412.7 142.2,407.6 142.3,412.9 142.4,409.5 142.5,409.7 142.6,407.3 142.7,411.4 142.8,409.3 143,418.1 143.1,412.5 143.2,415.6 143.4,413.4 143.7,419.5 143.8,411.6 143.9,415.1 144.1,408.5 144.2,407.3 144.3,407.3 144.4,406 144.5,410 144.7,413.9 144.8,411.2 145,414 145.1,412.9 145.2,407.8 145.3,408.9 145.4,407.1 145.5,412.3 145.6,412.9 145.8,409.1 145.9,408.8 146.1,413.4 146.2,409.3 146.3,412.6 146.4,409.1 146.5,412.7 146.6,410.4 146.7,410.2 146.8,414 146.9,413 147,413 147.1,412.4 147.2,412.4 147.3,410.6 147.4,410.4 147.5,410.5 147.6,405.3 147.7,411.1 147.8,411.5 147.9,407.5 148,412.8 148.2,406.2 148.4,412.9 148.5,411.2 148.6,414.2 148.7,409.4 148.8,410 148.9,411.6 149,410.2 149.1,410.9 149.2,408 149.3,412.4 149.4,407.8 149.5,407.1 149.7,412.4 149.8,408.7 149.9,408.1 150.1,414.2 150.2,413.4 150.3,411.2 150.4,412 150.6,408.8 150.7,410.2 150.8,407.3 150.9,413.1 151,410.8 151.1,412.2 151.3,410.2 151.4,415 151.5,407.8 151.7,412.2 151.8,407 151.9,412.3 152,408.8 152.1,412.5 152.2,409.1 152.3,411.3 152.5,405.3 152.6,415.7 152.7,406.1 153,412.3 153.1,408 153.2,411.3 153.3,408.8 153.4,412.7 153.7,408.3 153.8,410.8 153.9,409.9 154,411.9 154.1,411.6 154.2,408.3 154.3,415.1 154.5,411.7 154.6,411.3 154.7,408.5 154.8,412.1 154.9,412.1 155.1,406.4 155.2,413 155.4,408 155.5,409 155.6,413.8 155.7,412 155.8,412.4 155.9,412.1 156,410.9 156.1,411.7 156.2,408.3 156.3,414.1 156.4,412.9 156.5,409 156.6,409.3 156.7,411.8 156.8,411.6 156.9,412.8 157,406.9 157.1,415.2 157.2,407.8 157.3,412.6 157.4,408.1 157.5,407.8 157.6,412.8 157.9,405.6 158,411.5 158.1,411.7 158.2,411.1 158.4,412.4 158.6,405.4 158.7,413.7 158.8,407.8 158.9,412.8 159,410.9 159.1,411.1 159.2,414.7 159.3,409.6 159.5,414 159.6,408.3 159.7,411.3 159.8,411.5 159.9,407.5 160,411.7 160.2,404.1 160.5,412.9 160.7,408.2 160.8,413.4 160.9,414.2 161,407.7 161.1,410.9 161.2,410 161.3,410.8 161.4,409.2 161.5,409.7 161.6,408.6 161.7,412 161.8,411.5 161.9,407.6 162.1,412.7 162.3,408.1 162.4,410.3 162.6,409.5 162.7,409.3 162.8,415.3 162.9,409.1 163,411.8 163.1,407.7 163.2,408.2 163.3,412.7 163.4,409.3 163.5,408.5 163.6,412.2 163.7,407.3 163.8,411 163.9,409.1 164,410.9 164.1,411.3 164.2,407.6 164.4,413.5 164.6,408.6 164.7,410.6 164.9,405.8 165,410.4 165.1,407.1 165.2,415.2 165.3,409.6 165.4,413.9 165.5,414.1 165.6,411 165.7,411.1 165.8,411.1 165.9,413.2 166.1,410.5 166.2,411.9 166.3,412.8 166.4,413 166.5,410.1 166.6,414.3 166.8,408.7 166.9,417.3 167,405.6 167.1,412.1 167.3,411.3 167.5,413.3 167.6,409.9 167.7,411 167.8,408.8 167.9,410.6 168,409.6 168.1,411.6 168.2,407.1 168.4,413.6 168.6,407.4 168.7,409.7 168.8,405.6 168.9,411.4 169.1,408.5 169.2,409.8 169.3,415.6 169.4,409.8 169.5,410.5 169.8,410.1 169.9,409.2 170,409.4 170.1,408.5 170.2,412.8 170.3,414 170.5,406.9 170.7,415.3 170.9,408.8 171,409.5 171.1,414.3 171.3,406.9 171.4,413 171.5,406.2 171.6,409.5 171.8,410.6 171.9,411.8 172.1,407.5 172.2,415.5 172.3,409.9 172.4,412.4 172.5,408.7 172.6,409.4 172.7,408.8 172.9,414 173.2,407.1 173.3,410.2 173.5,412 173.7,410.1 173.8,410.5 173.9,412.4 174,406.1 174.1,409.2 174.2,406.8 174.6,412.6 174.7,412.5 174.8,409 174.9,409.2 175,412.6 175.1,407.9 175.3,414.7 175.4,412.7 175.5,414.5 175.6,407.1 175.8,413.4 175.9,411.9 176,403.5 176.1,412.8 176.2,412.5 176.3,407.7 176.4,411.4 176.5,405.4 176.6,408 176.7,405.2 177,409.9 177.1,405.3 177.2,409.4 177.3,409.3 177.4,411.3 177.5,417.8 177.6,409.5 177.7,408.7 177.8,410.5 177.9,410.3 178.1,413.2 178.2,409.3 178.3,411.9 178.5,409.4 178.6,406.6 178.8,412.5 178.9,413.7 179,405.7 179.1,412.5 179.3,410.1 179.4,410.9 179.5,410 179.6,413.2 179.8,407.9 179.9,410.7 180,405.9 180.2,412.2 180.3,408.8 180.4,413.2 180.6,411.3 180.7,411.5 180.8,414.4 180.9,408.2 181,410.8 181.1,409.2 181.2,411.7 181.3,411.5" fill="none" stroke="#2f84c6" stroke-width="0.7" stroke-linejoin="round" clip-path="url(#c10)"/>
<polyline points="36.8,410.9 37,409.9 37.3,411.3 37.4,410.4 37.5,411 37.6,410.2 37.7,411.3 37.8,409.8 37.9,410.6 38.1,410.8 38.3,409.6 38.4,411 38.6,409.5 38.7,410.8 38.8,411.1 38.9,410.7 39,411 39.1,410 39.2,410.6 39.3,409.4 39.5,410.8 39.7,409.4 39.8,410.4 39.9,410.5 40,410.1 40.1,410.4 40.2,410.2 40.3,411.2 40.5,409.8 40.6,410.1 40.7,409.4 40.8,409.5 40.9,411.1 41,409.4 41.1,411.1 41.3,409.8 41.4,410.5 41.5,409.5 41.8,411.5 41.9,409.6 42,410.3 42.1,409.3 42.2,410.7 42.3,409.9 42.4,410 42.5,411.4 42.7,409.6 42.9,411 43,410.1 43.1,409.9 43.2,411.6 43.3,410.2 43.4,411.6 43.5,410.7 43.6,411.3 43.7,409.9 43.8,411.6 43.9,409.2 44,410.9 44.1,409.3 44.2,411.3 44.3,411.2 44.4,411.5 44.5,411.2 44.6,411.6 44.7,410.6 44.8,410.9 44.9,409.2 45.1,410.8 45.3,411 45.5,409.3 45.6,411.5 45.7,409.9 45.8,411 45.9,409.3 46.1,411.5 46.2,411.6 46.3,411.3 46.4,409.1 46.5,409.5 46.6,411.7 46.7,409.6 46.8,411.7 47,410.6 47.1,411.6 47.2,410.5 47.4,411.5 47.5,410.2 47.7,410.3 47.9,411.8 48,409.3 48.1,411.7 48.2,410.3 48.3,411.2 48.4,410.9 48.5,409.3 48.6,410.4 48.7,410.4 48.8,409 48.9,411.6 49,409.8 49.1,410.9 49.2,409.1 49.4,411.4 49.5,409.5 49.6,410.6 49.7,408.9 49.8,409.7 49.9,409.7 50.1,411.6 50.4,408.9 50.5,412.5 50.6,409.3 50.7,409.4 50.8,410.9 50.9,408.4 51,411 51.2,407.6 51.3,409.8 51.4,408.2 51.5,409.3 51.6,409.5 51.8,412.6 51.9,408.3 52,411.2 52.3,408.2 52.5,409.5 52.6,409.5 52.7,412.8 52.8,412.1 52.9,412.3 53,408.3 53.1,411 53.2,411.6 53.3,409.8 53.4,412.4 53.5,411 53.6,412.3 53.7,412.2 53.8,410.3 53.9,413.1 54,407.9 54.2,410.7 54.6,412.4 54.7,407.7 54.9,410.9 55,409 55.1,412.3 55.2,410.1 55.3,409.4 55.5,412.5 55.6,411.3 55.7,412.5 55.9,407.8 56,412.4 56.3,408.9 56.4,411 56.5,411.9 56.6,411.7 56.8,408.1 56.9,410.8 57,408.4 57.4,411.3 57.5,409.4 57.6,409.6 57.8,411.7 57.9,407.6 58.1,411.7 58.2,410.2 58.3,412.4 58.4,412.4 58.5,408.9 58.6,409.3 58.7,408.7 58.9,398.3 59.1,405.8 59.2,418.4 59.3,417.5 59.4,404.8 59.6,401.6 59.8,415.2 59.9,431.2 60.2,403.7 60.5,418 60.6,413.1 60.7,416.3 60.8,411.6 60.9,412.6 61,412.2 61.2,407.7 61.5,412.1 61.6,409.7 61.8,412.8 62,412 62.1,408.3 62.2,411.6 62.3,410.8 62.4,408 62.5,413.5 62.8,408.4 62.9,410.4 63,408.6 63.1,413.6 63.3,407.4 63.4,411 63.5,408.2 63.6,407.5 63.7,407.2 63.8,407.1 63.9,410.7 64,407.3 64.1,407.7 64.2,412 64.4,408.6 64.6,413.2 64.7,413.7 64.8,410.7 64.9,410.3 65,411.3 65.1,410.7 65.2,412.3 65.3,409.4 65.5,407.5 65.6,412.6 65.8,409.9 65.9,410.2 66,407.8 66.1,408.9 66.2,412.5 66.3,408.9 66.5,413.2 66.8,408.7 66.9,412.2 67,412.2 67.1,408.8 67.2,407.8 67.5,412.8 67.6,412.9 67.7,409.9 67.8,411.8 68,408.4 68.1,411.9 68.4,408.5 68.5,408.8 68.6,412.5 68.8,408.8 68.9,409.1 69.2,410.4 69.3,412.5 69.4,411.7 69.5,413.3 69.8,407.2 69.9,408.5 70,407.4 70.1,409.8 70.2,409.8 70.3,409.3 70.4,411.1 70.5,407.7 70.6,412.1 70.7,412.6 70.8,408.6 70.9,413.1 71,411.7 71.1,411.8 71.2,409.1 71.3,412 71.4,407.4 71.6,410.1 71.7,408.1 71.8,413.3 72,409.3 72.1,411.1 72.3,410 72.4,408.8 72.5,409.6 72.6,413.7 72.8,410 72.9,409.9 73,407.8 73.1,411.2 73.2,410.8 73.3,412.3 73.4,412.5 73.7,407.9 73.8,410.2 74.1,408 74.2,408.8 74.3,413.7 74.4,410.7 74.6,412.6 74.7,412.9 74.8,408.8 75,413.3 75.1,407 75.2,411.1 75.4,407 75.5,409.9 75.7,412.7 75.8,410.4 75.9,411 76,407.4 76.1,409.4 76.2,408.1 76.4,409.1 76.5,407.9 76.7,411.1 76.8,410.1 76.9,413.8 77,409.4 77.2,412.7 77.3,408.3 77.4,407.9 77.6,412.1 77.7,408.4 77.8,412 77.9,409.6 78,410 78.1,412 78.3,408.8 78.4,411.4 78.5,407.1 78.6,410.2 78.8,407.8 79,411 79.1,408.4 79.3,413.2 79.4,407.2 79.5,407.5 79.6,410.7 79.7,411.7 79.8,410.8 79.9,412 80,411.3 80.1,413.5 80.3,408.4 80.4,411.5 80.5,411.7 80.7,411.3 80.8,407.7 81.2,412.9 81.3,412.6 81.4,412.9 81.5,407.2 81.6,407.4 81.7,412.8 81.8,413.7 81.9,412.9 82,409.7 82.1,408.8 82.2,408.9 82.3,409.9 82.4,409.2 82.6,411.1 82.8,407.8 83,409.9 83.1,412.8 83.2,410.7 83.4,408.8 83.6,409.5 83.7,413.1 83.8,409.1 83.9,407.6 84,407.3 84.1,411.4 84.2,412 84.3,407.9 84.4,410.4 84.5,411 84.6,410 84.7,412 84.9,408.7 85,412.9 85.1,408.8 85.2,408.9 85.3,408.6 85.4,412.3 85.7,407.1 85.8,413.8 86,413.6 86.1,412.5 86.2,413.4 86.3,413.1 86.4,407.2 86.6,408.4 86.7,412.8 86.9,409.2 87,409.2 87.1,408.4 87.2,409.2 87.3,412.5 87.4,408 87.5,409.6 87.6,407.4 87.8,410.8 87.9,408.9 88,410.8 88.1,407.7 88.2,412.6 88.4,408.1 88.5,413.1 88.6,409 88.7,408.4 88.9,412.5 89.1,409.2 89.2,411.6 89.3,407.5 89.4,411.4 89.6,408.8 89.7,412.7 89.8,407.9 90,411.5 90.2,408.7 90.3,411.5 90.4,408.9 90.6,411.8 90.8,409.6 90.9,411.1 91,410.2 91.2,411.3 91.3,409.7 91.4,409.8 91.5,410.8 91.6,411 91.7,409.6 91.8,411.6 91.9,409.5 92,411.4 92.1,410.9 92.2,411.5 92.3,409.8 92.4,410.8 92.5,410.4 92.6,411.5 92.7,411.2 92.8,409.8 92.9,411.4 93.1,411.3 93.4,409.2 93.5,410.9 93.7,409.2 93.8,409.3 93.9,411.1 94,411.4 94.1,408.7 94.3,410.1 94.4,412.2 94.5,410 94.6,412.6 94.7,409.4 94.8,409.2 95,413.2 95.1,412.7 95.2,413.6 95.3,407.5 95.5,413.8 95.6,407.4 95.7,412.3 95.9,412.5 96,413.5 96.1,413.4 96.2,407.8 96.3,412.3 96.8,408.4 96.9,412.9 97,413.3 97.1,411.8 97.2,412.1 97.4,407.1 97.5,407.3 97.6,412.7 97.7,412.9 97.9,410.2 98.1,408.3 98.2,412.9 98.3,412.8 98.4,408.6 98.5,410.2 98.6,408.9 98.7,413.3 98.8,408 98.9,411.8 99,411.1 99.1,411.9 99.2,408.7 99.4,413.2 99.5,412.2 99.6,412.9 99.7,413 99.9,410.5 100,410.6 100.1,413.4 100.3,408.7 100.4,411.9 100.5,412.6 100.6,411.3 100.7,412.5 100.8,409.5 100.9,413.5 101,407.5 101.1,411 101.2,410.7 101.3,413.7 101.4,409 101.5,412.4 101.6,408.6 101.7,412.3 101.8,408.9 101.9,411.9 102,411 102.1,407.8 102.3,410.5 102.4,413.4 102.5,413.1 102.7,411.8 102.9,407.4 103,410.1 103.1,407.5 103.2,410 103.3,409.6 103.5,412.9 103.7,409.4 103.8,413.3 103.9,408 104,408.8 104.1,408.1 104.3,411.6 104.4,408.6 104.5,408 104.6,408.1 104.7,413.3 104.8,410.6 105.2,407.9 105.3,410.3 105.4,411 105.5,408 105.6,408 105.7,407.6 105.8,407.9 105.9,411.5 106,408.8 106.1,411.1 106.2,409.2 106.3,410.6 106.5,407.2 106.6,412.9 106.7,413.1 106.8,410.8 106.9,411 107,409.9 107.1,410.9 107.2,407.7 107.3,410.2 107.5,410.9 107.7,407.6 107.8,412.9 107.9,408.8 108,412.9 108.3,407.7 108.4,411.3 108.5,412.5 108.7,407.9 108.8,412.5 108.9,413.6 109,409.9 109.1,411.4 109.2,408 109.3,407.7 109.4,407.6 109.5,407.3 109.6,410.9 109.7,409.3 109.9,412 110,411 110.1,411.7 110.2,409.7 110.4,413.1 110.5,412 110.6,413.3 110.7,413.3 110.9,413.6 111,411 111.1,411 111.2,413.3 111.3,407.8 111.4,408.4 111.5,408 111.6,411.3 111.7,412.7 111.8,413 111.9,407.8 112,413.8 112.3,407 112.5,407.7 112.6,411.4 112.7,409.6 112.8,409 113,412.5 113.1,407.5 113.2,411.9 113.3,409.3 113.4,411.6 113.5,412.4 113.7,409.1 113.8,412.6 113.9,408.5 114,413.7 114.1,409.9 114.2,408.7 114.3,408.4 114.4,412.4 114.5,407.6 114.7,413.3 114.8,412.2 114.9,413.3 115,408.2 115.1,411.6 115.2,412.3 115.3,408.8 115.4,408.8 115.5,409.5 115.6,409.7 115.7,407.3 115.8,411.7 115.9,409.1 116,408.3 116.1,408.5 116.2,409.5 116.3,409 116.4,412 116.5,411.6 116.6,409.9 116.7,412.8 116.8,409.3 117.1,411.7 117.2,408 117.3,413 117.4,408.1 117.5,410 117.7,407.2 117.9,412.4 118.1,407 118.2,411.7 118.3,413.2 118.4,408.2 118.6,413.6 118.7,407.2 118.8,413.7 119,407.5 119.1,412 119.2,408 119.5,412.9 119.6,410.6 119.7,409.5 119.9,408.7 120,413.4 120.1,412.7 120.3,407.6 120.4,410.4 120.5,407.2 120.7,412.3 120.9,409.8 121.1,413.4 121.2,411.3 121.3,411.5 121.5,408.3 121.6,409.9 121.7,408.1 121.9,410.8 122,410.8 122.1,408.3 122.2,407.9 122.3,413.6 122.4,409.7 122.5,410.6 122.6,407.2 122.7,410.2 122.9,407.8 123,412.9 123.2,408.1 123.3,412.6 123.5,408.4 123.6,410.2 123.7,408.2 123.9,411.5 124,411.8 124.1,411.7 124.3,407.9 124.4,410.5 124.6,407.4 124.9,410.1 125,412.1 125.1,411.4 125.2,411.3 125.3,410.2 125.4,412.4 125.5,411.3 125.7,413.2 125.8,411.5 125.9,411.3 126,413.1 126.2,410.9 126.3,408.3 126.5,413.2 126.8,407.4 127,413.6 127.1,411.3 127.2,411.3 127.3,407.2 127.6,411.8 127.8,407.8 127.9,412.7 128,409.2 128.2,412.2 128.3,409.7 128.4,412.6 128.5,412.4 128.6,410.8 128.7,412.7 129,411.2 129.1,413.6 129.2,411.4 129.3,412.5 129.4,409.2 129.5,408.6 129.6,409.3 129.7,407.1 129.9,413.3 130,408.2 130.2,413.5 130.3,409 130.4,408.3 130.5,412 130.6,412.4 130.7,411.2 130.8,411.7 130.9,409 131.1,412.5 131.2,411.8 131.4,408.9 131.5,411.9 131.6,408.5 131.7,408.8 131.8,409.7 131.9,412.6 132,410.8 132.1,410.8 132.2,407.8 132.3,410.4 132.4,408.6 132.5,408.7 132.6,409.8 132.7,408.3 132.9,411.9 133,409.1 133.1,408.7 133.3,410.6 133.4,408.4 133.5,408.7 133.6,412.8 133.9,409 134,411.4 134.1,408.5 134.2,410.3 134.3,408.7 134.4,413.1 134.6,408.3 134.7,407.5 134.8,409.2 135,408.2 135.1,408.8 135.3,413.3 135.4,412.2 135.5,413.6 135.6,407.3 135.8,411.3 135.9,407.3 136,413.5 136.3,411.2 136.4,407.1 136.5,412.1 136.6,411.1 136.7,413.5 136.9,410.3 137,413.3 137.2,407.5 137.3,410.9 137.5,407.5 137.6,411.5 137.7,410.5 137.8,410.5 137.9,413.8 138,413.2 138.1,407.1 138.2,413.5 138.4,411.2 138.7,411.7 139,407.4 139.1,409.3 139.2,407 139.3,410.8 139.4,410.2 139.5,413.7 139.6,411.5 139.7,412.1 139.8,411.7 139.9,409.4 140,412.9 140.1,411.8 140.2,407.5 140.3,407.7 140.4,412.7 140.5,410.9 140.6,412.7 140.7,409.4 140.8,410.7 141,411.1 141.2,407.5 141.3,413.3 141.6,409.8 141.7,412.1 141.8,408 141.9,412.2 142.1,407.9 142.2,408.2 142.4,413.2 142.5,413.3 142.6,407.6 142.7,407.9 142.8,407.5 142.9,413.5 143,408.8 143.1,412.9 143.2,407.2 143.4,412.7 143.5,408.4 143.6,409.6 143.7,408.9 143.9,410.1 144,411.9 144.1,411.3 144.2,409.1 144.3,410.9 144.5,408.3 144.6,410.6 144.7,410 144.8,411.5 145,409.5 145.1,413.2 145.2,407.3 145.3,408.3 145.4,413.1 145.6,408.8 145.9,413.7 146,413 146.2,409 146.3,412.6 146.5,407.1 146.6,412 146.7,407.6 147,412 147.1,409 147.2,409 147.4,411.4 147.5,408.4 147.6,409.3 147.7,413.3 147.8,412.2 147.9,412.9 148.2,407.5 148.3,412.2 148.4,413.8 148.5,408.3 148.6,408.7 148.8,410.8 148.9,410.6 149,409.8 149.1,413.6 149.2,408.2 149.3,411.7 149.4,409.1 149.6,407.3 149.7,409.9 149.8,407.4 149.9,413.1 150,407.8 150.1,412.2 150.2,409.9 150.3,408.7 150.4,408.3 150.7,410.3 150.8,412.5 150.9,408.8 151.1,413.4 151.3,408.5 151.6,413.6 151.7,410.3 151.9,407.8 152.1,407.2 152.2,409.8 152.3,407.8 152.4,408.3 152.5,412.5 152.6,412.2 152.7,408.3 153,410.5 153.2,408.7 153.3,412.8 153.4,413 153.6,409.6 153.7,413.6 153.8,407.2 153.9,413.1 154,412.4 154.1,408.8 154.2,407.6 154.4,413.7 154.6,407.1 154.7,413.4 154.8,407 154.9,412.4 155.1,407.7 155.2,412.7 155.4,413.3 155.5,409.2 155.6,412.6 155.7,408.7 155.8,411.1 155.9,410.5 156,408.1 156.1,407.6 156.2,407.8 156.3,408.9 156.4,411.3 156.5,411.9 156.7,408.6 156.9,413.1 157,413 157.1,407.8 157.3,413.7 157.4,410.5 157.6,413.6 157.8,413.5 157.9,408.4 158,413.2 158.1,410.5 158.3,408.7 158.4,411.9 158.5,410.9 158.6,411.4 158.7,407.8 158.8,408.8 158.9,413.6 159,410.8 159.1,411.1 159.2,410.9 159.4,413.3 159.5,408.9 159.6,411.4 159.7,407.2 159.8,409.4 159.9,410.1 160,413.4 160.3,411.9 160.5,413 160.6,408.9 160.7,409.1 160.8,408.8 160.9,411.8 161.1,407.4 161.2,412.9 161.3,407.9 161.5,407.3 161.6,410 161.7,410 161.8,410 162,411.7 162.1,407.9 162.2,412.4 162.3,407.4 162.4,412.2 162.6,409.8 162.7,412.8 162.8,412.1 162.9,409 163,412.5 163.1,413.3 163.3,407.7 163.4,407.1 163.5,411 163.6,407.8 163.7,413 163.8,409.3 163.9,412 164,411.9 164.1,408.4 164.2,411.6 164.3,407.7 164.4,412.3 164.5,411.2 164.6,413.4 164.9,407.3 165.1,411.6 165.3,407.9 165.4,409.7 165.5,409.8 165.6,408.5 165.7,409.2 165.9,412.5 166.1,408.9 166.4,412.9 166.5,407.8 166.6,412 166.7,409.3 166.9,413.6 167,409.8 167.1,412.2 167.3,408.9 167.4,412.6 167.6,409.4 167.7,409.1 167.8,413.6 167.9,408.9 168,413.2 168.1,408.5 168.4,413.6 168.5,407.1 168.6,410.4 168.7,408.6 168.8,410.9 168.9,410.4 169,407.5 169.1,407.3 169.2,409.6 169.3,407.8 169.4,413.7 169.5,409.4 169.7,409.4 169.8,411.5 169.9,410.5 170,407.5 170.2,413.5 170.3,412.2 170.4,411.7 170.5,412.3 170.6,408.9 170.7,410.5 170.8,410.3 170.9,412.4 171,410.7 171.1,410.2 171.2,413.4 171.3,413.7 171.4,413.4 171.5,409.4 171.7,412.2 171.9,408.1 172.1,412.6 172.2,407.7 172.3,413.5 172.4,410 172.5,413.6 172.6,409 172.7,408.7 172.8,411.6 172.9,407.3 173.1,413.7 173.2,410.5 173.4,411 173.5,408.2 173.6,410.3 173.7,408.6 173.8,411.5 173.9,408.6 174,408.4 174.1,410.7 174.2,407.7 174.3,413.1 174.5,408 174.6,413.6 174.8,408.6 174.9,412.7 175.1,408 175.2,410 175.3,408.7 175.4,413.4 175.6,407.4 175.7,407.2 175.8,412.1 175.9,413.3 176,410.8 176.1,410.2 176.2,410 176.3,407.7 176.4,413 176.5,410.8 176.6,411.9 176.7,408.1 176.9,407.1 177,407.5 177.1,408.7 177.2,407.3 177.3,413.3 177.4,412 177.5,407.3 177.6,411.4 177.7,410.9 177.8,413 177.9,407.6 178,411.6 178.1,412.7 178.3,408.6 178.5,412.3 178.7,411 178.8,409.4 178.9,409.2 179,412.4 179.3,407.9 179.4,412.7 179.5,412 179.6,412.1 179.7,410.4 179.8,411.4 179.9,410.1 180,409.7 180.1,413.2 180.2,407.7 180.3,412.9 180.4,407.1 180.5,413 180.6,409.3 180.7,409.3 180.9,413 181,407.4 181.1,407.9 181.2,413.2 181.5,411.4 181.7,412.8 181.9,407.9 182,413.3 182.2,408.3 182.3,408.6 182.4,411.5 182.5,408.2 182.6,411.4 182.7,409.4 182.8,411.9" fill="none" stroke="#d9541a" stroke-width="0.9" stroke-linejoin="round" clip-path="url(#c10)"/>
<rect x="36.8" y="397.4" width="146" height="25.6" fill="none" stroke="#8a8a8a" stroke-width="1.2"/>
<line x1="36.8" y1="423" x2="36.8" y2="421.4" stroke="#404040" stroke-width="0.6"/>
<line x1="36.8" y1="397.4" x2="36.8" y2="399" stroke="#404040" stroke-width="0.6"/>
<line x1="66" y1="423" x2="66" y2="421.4" stroke="#404040" stroke-width="0.6"/>
<line x1="66" y1="397.4" x2="66" y2="399" stroke="#404040" stroke-width="0.6"/>
<line x1="95.2" y1="423" x2="95.2" y2="421.4" stroke="#404040" stroke-width="0.6"/>
<line x1="95.2" y1="397.4" x2="95.2" y2="399" stroke="#404040" stroke-width="0.6"/>
<line x1="124.4" y1="423" x2="124.4" y2="421.4" stroke="#404040" stroke-width="0.6"/>
<line x1="124.4" y1="397.4" x2="124.4" y2="399" stroke="#404040" stroke-width="0.6"/>
<line x1="153.6" y1="423" x2="153.6" y2="421.4" stroke="#404040" stroke-width="0.6"/>
<line x1="153.6" y1="397.4" x2="153.6" y2="399" stroke="#404040" stroke-width="0.6"/>
<line x1="182.8" y1="423" x2="182.8" y2="421.4" stroke="#404040" stroke-width="0.6"/>
<line x1="182.8" y1="397.4" x2="182.8" y2="399" stroke="#404040" stroke-width="0.6"/>
<line x1="36.8" y1="416.6" x2="38.4" y2="416.6" stroke="#404040" stroke-width="0.6"/>
<line x1="182.8" y1="416.6" x2="181.2" y2="416.6" stroke="#404040" stroke-width="0.6"/>
<line x1="36.8" y1="410.4" x2="38.4" y2="410.4" stroke="#404040" stroke-width="0.6"/>
<line x1="182.8" y1="410.4" x2="181.2" y2="410.4" stroke="#404040" stroke-width="0.6"/>
<line x1="36.8" y1="404.2" x2="38.4" y2="404.2" stroke="#404040" stroke-width="0.6"/>
<line x1="182.8" y1="404.2" x2="181.2" y2="404.2" stroke="#404040" stroke-width="0.6"/>
<line x1="36.8" y1="398" x2="38.4" y2="398" stroke="#404040" stroke-width="0.6"/>
<line x1="182.8" y1="398" x2="181.2" y2="398" stroke="#404040" stroke-width="0.6"/>
<text x="36.8" y="428.9" font-family='"Liberation Serif", serif' font-size="5.3" text-anchor="middle" fill="#404040" stroke="#404040" stroke-width="0.04">0</text>
<text x="66" y="428.9" font-family='"Liberation Serif", serif' font-size="5.3" text-anchor="middle" fill="#404040" stroke="#404040" stroke-width="0.04">20</text>
<text x="95.2" y="428.9" font-family='"Liberation Serif", serif' font-size="5.3" text-anchor="middle" fill="#404040" stroke="#404040" stroke-width="0.04">40</text>
<text x="124.4" y="428.9" font-family='"Liberation Serif", serif' font-size="5.3" text-anchor="middle" fill="#404040" stroke="#404040" stroke-width="0.04">60</text>
<text x="153.6" y="428.9" font-family='"Liberation Serif", serif' font-size="5.3" text-anchor="middle" fill="#404040" stroke="#404040" stroke-width="0.04">80</text>
<text x="182.8" y="428.9" font-family='"Liberation Serif", serif' font-size="5.3" text-anchor="middle" fill="#404040" stroke="#404040" stroke-width="0.04">100</text>
<text x="35.4" y="418.3" font-family='"Liberation Serif", serif' font-size="5.3" text-anchor="end" fill="#404040" stroke="#404040" stroke-width="0.04">−1</text>
<text x="35.4" y="412.1" font-family='"Liberation Serif", serif' font-size="5.3" text-anchor="end" fill="#404040" stroke="#404040" stroke-width="0.04">0</text>
<text x="35.4" y="405.9" font-family='"Liberation Serif", serif' font-size="5.3" text-anchor="end" fill="#404040" stroke="#404040" stroke-width="0.04">1</text>
<text x="35.4" y="399.7" font-family='"Liberation Serif", serif' font-size="5.3" text-anchor="end" fill="#404040" stroke="#404040" stroke-width="0.04">2</text>
<rect x="192.4" y="397.6" width="62.6" height="16" fill="#fff" stroke="#6a6a6a" stroke-width="0.7"/>
<line x1="195" y1="401.4" x2="214" y2="401.4" stroke="#5b9fd2" stroke-width="1.0"/>
<text x="216" y="403.3" font-family='"Liberation Sans", sans-serif' font-size="5.4" text-anchor="start" fill="#262626" stroke="#262626" stroke-width="0.12">Modified model</text>
<line x1="195" y1="409.2" x2="214" y2="409.2" stroke="#e8875d" stroke-width="1.0"/>
<text x="216" y="411.1" font-family='"Liberation Sans", sans-serif' font-size="5.4" text-anchor="start" fill="#262626" stroke="#262626" stroke-width="0.12">Classic model</text>
<text x="110.3" y="437.6" font-family='"Liberation Sans", sans-serif' font-size="6.3" text-anchor="middle" fill="#262626" stroke="#262626" stroke-width="0.12" textLength="21" lengthAdjust="spacingAndGlyphs">Time [s]</text>
<text x="0" y="0" font-family='"Liberation Serif", serif' font-size="6.4" text-anchor="middle" fill="#262626" stroke="#262626" stroke-width="0.04" transform="translate(22,410) rotate(-90)">δ<tspan font-size="4" dy="1.5">4</tspan><tspan dy="-1.5"> [°]</tspan></text>
<text x="139.7" y="469.9" font-family='"Liberation Serif", serif' font-size="9.8" text-anchor="middle" fill="#111" stroke="#111" stroke-width="0.04" font-weight="bold">(c)</text>
<line x1="354.5" y1="239.8" x2="354.5" y2="420.2" stroke="#e6e6e6" stroke-width="0.6"/>
<line x1="392.5" y1="239.8" x2="392.5" y2="420.2" stroke="#e6e6e6" stroke-width="0.6"/>
<line x1="430.5" y1="239.8" x2="430.5" y2="420.2" stroke="#e6e6e6" stroke-width="0.6"/>
<line x1="468.5" y1="239.8" x2="468.5" y2="420.2" stroke="#e6e6e6" stroke-width="0.6"/>
<line x1="506.5" y1="239.8" x2="506.5" y2="420.2" stroke="#e6e6e6" stroke-width="0.6"/>
<line x1="316.5" y1="394.5" x2="544.5" y2="394.5" stroke="#e6e6e6" stroke-width="0.6"/>
<line x1="316.5" y1="368.8" x2="544.5" y2="368.8" stroke="#e6e6e6" stroke-width="0.6"/>
<line x1="316.5" y1="343" x2="544.5" y2="343" stroke="#e6e6e6" stroke-width="0.6"/>
<line x1="316.5" y1="317.2" x2="544.5" y2="317.2" stroke="#e6e6e6" stroke-width="0.6"/>
<line x1="316.5" y1="291.5" x2="544.5" y2="291.5" stroke="#e6e6e6" stroke-width="0.6"/>
<line x1="316.5" y1="265.8" x2="544.5" y2="265.8" stroke="#e6e6e6" stroke-width="0.6"/>
<line x1="316.5" y1="394.5" x2="544.5" y2="394.5" stroke="#ecd08e" stroke-width="1.5"/>
<polyline points="316.5,394.3 317.9,393.5 322,392.3 325,392.1 326.5,392.1 328,392.6 329.2,392.2 331.8,390.3 333,389.8 334.8,390.4 338.2,389.6 340,390 342.5,389.2 350,387.8 352.5,388.1 357.5,387.9 360,388.1 361.5,389 363,389.1 364.5,390.2 366,390.8 368,389.5 370,387.7 372,386.5 374,385 380,379.7 381.5,379.3 383,379.3 384.5,378.5 386,378.7 386.8,379 387.5,378.7 388.2,379.7 389,379.7 390,382 390.5,382.5 392.1,388.2 394,398.4 395.2,385.2 396.4,368.3 396.9,369.7 398.6,375.2 400.8,379.5 401.7,376.7 402.6,374.6 404.5,369 405.4,369.9 406.2,371.4 408,372.8 409.1,371.6 410.2,370.9 411.4,369.4 412.5,368.2 413.4,368.9 414.2,368.6 416,369.3 418.2,368.1 419.4,367.9 420.5,366.9 425.9,365.1 428.7,364.8 433.2,363.8 438.6,362.1 443.7,361.1 446.2,360.3 450.2,359.7 453.2,357.5 454.6,357.7 456.1,357.1 456.8,357.5 457.5,357.3 459,357.8 461.9,358.9 463.4,359.8 464.1,359.9 464.9,359.3 466.3,359.5 467,359.3 467.8,360.2 470.6,361.8 473.6,363.6 475,364.1 479.8,366.4 482.1,367.3 484.5,368.4 487.2,369.2 488.6,370 490,370.2 493.9,371 497.8,372.2 501.7,372.8 505.6,373.9 511.3,376.7 516.9,379.3 522.6,382 532.2,385.9 536.2,388.8 540.2,390.7 544.2,392.2" fill="none" stroke="#5a9bcb" stroke-width="1.1" stroke-linejoin="round" clip-path="url(#c11)"/>
<polyline points="316.5,394.5 322,388 326,387 330,388 338,378 343,377 352,371 364,367 370,368 376,356 380,351 383,349 386,350.5 388,354 390,362 391,372 393.6,406 394.6,400 395.6,386 396.4,367 398,370 399.4,376 401,360 403,328 404,322 406,317 408,318.5 410,319 418,309.6 430,299.6 450,280 456,271 460,266 462,264.6 464,265.5 466,267 470,268 478,275 488,290 507,328 514,337 526,360 543.5,386.4" fill="none" stroke="#de9470" stroke-width="1.1" stroke-linejoin="round" clip-path="url(#c11)"/>
<rect x="316.5" y="239.8" width="228" height="180.4" fill="none" stroke="#858585" stroke-width="1.25"/>
<line x1="316.5" y1="420.2" x2="316.5" y2="418.4" stroke="#555" stroke-width="0.6"/>
<line x1="316.5" y1="239.8" x2="316.5" y2="241.6" stroke="#555" stroke-width="0.6"/>
<line x1="354.5" y1="420.2" x2="354.5" y2="418.4" stroke="#555" stroke-width="0.6"/>
<line x1="354.5" y1="239.8" x2="354.5" y2="241.6" stroke="#555" stroke-width="0.6"/>
<line x1="392.5" y1="420.2" x2="392.5" y2="418.4" stroke="#555" stroke-width="0.6"/>
<line x1="392.5" y1="239.8" x2="392.5" y2="241.6" stroke="#555" stroke-width="0.6"/>
<line x1="430.5" y1="420.2" x2="430.5" y2="418.4" stroke="#555" stroke-width="0.6"/>
<line x1="430.5" y1="239.8" x2="430.5" y2="241.6" stroke="#555" stroke-width="0.6"/>
<line x1="468.5" y1="420.2" x2="468.5" y2="418.4" stroke="#555" stroke-width="0.6"/>
<line x1="468.5" y1="239.8" x2="468.5" y2="241.6" stroke="#555" stroke-width="0.6"/>
<line x1="506.5" y1="420.2" x2="506.5" y2="418.4" stroke="#555" stroke-width="0.6"/>
<line x1="506.5" y1="239.8" x2="506.5" y2="241.6" stroke="#555" stroke-width="0.6"/>
<line x1="544.5" y1="420.2" x2="544.5" y2="418.4" stroke="#555" stroke-width="0.6"/>
<line x1="544.5" y1="239.8" x2="544.5" y2="241.6" stroke="#555" stroke-width="0.6"/>
<line x1="316.5" y1="420.2" x2="318.3" y2="420.2" stroke="#555" stroke-width="0.6"/>
<line x1="544.5" y1="420.2" x2="542.7" y2="420.2" stroke="#555" stroke-width="0.6"/>
<line x1="316.5" y1="394.5" x2="318.3" y2="394.5" stroke="#555" stroke-width="0.6"/>
<line x1="544.5" y1="394.5" x2="542.7" y2="394.5" stroke="#555" stroke-width="0.6"/>
<line x1="316.5" y1="368.8" x2="318.3" y2="368.8" stroke="#555" stroke-width="0.6"/>
<line x1="544.5" y1="368.8" x2="542.7" y2="368.8" stroke="#555" stroke-width="0.6"/>
<line x1="316.5" y1="343" x2="318.3" y2="343" stroke="#555" stroke-width="0.6"/>
<line x1="544.5" y1="343" x2="542.7" y2="343" stroke="#555" stroke-width="0.6"/>
<line x1="316.5" y1="317.2" x2="318.3" y2="317.2" stroke="#555" stroke-width="0.6"/>
<line x1="544.5" y1="317.2" x2="542.7" y2="317.2" stroke="#555" stroke-width="0.6"/>
<line x1="316.5" y1="291.5" x2="318.3" y2="291.5" stroke="#555" stroke-width="0.6"/>
<line x1="544.5" y1="291.5" x2="542.7" y2="291.5" stroke="#555" stroke-width="0.6"/>
<line x1="316.5" y1="265.8" x2="318.3" y2="265.8" stroke="#555" stroke-width="0.6"/>
<line x1="544.5" y1="265.8" x2="542.7" y2="265.8" stroke="#555" stroke-width="0.6"/>
<line x1="316.5" y1="240" x2="318.3" y2="240" stroke="#555" stroke-width="0.6"/>
<line x1="544.5" y1="240" x2="542.7" y2="240" stroke="#555" stroke-width="0.6"/>
<text x="316.5" y="431.2" font-family='"Liberation Sans", sans-serif' font-size="7.4" text-anchor="middle" fill="#444" stroke="#444" stroke-width="0.12">0</text>
<text x="354.5" y="431.2" font-family='"Liberation Sans", sans-serif' font-size="7.4" text-anchor="middle" fill="#444" stroke="#444" stroke-width="0.12">0.5</text>
<text x="392.5" y="431.2" font-family='"Liberation Sans", sans-serif' font-size="7.4" text-anchor="middle" fill="#444" stroke="#444" stroke-width="0.12">1</text>
<text x="430.5" y="431.2" font-family='"Liberation Sans", sans-serif' font-size="7.4" text-anchor="middle" fill="#444" stroke="#444" stroke-width="0.12">1.5</text>
<text x="468.5" y="431.2" font-family='"Liberation Sans", sans-serif' font-size="7.4" text-anchor="middle" fill="#444" stroke="#444" stroke-width="0.12">2</text>
<text x="506.5" y="431.2" font-family='"Liberation Sans", sans-serif' font-size="7.4" text-anchor="middle" fill="#444" stroke="#444" stroke-width="0.12">2.5</text>
<text x="544.5" y="431.2" font-family='"Liberation Sans", sans-serif' font-size="7.4" text-anchor="middle" fill="#444" stroke="#444" stroke-width="0.12">3</text>
<text x="313.3" y="423.4" font-family='"Liberation Sans", sans-serif' font-size="7.4" text-anchor="end" fill="#444" stroke="#444" stroke-width="0.12">−0.5</text>
<text x="313.3" y="397.6" font-family='"Liberation Sans", sans-serif' font-size="7.4" text-anchor="end" fill="#444" stroke="#444" stroke-width="0.12">0</text>
<text x="313.3" y="371.9" font-family='"Liberation Sans", sans-serif' font-size="7.4" text-anchor="end" fill="#444" stroke="#444" stroke-width="0.12">0.5</text>
<text x="313.3" y="346.1" font-family='"Liberation Sans", sans-serif' font-size="7.4" text-anchor="end" fill="#444" stroke="#444" stroke-width="0.12">1</text>
<text x="313.3" y="320.4" font-family='"Liberation Sans", sans-serif' font-size="7.4" text-anchor="end" fill="#444" stroke="#444" stroke-width="0.12">1.5</text>
<text x="313.3" y="294.6" font-family='"Liberation Sans", sans-serif' font-size="7.4" text-anchor="end" fill="#444" stroke="#444" stroke-width="0.12">2</text>
<text x="313.3" y="268.9" font-family='"Liberation Sans", sans-serif' font-size="7.4" text-anchor="end" fill="#444" stroke="#444" stroke-width="0.12">2.5</text>
<text x="313.3" y="243.1" font-family='"Liberation Sans", sans-serif' font-size="7.4" text-anchor="end" fill="#444" stroke="#444" stroke-width="0.12">3</text>
<rect x="329" y="246.6" width="77" height="27.8" fill="#fff" stroke="#3a3a3a" stroke-width="0.9"/>
<line x1="331.6" y1="252.3" x2="352" y2="252.3" stroke="#5a9bcb" stroke-width="0.8"/>
<text x="354" y="255.1" font-family='"Liberation Sans", sans-serif' font-size="7.0" text-anchor="start" fill="#262626" stroke="#262626" stroke-width="0.12" textLength="43.67" lengthAdjust="spacingAndGlyphs">Modified model</text>
<line x1="331.6" y1="261.2" x2="352" y2="261.2" stroke="#de9470" stroke-width="0.8"/>
<text x="354" y="264" font-family='"Liberation Sans", sans-serif' font-size="7.0" text-anchor="start" fill="#262626" stroke="#262626" stroke-width="0.12" textLength="40.08" lengthAdjust="spacingAndGlyphs">Classic model</text>
<line x1="331.6" y1="270.2" x2="352" y2="270.2" stroke="#ecd08e" stroke-width="0.8"/>
<text x="354" y="273" font-family='"Liberation Sans", sans-serif' font-size="7.0" text-anchor="start" fill="#262626" stroke="#262626" stroke-width="0.12" textLength="50.46" lengthAdjust="spacingAndGlyphs">Desired trajectory</text>
<text x="430.7" y="441.8" font-family='"Liberation Sans", sans-serif' font-size="7.8" text-anchor="middle" fill="#333" stroke="#333" stroke-width="0.12" textLength="28.6" lengthAdjust="spacingAndGlyphs">East [m]</text>
<text x="536.5" y="443" font-family='"Liberation Sans", sans-serif' font-size="7.0" text-anchor="middle" fill="#444" stroke="#444" stroke-width="0.12">×10<tspan font-size="5" dy="-3">4</tspan></text>
<text x="0" y="0" font-family='"Liberation Sans", sans-serif' font-size="7.8" text-anchor="middle" fill="#333" stroke="#333" stroke-width="0.12" transform="translate(297.2,330) rotate(-90)">North [m]</text>
<text x="423.8" y="469.9" font-family='"Liberation Serif", serif' font-size="9.8" text-anchor="middle" fill="#111" stroke="#111" stroke-width="0.04" font-weight="bold">(d)</text>
<line x1="74" y1="490.6" x2="74" y2="671" stroke="#e6e6e6" stroke-width="0.6"/>
<line x1="111.9" y1="490.6" x2="111.9" y2="671" stroke="#e6e6e6" stroke-width="0.6"/>
<line x1="149.9" y1="490.6" x2="149.9" y2="671" stroke="#e6e6e6" stroke-width="0.6"/>
<line x1="187.9" y1="490.6" x2="187.9" y2="671" stroke="#e6e6e6" stroke-width="0.6"/>
<line x1="225.8" y1="490.6" x2="225.8" y2="671" stroke="#e6e6e6" stroke-width="0.6"/>
<line x1="36" y1="645.5" x2="263.8" y2="645.5" stroke="#e6e6e6" stroke-width="0.6"/>
<line x1="36" y1="619.7" x2="263.8" y2="619.7" stroke="#e6e6e6" stroke-width="0.6"/>
<line x1="36" y1="593.9" x2="263.8" y2="593.9" stroke="#e6e6e6" stroke-width="0.6"/>
<line x1="36" y1="568.1" x2="263.8" y2="568.1" stroke="#e6e6e6" stroke-width="0.6"/>
<line x1="36" y1="542.3" x2="263.8" y2="542.3" stroke="#e6e6e6" stroke-width="0.6"/>
<line x1="36" y1="516.5" x2="263.8" y2="516.5" stroke="#e6e6e6" stroke-width="0.6"/>
<polyline points="36,644.4 37.1,642.4 45.9,623.1 47.8,619.4 65.3,594.2 79.4,569.5 82,564.3 93.8,539.4 98,531 100.3,526.9 104.1,520.9 107.5,516.8 109,515.6 110.9,514.6 112.8,513.9 114.3,513.8 116.2,514.1 121.9,515.6 128,516.5 173.3,516.5 175.2,516.9 177.5,517.6 179.8,519.1 183.2,522.8 185.5,526.9 187.7,532.3 191.2,542.2 193.1,547 198,557.5 204.9,570.9 215.5,595.9 222,607.8 223.5,609.9 228.1,615.2 231.1,618.3 241,626.9 262.3,644.3 263.8,645.2" fill="none" stroke="#4f95c8" stroke-width="1.2" stroke-linejoin="round" clip-path="url(#c12)"/>
<polyline points="36,644.4 37.1,642.4 45.9,622.4 47.8,618.6 65.7,591.8 79.7,566.6 98.7,526 102.9,518.3 105.6,514 108.3,510.8 109.4,509.8 111.3,508.6 112.8,507.9 114,507.8 115.5,508 118.5,509.6 120.4,511.1 123.5,514.3 125,515.6 126.5,516.5 128.4,517.2 129.9,517.3 133.7,516.7 136,516.5 173.3,516.5 175.6,517 178.2,518 179.8,519 182.8,521.5 184.7,524 187,528.3 188.5,532 191.5,540.8 193.1,544.4 197.6,553.9 204.5,567.1 215.5,593.7 219.7,601.8 222,605.8 223.9,608.4 228.4,613.7 230.7,616.1 241,625.5 262.3,644.2 263.8,645.1" fill="none" stroke="#e8a585" stroke-width="1.2" stroke-linejoin="round" clip-path="url(#c12)"/>
<polyline points="36,644.4 37.1,642.4 45.9,623.1 47.8,619.4 64.1,595.9 66.4,592.3 80.1,568.1 92.7,542.9 98.4,532 100.3,528.9 103.3,524.5 105.2,522.1 107.1,520.2 109,518.7 111.3,517.5 113.2,516.9 116.2,516.5 172.5,516.5 175.6,517 177.5,517.6 179,518.5 182.8,521.8 183.9,523.2 185.1,525.1 187.7,530.8 191.2,540.6 193.1,545.3 197.6,554.9 204.9,568.9 215.5,594.3 220.4,603.8 222.7,607.5 228.4,614.4 231.5,617.5 241,626.1 262.3,644.2 263.8,645.1" fill="none" stroke="#666060" stroke-width="1.15" stroke-linejoin="round" clip-path="url(#c12)" stroke-dasharray="5.6 2.6"/>
<rect x="36" y="490.6" width="227.8" height="180.4" fill="none" stroke="#858585" stroke-width="1.25"/>
<line x1="36" y1="671" x2="36" y2="669.2" stroke="#555" stroke-width="0.6"/>
<line x1="36" y1="490.6" x2="36" y2="492.4" stroke="#555" stroke-width="0.6"/>
<line x1="74" y1="671" x2="74" y2="669.2" stroke="#555" stroke-width="0.6"/>
<line x1="74" y1="490.6" x2="74" y2="492.4" stroke="#555" stroke-width="0.6"/>
<line x1="111.9" y1="671" x2="111.9" y2="669.2" stroke="#555" stroke-width="0.6"/>
<line x1="111.9" y1="490.6" x2="111.9" y2="492.4" stroke="#555" stroke-width="0.6"/>
<line x1="149.9" y1="671" x2="149.9" y2="669.2" stroke="#555" stroke-width="0.6"/>
<line x1="149.9" y1="490.6" x2="149.9" y2="492.4" stroke="#555" stroke-width="0.6"/>
<line x1="187.9" y1="671" x2="187.9" y2="669.2" stroke="#555" stroke-width="0.6"/>
<line x1="187.9" y1="490.6" x2="187.9" y2="492.4" stroke="#555" stroke-width="0.6"/>
<line x1="225.8" y1="671" x2="225.8" y2="669.2" stroke="#555" stroke-width="0.6"/>
<line x1="225.8" y1="490.6" x2="225.8" y2="492.4" stroke="#555" stroke-width="0.6"/>
<line x1="263.8" y1="671" x2="263.8" y2="669.2" stroke="#555" stroke-width="0.6"/>
<line x1="263.8" y1="490.6" x2="263.8" y2="492.4" stroke="#555" stroke-width="0.6"/>
<line x1="36" y1="671.3" x2="37.8" y2="671.3" stroke="#555" stroke-width="0.6"/>
<line x1="263.8" y1="671.3" x2="262" y2="671.3" stroke="#555" stroke-width="0.6"/>
<line x1="36" y1="645.5" x2="37.8" y2="645.5" stroke="#555" stroke-width="0.6"/>
<line x1="263.8" y1="645.5" x2="262" y2="645.5" stroke="#555" stroke-width="0.6"/>
<line x1="36" y1="619.7" x2="37.8" y2="619.7" stroke="#555" stroke-width="0.6"/>
<line x1="263.8" y1="619.7" x2="262" y2="619.7" stroke="#555" stroke-width="0.6"/>
<line x1="36" y1="593.9" x2="37.8" y2="593.9" stroke="#555" stroke-width="0.6"/>
<line x1="263.8" y1="593.9" x2="262" y2="593.9" stroke="#555" stroke-width="0.6"/>
<line x1="36" y1="568.1" x2="37.8" y2="568.1" stroke="#555" stroke-width="0.6"/>
<line x1="263.8" y1="568.1" x2="262" y2="568.1" stroke="#555" stroke-width="0.6"/>
<line x1="36" y1="542.3" x2="37.8" y2="542.3" stroke="#555" stroke-width="0.6"/>
<line x1="263.8" y1="542.3" x2="262" y2="542.3" stroke="#555" stroke-width="0.6"/>
<line x1="36" y1="516.5" x2="37.8" y2="516.5" stroke="#555" stroke-width="0.6"/>
<line x1="263.8" y1="516.5" x2="262" y2="516.5" stroke="#555" stroke-width="0.6"/>
<line x1="36" y1="490.7" x2="37.8" y2="490.7" stroke="#555" stroke-width="0.6"/>
<line x1="263.8" y1="490.7" x2="262" y2="490.7" stroke="#555" stroke-width="0.6"/>
<text x="36" y="682" font-family='"Liberation Sans", sans-serif' font-size="7.4" text-anchor="middle" fill="#444" stroke="#444" stroke-width="0.12">0</text>
<text x="74" y="682" font-family='"Liberation Sans", sans-serif' font-size="7.4" text-anchor="middle" fill="#444" stroke="#444" stroke-width="0.12">0.5</text>
<text x="111.9" y="682" font-family='"Liberation Sans", sans-serif' font-size="7.4" text-anchor="middle" fill="#444" stroke="#444" stroke-width="0.12">1</text>
<text x="149.9" y="682" font-family='"Liberation Sans", sans-serif' font-size="7.4" text-anchor="middle" fill="#444" stroke="#444" stroke-width="0.12">1.5</text>
<text x="187.9" y="682" font-family='"Liberation Sans", sans-serif' font-size="7.4" text-anchor="middle" fill="#444" stroke="#444" stroke-width="0.12">2</text>
<text x="225.8" y="682" font-family='"Liberation Sans", sans-serif' font-size="7.4" text-anchor="middle" fill="#444" stroke="#444" stroke-width="0.12">2.5</text>
<text x="263.8" y="682" font-family='"Liberation Sans", sans-serif' font-size="7.4" text-anchor="middle" fill="#444" stroke="#444" stroke-width="0.12">3</text>
<text x="32.8" y="674.4" font-family='"Liberation Sans", sans-serif' font-size="7.4" text-anchor="end" fill="#444" stroke="#444" stroke-width="0.12">−1000</text>
<text x="32.8" y="648.6" font-family='"Liberation Sans", sans-serif' font-size="7.4" text-anchor="end" fill="#444" stroke="#444" stroke-width="0.12">0</text>
<text x="32.8" y="622.8" font-family='"Liberation Sans", sans-serif' font-size="7.4" text-anchor="end" fill="#444" stroke="#444" stroke-width="0.12">1000</text>
<text x="32.8" y="597" font-family='"Liberation Sans", sans-serif' font-size="7.4" text-anchor="end" fill="#444" stroke="#444" stroke-width="0.12">2000</text>
<text x="32.8" y="571.2" font-family='"Liberation Sans", sans-serif' font-size="7.4" text-anchor="end" fill="#444" stroke="#444" stroke-width="0.12">3000</text>
<text x="32.8" y="545.4" font-family='"Liberation Sans", sans-serif' font-size="7.4" text-anchor="end" fill="#444" stroke="#444" stroke-width="0.12">4000</text>
<text x="32.8" y="519.6" font-family='"Liberation Sans", sans-serif' font-size="7.4" text-anchor="end" fill="#444" stroke="#444" stroke-width="0.12">5000</text>
<text x="32.8" y="493.8" font-family='"Liberation Sans", sans-serif' font-size="7.4" text-anchor="end" fill="#444" stroke="#444" stroke-width="0.12">6000</text>
<rect x="186" y="494.6" width="76.4" height="27" fill="#fff" stroke="#3a3a3a" stroke-width="0.9"/>
<line x1="188" y1="499.4" x2="208.6" y2="499.4" stroke="#5a9cc8" stroke-width="1.0"/>
<text x="210.6" y="502.2" font-family='"Liberation Sans", sans-serif' font-size="7.0" text-anchor="start" fill="#262626" stroke="#262626" stroke-width="0.12" textLength="43.67" lengthAdjust="spacingAndGlyphs">Modified model</text>
<line x1="188" y1="508.2" x2="208.6" y2="508.2" stroke="#ecbca2" stroke-width="1.7"/>
<text x="210.6" y="511" font-family='"Liberation Sans", sans-serif' font-size="7.0" text-anchor="start" fill="#262626" stroke="#262626" stroke-width="0.12" textLength="40.08" lengthAdjust="spacingAndGlyphs">Classic model</text>
<line x1="188" y1="516.8" x2="208.6" y2="516.8" stroke="#7a7a7a" stroke-width="1.7" stroke-dasharray="5.2 2.8"/>
<text x="210.6" y="519.6" font-family='"Liberation Sans", sans-serif' font-size="7.0" text-anchor="start" fill="#262626" stroke="#262626" stroke-width="0.12" textLength="50.46" lengthAdjust="spacingAndGlyphs">Desired trajectory</text>
<text x="149.8" y="692.2" font-family='"Liberation Sans", sans-serif' font-size="7.8" text-anchor="middle" fill="#333" stroke="#333" stroke-width="0.12" textLength="28.4" lengthAdjust="spacingAndGlyphs">East [m]</text>
<text x="255.8" y="693.3" font-family='"Liberation Sans", sans-serif' font-size="7.0" text-anchor="middle" fill="#444" stroke="#444" stroke-width="0.12">×10<tspan font-size="5" dy="-3">4</tspan></text>
<text x="0" y="0" font-family='"Liberation Sans", sans-serif' font-size="7.8" text-anchor="middle" fill="#333" stroke="#333" stroke-width="0.12" transform="translate(10.8,581) rotate(-90)">Up [m]</text>
<text x="140.3" y="720.1" font-family='"Liberation Serif", serif' font-size="9.8" text-anchor="middle" fill="#111" stroke="#111" stroke-width="0.04" font-weight="bold">(e)</text>
<line x1="418.5" y1="679.4" x2="509.5" y2="650.7" stroke="#e0e0e0" stroke-width="0.6"/>
<line x1="395.3" y1="666.6" x2="486.3" y2="637.8" stroke="#e0e0e0" stroke-width="0.6"/>
<line x1="372.1" y1="653.7" x2="463.1" y2="625" stroke="#e0e0e0" stroke-width="0.6"/>
<line x1="348.9" y1="640.9" x2="439.9" y2="612.1" stroke="#e0e0e0" stroke-width="0.6"/>
<line x1="425.5" y1="677.2" x2="355.9" y2="638.7" stroke="#e0e0e0" stroke-width="0.6"/>
<line x1="453.5" y1="668.4" x2="383.9" y2="629.8" stroke="#e0e0e0" stroke-width="0.6"/>
<line x1="481.5" y1="659.5" x2="411.9" y2="621" stroke="#e0e0e0" stroke-width="0.6"/>
<line x1="355.9" y1="638.7" x2="355.9" y2="535.3" stroke="#e0e0e0" stroke-width="0.6"/>
<line x1="383.9" y1="629.8" x2="383.9" y2="526.4" stroke="#e0e0e0" stroke-width="0.6"/>
<line x1="411.9" y1="621" x2="411.9" y2="517.6" stroke="#e0e0e0" stroke-width="0.6"/>
<line x1="439.9" y1="612.1" x2="439.9" y2="508.7" stroke="#e0e0e0" stroke-width="0.6"/>
<line x1="348.9" y1="623.6" x2="439.9" y2="594.9" stroke="#e0e0e0" stroke-width="0.6"/>
<line x1="348.9" y1="606.4" x2="439.9" y2="577.6" stroke="#e0e0e0" stroke-width="0.6"/>
<line x1="348.9" y1="589.2" x2="439.9" y2="560.4" stroke="#e0e0e0" stroke-width="0.6"/>
<line x1="348.9" y1="571.9" x2="439.9" y2="543.2" stroke="#e0e0e0" stroke-width="0.6"/>
<line x1="348.9" y1="554.7" x2="439.9" y2="526" stroke="#e0e0e0" stroke-width="0.6"/>
<line x1="348.9" y1="537.5" x2="439.9" y2="508.7" stroke="#e0e0e0" stroke-width="0.6"/>
<line x1="509.5" y1="650.7" x2="509.5" y2="547.3" stroke="#e0e0e0" stroke-width="0.6"/>
<line x1="486.3" y1="637.8" x2="486.3" y2="534.4" stroke="#e0e0e0" stroke-width="0.6"/>
<line x1="463.1" y1="625" x2="463.1" y2="521.6" stroke="#e0e0e0" stroke-width="0.6"/>
<line x1="509.5" y1="633.4" x2="439.9" y2="594.9" stroke="#e0e0e0" stroke-width="0.6"/>
<line x1="509.5" y1="616.2" x2="439.9" y2="577.6" stroke="#e0e0e0" stroke-width="0.6"/>
<line x1="509.5" y1="599" x2="439.9" y2="560.4" stroke="#e0e0e0" stroke-width="0.6"/>
<line x1="509.5" y1="581.7" x2="439.9" y2="543.2" stroke="#e0e0e0" stroke-width="0.6"/>
<line x1="509.5" y1="564.5" x2="439.9" y2="526" stroke="#e0e0e0" stroke-width="0.6"/>
<line x1="509.5" y1="547.3" x2="439.9" y2="508.7" stroke="#e0e0e0" stroke-width="0.6"/>
<line x1="418.5" y1="679.4" x2="348.9" y2="640.9" stroke="#555" stroke-width="0.9"/>
<line x1="418.5" y1="679.4" x2="509.5" y2="650.7" stroke="#555" stroke-width="0.9"/>
<line x1="348.9" y1="640.9" x2="348.9" y2="537.5" stroke="#777" stroke-width="1.1"/>
<line x1="395.3" y1="666.6" x2="396.5" y2="666.2" stroke="#555" stroke-width="0.6"/>
<line x1="372.1" y1="653.7" x2="373.3" y2="653.3" stroke="#555" stroke-width="0.6"/>
<line x1="425.5" y1="677.2" x2="424.5" y2="676.6" stroke="#555" stroke-width="0.6"/>
<line x1="453.5" y1="668.4" x2="452.5" y2="667.8" stroke="#555" stroke-width="0.6"/>
<line x1="481.5" y1="659.5" x2="480.5" y2="658.9" stroke="#555" stroke-width="0.6"/>
<line x1="348.9" y1="640.9" x2="347.4" y2="640.9" stroke="#555" stroke-width="0.6"/>
<line x1="348.9" y1="623.6" x2="347.4" y2="623.6" stroke="#555" stroke-width="0.6"/>
<line x1="348.9" y1="606.4" x2="347.4" y2="606.4" stroke="#555" stroke-width="0.6"/>
<line x1="348.9" y1="589.2" x2="347.4" y2="589.2" stroke="#555" stroke-width="0.6"/>
<line x1="348.9" y1="571.9" x2="347.4" y2="571.9" stroke="#555" stroke-width="0.6"/>
<line x1="348.9" y1="554.7" x2="347.4" y2="554.7" stroke="#555" stroke-width="0.6"/>
<line x1="348.9" y1="537.5" x2="347.4" y2="537.5" stroke="#555" stroke-width="0.6"/>
<polyline points="425.5,676.1 421.8,657.6 416.1,636 412.1,618.3 406.5,591.1 405.1,585.6 403.9,581.8 402.6,579.3 401.8,578.2 400.9,577.5 384,568.1 382.6,567.8 381.7,568.3 380.7,569.8 379.8,572.2 377.4,584.3 373.9,597.8 370.7,612.3 369.3,617.5 368.3,620.6 366.4,624.5 363.9,628.1 356.6,637.7 355.9,638.3" fill="none" stroke="#3c3c3c" stroke-width="1.0" stroke-linejoin="round" stroke-dasharray="3.8 2.2"/>
<polyline points="425.5,676.1 425.2,667.2 423.1,658 422.9,651.6 420.8,643.8 418.8,631.3 415.8,617.8 412.3,609.2 413.1,595.5 414,585.7 413,578.3 411.3,576.1 408.5,575.6 404.7,575.9 399.9,576.8 415.5,571.3 407.9,573.3 412.3,571.5 409.3,571.8 410.3,570.4 408.8,569.9 408.7,568.7 404,562.7 403.6,561.4 402.9,561.4 401.9,561.8 400.3,563.2 399.5,564.2 399.1,566.9 396.9,571.7 394.4,579.2 387.9,594.9 382.4,611.7 380.7,615.9 378.9,619 375.8,622.7 369.6,628.2 359.4,636.3 357.1,637.9" fill="none" stroke="#f0c060" stroke-width="1.0" stroke-linejoin="round" stroke-dasharray="3.8 2.2"/>
<polyline points="425.5,676.1 427.4,666.3 426.7,659.5 424.9,654 427.9,643 426.9,637.1 427.4,624.4 426,606.6 423.6,597 428.3,585.4 429.8,578.3 429.9,573.8 428.2,570.3 426.9,569.5 425.7,568.8 420.7,568.6 415,569.7 395.7,574.3 400.5,572.4 416.1,567.3 410.3,569.4 435.3,562.8 438.2,562.2 440.3,562.1 440,562.3 438.9,562.7 438,562.7 440.7,559.3 442.4,555.6 447,548.8 450.1,546.6 450.8,546.2 451.6,546.2 451.7,546.7 449.2,549.7 447.4,555.4 445.9,559.1 444.3,562.3 441.2,567.8 435.6,574.7 432.8,578.3 430,582.5 420.6,594.7 418.1,597.5 413.3,602.7 408.4,607.2 403.5,610.7 400,613.5 396.5,615.9 380.3,625 360.6,636.7" fill="none" stroke="#a070c8" stroke-width="1.0" stroke-linejoin="round" stroke-dasharray="3.8 2.2"/>
<rect x="421" y="673.9" width="8.4" height="8.4" fill="#0000ff" stroke="#e08050" stroke-width="0.5"/>
<text x="344.3" y="641.8" font-family='"Liberation Sans", sans-serif' font-size="6.5" text-anchor="end" fill="#444" stroke="#444" stroke-width="0.12">0</text>
<text x="344.3" y="624.5" font-family='"Liberation Sans", sans-serif' font-size="6.5" text-anchor="end" fill="#444" stroke="#444" stroke-width="0.12">1000</text>
<text x="344.3" y="607.3" font-family='"Liberation Sans", sans-serif' font-size="6.5" text-anchor="end" fill="#444" stroke="#444" stroke-width="0.12">2000</text>
<text x="344.3" y="590.1" font-family='"Liberation Sans", sans-serif' font-size="6.5" text-anchor="end" fill="#444" stroke="#444" stroke-width="0.12">3000</text>
<text x="344.3" y="572.8" font-family='"Liberation Sans", sans-serif' font-size="6.5" text-anchor="end" fill="#444" stroke="#444" stroke-width="0.12">4000</text>
<text x="344.3" y="555.6" font-family='"Liberation Sans", sans-serif' font-size="6.5" text-anchor="end" fill="#444" stroke="#444" stroke-width="0.12">5000</text>
<text x="344.3" y="538.4" font-family='"Liberation Sans", sans-serif' font-size="6.5" text-anchor="end" fill="#444" stroke="#444" stroke-width="0.12">6000</text>
<text x="410.8" y="689" font-family='"Liberation Sans", sans-serif' font-size="7.0" text-anchor="middle" fill="#444" stroke="#444" stroke-width="0.12">0</text>
<text x="387.9" y="676.2" font-family='"Liberation Sans", sans-serif' font-size="7.0" text-anchor="middle" fill="#444" stroke="#444" stroke-width="0.12">1</text>
<text x="364.5" y="663.3" font-family='"Liberation Sans", sans-serif' font-size="7.0" text-anchor="middle" fill="#444" stroke="#444" stroke-width="0.12">2</text>
<text x="341.6" y="650.5" font-family='"Liberation Sans", sans-serif' font-size="7.0" text-anchor="middle" fill="#444" stroke="#444" stroke-width="0.12">3</text>
<text x="431.2" y="688.3" font-family='"Liberation Sans", sans-serif' font-size="7.0" text-anchor="middle" fill="#444" stroke="#444" stroke-width="0.12">0</text>
<text x="459" y="678.5" font-family='"Liberation Sans", sans-serif' font-size="7.0" text-anchor="middle" fill="#444" stroke="#444" stroke-width="0.12">1</text>
<text x="487.3" y="669.1" font-family='"Liberation Sans", sans-serif' font-size="7.0" text-anchor="middle" fill="#444" stroke="#444" stroke-width="0.12">2</text>
<text x="514.6" y="660" font-family='"Liberation Sans", sans-serif' font-size="7.0" text-anchor="middle" fill="#444" stroke="#444" stroke-width="0.12">3</text>
<text x="343.6" y="671" font-family='"Liberation Sans", sans-serif' font-size="6.8" text-anchor="middle" fill="#444" stroke="#444" stroke-width="0.12">×10<tspan font-size="5" dy="-3">4</tspan></text>
<text x="373.2" y="688.2" font-family='"Liberation Serif", serif' font-size="7.6" text-anchor="middle" fill="#333" stroke="#333" stroke-width="0.04" textLength="27" lengthAdjust="spacingAndGlyphs">East [m]</text>
<text x="471.2" y="689.6" font-family='"Liberation Serif", serif' font-size="7.6" text-anchor="middle" fill="#333" stroke="#333" stroke-width="0.04" textLength="31" lengthAdjust="spacingAndGlyphs">North [m]</text>
<text x="0" y="0" font-family='"Liberation Serif", serif' font-size="7.6" text-anchor="middle" fill="#333" stroke="#333" stroke-width="0.04" textLength="21" lengthAdjust="spacingAndGlyphs" transform="translate(325,590) rotate(-90)">Up [m]</text>
<rect x="439.2" y="583.1" width="100.3" height="33.8" fill="#fff" stroke="#3a3a3a" stroke-width="0.8"/>
<line x1="441.5" y1="587.5" x2="462" y2="587.5" stroke="#5a5a5a" stroke-width="1.0" stroke-dasharray="4.4 3"/>
<text x="463.2" y="590" font-family='"Liberation Sans", sans-serif' font-size="6.5" text-anchor="start" fill="#262626" stroke="#262626" stroke-width="0.12" textLength="47.11" lengthAdjust="spacingAndGlyphs">Desired trajectory</text>
<rect x="450.1" y="594.7" width="3.4" height="3.4" fill="#0000ff" stroke="#d06040" stroke-width="0.4"/>
<text x="463.2" y="598.9" font-family='"Liberation Sans", sans-serif' font-size="6.5" text-anchor="start" fill="#262626" stroke="#262626" stroke-width="0.12" textLength="42.12" lengthAdjust="spacingAndGlyphs">Launch position</text>
<line x1="441.5" y1="604.5" x2="462" y2="604.5" stroke="#f4cc7c" stroke-width="1.4" stroke-dasharray="4.4 3"/>
<text x="463.2" y="607" font-family='"Liberation Sans", sans-serif' font-size="6.5" text-anchor="start" fill="#262626" stroke="#262626" stroke-width="0.12" textLength="74.19" lengthAdjust="spacingAndGlyphs">Flight path - Modified model</text>
<line x1="441.5" y1="612.5" x2="462" y2="612.5" stroke="#b088d4" stroke-width="1.0" stroke-dasharray="4.4 3"/>
<text x="463.2" y="615" font-family='"Liberation Sans", sans-serif' font-size="6.5" text-anchor="start" fill="#262626" stroke="#262626" stroke-width="0.12" textLength="70.84" lengthAdjust="spacingAndGlyphs">Flight path - Classic model</text>
<text x="423.8" y="720.1" font-family='"Liberation Serif", serif' font-size="9.8" text-anchor="middle" fill="#111" stroke="#111" stroke-width="0.04" font-weight="bold">(f)</text></svg></body></html>
